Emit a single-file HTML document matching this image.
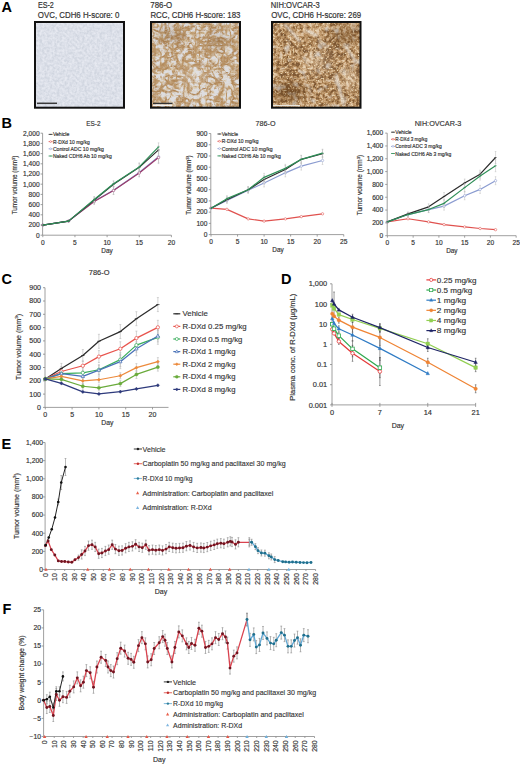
<!DOCTYPE html><html><head><meta charset="utf-8"><title>Figure</title><style>html,body{margin:0;padding:0;background:#fff;width:520px;height:764px;overflow:hidden}svg{display:block}text{font-family:"Liberation Sans",sans-serif}</style></head><body><svg width="520" height="764" viewBox="0 0 520 764" font-family='"Liberation Sans", sans-serif'>
<defs>
<linearGradient id="es2Base" x1="0" y1="0" x2="1" y2="1"><stop offset="0" stop-color="#dfe4ec"/><stop offset="1" stop-color="#dde3eb"/></linearGradient>
<linearGradient id="r786Base" x1="0" y1="0" x2="1" y2="1"><stop offset="0" stop-color="#d4bb9a"/><stop offset="1" stop-color="#d2b998"/></linearGradient>
<linearGradient id="ovcBase" x1="0" y1="0" x2="1" y2="1"><stop offset="0" stop-color="#b99a70"/><stop offset="1" stop-color="#b69870"/></linearGradient>
<filter id="es2" x="0" y="0" width="1" height="1" color-interpolation-filters="sRGB">
  <feTurbulence type="fractalNoise" baseFrequency="0.4" numOctaves="2" seed="3" result="n"/>
  <feColorMatrix in="n" type="matrix" values="2 0 0 0 -0.5  2 0 0 0 -0.5  2 0 0 0 -0.5  0 0 0 0 1" result="g"/>
  <feComponentTransfer in="g">
    <feFuncR type="table" tableValues="0.82 0.865 0.905"/>
    <feFuncG type="table" tableValues="0.84 0.88 0.915"/>
    <feFuncB type="table" tableValues="0.88 0.915 0.945"/>
  </feComponentTransfer>
</filter>
<filter id="r786" x="0" y="0" width="1" height="1" color-interpolation-filters="sRGB">
  <feTurbulence type="fractalNoise" baseFrequency="0.2 0.28" numOctaves="3" seed="7" result="n"/>
  <feColorMatrix in="n" type="matrix" values="2.0 0 0 0 -0.2  2.0 0 0 0 -0.2  2.0 0 0 0 -0.2  0 0 0 0 1" result="g"/>
  <feComponentTransfer in="g" result="base">
    <feFuncR type="table" tableValues="0.72 0.78 0.83 0.86 0.87 0.87"/>
    <feFuncG type="table" tableValues="0.60 0.67 0.75 0.81 0.85 0.87"/>
    <feFuncB type="table" tableValues="0.44 0.52 0.63 0.74 0.83 0.88"/>
  </feComponentTransfer>
  <feTurbulence type="turbulence" baseFrequency="0.09 0.13" numOctaves="3" seed="13" result="t"/>
  <feColorMatrix in="t" type="matrix" values="0 0 0 0 0.69  0 0 0 0 0.53  0 0 0 0 0.35  -4.2 0 0 0 1.38" result="veins"/>
  <feTurbulence type="turbulence" baseFrequency="0.13 0.09" numOctaves="3" seed="31" result="t2"/>
  <feColorMatrix in="t2" type="matrix" values="0 0 0 0 0.73  0 0 0 0 0.58  0 0 0 0 0.40  -4.2 0 0 0 1.22" result="veins2"/>
  <feMerge result="c"><feMergeNode in="base"/><feMergeNode in="veins"/><feMergeNode in="veins2"/></feMerge>
  <feGaussianBlur in="c" stdDeviation="0.35"/>
</filter>
<filter id="ovc" x="0" y="0" width="1" height="1" color-interpolation-filters="sRGB">
  <feTurbulence type="fractalNoise" baseFrequency="0.3" numOctaves="3" seed="5" result="n"/>
  <feTurbulence type="fractalNoise" baseFrequency="0.05" numOctaves="2" seed="21" result="m"/>
  <feComposite in="n" in2="m" operator="arithmetic" k1="0" k2="0.8" k3="0.3" k4="-0.05" result="nn"/>
  <feColorMatrix in="nn" type="matrix" values="2.4 0 0 0 -0.68  2.4 0 0 0 -0.68  2.4 0 0 0 -0.68  0 0 0 0 1" result="g"/>
  <feComponentTransfer in="g" result="base">
    <feFuncR type="table" tableValues="0.50 0.61 0.70 0.78 0.85 0.89"/>
    <feFuncG type="table" tableValues="0.35 0.45 0.54 0.63 0.73 0.80"/>
    <feFuncB type="table" tableValues="0.21 0.28 0.36 0.46 0.59 0.69"/>
  </feComponentTransfer>
  <feTurbulence type="fractalNoise" baseFrequency="0.12" numOctaves="2" seed="55" result="gr"/>
  <feColorMatrix in="gr" type="matrix" values="0 0 0 0 0.82  0 0 0 0 0.79  0 0 0 0 0.76  4 0 0 0 -2.3" result="gray"/>
  <feTurbulence type="fractalNoise" baseFrequency="0.6" numOctaves="1" seed="77" result="s"/>
  <feColorMatrix in="s" type="matrix" values="0 0 0 0 0.93  0 0 0 0 0.86  0 0 0 0 0.72  5 0 0 0 -2.85" result="specks"/>
  <feMerge result="c"><feMergeNode in="base"/><feMergeNode in="gray"/><feMergeNode in="specks"/></feMerge>
  <feGaussianBlur in="c" stdDeviation="0.3"/>
</filter>
<filter id="soft" x="-0.2" y="-0.2" width="1.4" height="1.4"><feGaussianBlur stdDeviation="0.8"/></filter>
<radialGradient id="dk"><stop offset="0" stop-color="#5a3510" stop-opacity="0.35"/><stop offset="1" stop-color="#5a3510" stop-opacity="0"/></radialGradient>
<radialGradient id="lt"><stop offset="0" stop-color="#f0ece6" stop-opacity="0.4"/><stop offset="1" stop-color="#f0ece6" stop-opacity="0"/></radialGradient>
</defs>
<rect x="0" y="0" width="520" height="764" fill="#fff"/>
<text x="1.50" y="12.00" font-size="14.5" font-weight="bold" fill="#000">A</text>
<text x="1.60" y="128.30" font-size="14.5" font-weight="bold" fill="#000">B</text>
<text x="1.60" y="284.40" font-size="14.5" font-weight="bold" fill="#000">C</text>
<text x="281.00" y="284.30" font-size="14.5" font-weight="bold" fill="#000">D</text>
<text x="1.60" y="448.70" font-size="14.5" font-weight="bold" fill="#000">E</text>
<text x="2.60" y="614.20" font-size="14.5" font-weight="bold" fill="#000">F</text>
<text x="37.90" y="7.80" font-size="8.9" stroke="#333333" stroke-width="0.2" fill="#333333" textLength="15.9" lengthAdjust="spacingAndGlyphs">ES-2</text>
<text x="37.80" y="18.40" font-size="8.9" stroke="#333333" stroke-width="0.2" fill="#333333" textLength="81.5" lengthAdjust="spacingAndGlyphs">OVC, CDH6  H-score: 0</text>
<text x="150.30" y="7.80" font-size="8.9" stroke="#333333" stroke-width="0.2" fill="#333333" textLength="21.8" lengthAdjust="spacingAndGlyphs">786-O</text>
<text x="150.40" y="18.40" font-size="8.9" stroke="#333333" stroke-width="0.2" fill="#333333" textLength="90.0" lengthAdjust="spacingAndGlyphs">RCC, CDH6  H-score: 183</text>
<text x="270.80" y="7.80" font-size="8.9" stroke="#333333" stroke-width="0.2" fill="#333333" textLength="49.0" lengthAdjust="spacingAndGlyphs">NIH:OVCAR-3</text>
<text x="271.20" y="18.40" font-size="8.9" stroke="#333333" stroke-width="0.2" fill="#333333" textLength="90" lengthAdjust="spacingAndGlyphs">OVC, CDH6  H-score: 269</text>
<rect x="35" y="22" width="89" height="85.7" fill="url(#es2Base)"/>
<rect x="35" y="22" width="89" height="85.7" filter="url(#es2)"/>
<clipPath id="clipes2"><rect x="35" y="22" width="89" height="85.7"/></clipPath>
<g clip-path="url(#clipes2)"></g>
<rect x="35" y="22" width="89" height="85.7" fill="none" stroke="#111" stroke-width="2"/>
<rect x="151" y="22" width="89" height="85.7" fill="url(#r786Base)"/>
<rect x="151" y="22" width="89" height="85.7" filter="url(#r786)"/>
<clipPath id="clipr786"><rect x="151" y="22" width="89" height="85.7"/></clipPath>
<g clip-path="url(#clipr786)"><ellipse cx="170" cy="35" rx="20" ry="14" fill="url(#dk)" opacity="0.5"/><ellipse cx="218" cy="40" rx="18" ry="14" fill="url(#dk)" opacity="0.4"/><ellipse cx="195" cy="75" rx="18" ry="12" fill="url(#lt)" opacity="0.6"/></g>
<rect x="151" y="22" width="89" height="85.7" fill="none" stroke="#111" stroke-width="2"/>
<rect x="272" y="22" width="88.5" height="85.7" fill="url(#ovcBase)"/>
<rect x="272" y="22" width="88.5" height="85.7" filter="url(#ovc)"/>
<clipPath id="clipovc"><rect x="272" y="22" width="88.5" height="85.7"/></clipPath>
<g clip-path="url(#clipovc)"><ellipse cx="345" cy="35" rx="22" ry="16" fill="url(#dk)"/><ellipse cx="290" cy="92" rx="26" ry="16" fill="url(#dk)"/><ellipse cx="318" cy="62" rx="22" ry="20" fill="url(#lt)" opacity="0.5"/><ellipse cx="350" cy="78" rx="12" ry="18" fill="url(#lt)" opacity="0.6"/><g filter="url(#soft)" stroke="#e6e2dc" stroke-width="2.2" fill="none" opacity="0.9"><path d="M284,24 C290,30 296,36 300,42"/><path d="M344,44 C348,50 352,56 356,62"/><path d="M336,74 C338,84 341,94 344,106"/><path d="M306,30 C310,33 314,34 318,36"/></g></g>
<rect x="272" y="22" width="88.5" height="85.7" fill="none" stroke="#111" stroke-width="2"/>
<line x1="37.00" y1="103.30" x2="57.00" y2="103.30" stroke="#3a3a3a" stroke-width="1.5" />
<line x1="153.00" y1="103.40" x2="172.50" y2="103.40" stroke="#333" stroke-width="1.3" />
<line x1="153.00" y1="105.30" x2="172.50" y2="105.30" stroke="#f2f2f2" stroke-width="1.4" />
<line x1="273.00" y1="105.60" x2="300.00" y2="105.60" stroke="#e8e4dc" stroke-width="1.2" />
<line x1="42.60" y1="133.20" x2="42.60" y2="235.20" stroke="#888" stroke-width="0.8" />
<line x1="40.60" y1="235.20" x2="42.60" y2="235.20" stroke="#888" stroke-width="0.8" />
<text x="39.60" y="237.51" font-size="6.6" stroke="#333333" stroke-width="0.16" text-anchor="end" fill="#333333">0</text>
<line x1="40.60" y1="225.00" x2="42.60" y2="225.00" stroke="#888" stroke-width="0.8" />
<text x="39.60" y="227.31" font-size="6.6" stroke="#333333" stroke-width="0.16" text-anchor="end" fill="#333333">200</text>
<line x1="40.60" y1="214.80" x2="42.60" y2="214.80" stroke="#888" stroke-width="0.8" />
<text x="39.60" y="217.11" font-size="6.6" stroke="#333333" stroke-width="0.16" text-anchor="end" fill="#333333">400</text>
<line x1="40.60" y1="204.60" x2="42.60" y2="204.60" stroke="#888" stroke-width="0.8" />
<text x="39.60" y="206.91" font-size="6.6" stroke="#333333" stroke-width="0.16" text-anchor="end" fill="#333333">600</text>
<line x1="40.60" y1="194.40" x2="42.60" y2="194.40" stroke="#888" stroke-width="0.8" />
<text x="39.60" y="196.71" font-size="6.6" stroke="#333333" stroke-width="0.16" text-anchor="end" fill="#333333">800</text>
<line x1="40.60" y1="184.20" x2="42.60" y2="184.20" stroke="#888" stroke-width="0.8" />
<text x="39.60" y="186.51" font-size="6.6" stroke="#333333" stroke-width="0.16" text-anchor="end" fill="#333333">1,000</text>
<line x1="40.60" y1="174.00" x2="42.60" y2="174.00" stroke="#888" stroke-width="0.8" />
<text x="39.60" y="176.31" font-size="6.6" stroke="#333333" stroke-width="0.16" text-anchor="end" fill="#333333">1,200</text>
<line x1="40.60" y1="163.80" x2="42.60" y2="163.80" stroke="#888" stroke-width="0.8" />
<text x="39.60" y="166.11" font-size="6.6" stroke="#333333" stroke-width="0.16" text-anchor="end" fill="#333333">1,400</text>
<line x1="40.60" y1="153.60" x2="42.60" y2="153.60" stroke="#888" stroke-width="0.8" />
<text x="39.60" y="155.91" font-size="6.6" stroke="#333333" stroke-width="0.16" text-anchor="end" fill="#333333">1,600</text>
<line x1="40.60" y1="143.40" x2="42.60" y2="143.40" stroke="#888" stroke-width="0.8" />
<text x="39.60" y="145.71" font-size="6.6" stroke="#333333" stroke-width="0.16" text-anchor="end" fill="#333333">1,800</text>
<line x1="40.60" y1="133.20" x2="42.60" y2="133.20" stroke="#888" stroke-width="0.8" />
<text x="39.60" y="135.51" font-size="6.6" stroke="#333333" stroke-width="0.16" text-anchor="end" fill="#333333">2,000</text>
<line x1="42.60" y1="235.20" x2="171.40" y2="235.20" stroke="#888" stroke-width="0.8" />
<line x1="42.80" y1="235.20" x2="42.80" y2="237.20" stroke="#888" stroke-width="0.8" />
<text x="42.80" y="244.50" font-size="6.6" stroke="#333333" stroke-width="0.16" text-anchor="middle" fill="#333333">0</text>
<line x1="74.95" y1="235.20" x2="74.95" y2="237.20" stroke="#888" stroke-width="0.8" />
<text x="74.95" y="244.50" font-size="6.6" stroke="#333333" stroke-width="0.16" text-anchor="middle" fill="#333333">5</text>
<line x1="107.10" y1="235.20" x2="107.10" y2="237.20" stroke="#888" stroke-width="0.8" />
<text x="107.10" y="244.50" font-size="6.6" stroke="#333333" stroke-width="0.16" text-anchor="middle" fill="#333333">10</text>
<line x1="139.25" y1="235.20" x2="139.25" y2="237.20" stroke="#888" stroke-width="0.8" />
<text x="139.25" y="244.50" font-size="6.6" stroke="#333333" stroke-width="0.16" text-anchor="middle" fill="#333333">15</text>
<line x1="171.40" y1="235.20" x2="171.40" y2="237.20" stroke="#888" stroke-width="0.8" />
<text x="171.40" y="244.50" font-size="6.6" stroke="#333333" stroke-width="0.16" text-anchor="middle" fill="#333333">20</text>
<text x="107.00" y="252.80" font-size="6.4" stroke="#333333" stroke-width="0.16" text-anchor="middle" fill="#333333">Day</text>
<text x="93.40" y="125.70" font-size="8.0" stroke="#333333" stroke-width="0.16" text-anchor="middle" fill="#333333" textLength="14.2" lengthAdjust="spacingAndGlyphs">ES-2</text>
<text x="17.20" y="185.00" font-size="6.4" stroke="#333333" stroke-width="0.16" text-anchor="middle" fill="#333333" textLength="58.7" lengthAdjust="spacingAndGlyphs" transform="rotate(-90 17.20 185.00)">Tumor volume (mm<tspan font-size="4.2" dy="-2.2">3</tspan><tspan dy="2.2">)</tspan></text>
<line x1="94.24" y1="198.03" x2="94.24" y2="204.03" stroke="#bbb" stroke-width="0.5" />
<line x1="93.44" y1="198.03" x2="95.04" y2="198.03" stroke="#bbb" stroke-width="0.5" />
<line x1="93.44" y1="204.03" x2="95.04" y2="204.03" stroke="#bbb" stroke-width="0.5" />
<line x1="113.53" y1="186.32" x2="113.53" y2="194.32" stroke="#bbb" stroke-width="0.5" />
<line x1="112.73" y1="186.32" x2="114.33" y2="186.32" stroke="#bbb" stroke-width="0.5" />
<line x1="112.73" y1="194.32" x2="114.33" y2="194.32" stroke="#bbb" stroke-width="0.5" />
<line x1="139.25" y1="168.47" x2="139.25" y2="176.47" stroke="#bbb" stroke-width="0.5" />
<line x1="138.45" y1="168.47" x2="140.05" y2="168.47" stroke="#bbb" stroke-width="0.5" />
<line x1="138.45" y1="176.47" x2="140.05" y2="176.47" stroke="#bbb" stroke-width="0.5" />
<line x1="158.54" y1="150.66" x2="158.54" y2="162.66" stroke="#bbb" stroke-width="0.5" />
<line x1="157.74" y1="150.66" x2="159.34" y2="150.66" stroke="#bbb" stroke-width="0.5" />
<line x1="157.74" y1="162.66" x2="159.34" y2="162.66" stroke="#bbb" stroke-width="0.5" />
<polyline points="42.80,225.15 68.52,221.12 94.24,201.03 113.53,190.32 139.25,172.47 158.54,156.66" fill="none" stroke="#8a9bd0" stroke-width="1.2" stroke-linejoin="round" />
<circle cx="42.80" cy="225.15" r="1.2" fill="#fff" stroke="#8a9bd0" stroke-width="0.55"/>
<circle cx="68.52" cy="221.12" r="1.2" fill="#fff" stroke="#8a9bd0" stroke-width="0.55"/>
<circle cx="94.24" cy="201.03" r="1.2" fill="#fff" stroke="#8a9bd0" stroke-width="0.55"/>
<circle cx="113.53" cy="190.32" r="1.2" fill="#fff" stroke="#8a9bd0" stroke-width="0.55"/>
<circle cx="139.25" cy="172.47" r="1.2" fill="#fff" stroke="#8a9bd0" stroke-width="0.55"/>
<circle cx="158.54" cy="156.66" r="1.2" fill="#fff" stroke="#8a9bd0" stroke-width="0.55"/>
<line x1="94.24" y1="198.54" x2="94.24" y2="204.54" stroke="#bbb" stroke-width="0.5" />
<line x1="93.44" y1="198.54" x2="95.04" y2="198.54" stroke="#bbb" stroke-width="0.5" />
<line x1="93.44" y1="204.54" x2="95.04" y2="204.54" stroke="#bbb" stroke-width="0.5" />
<line x1="113.53" y1="186.52" x2="113.53" y2="194.52" stroke="#bbb" stroke-width="0.5" />
<line x1="112.73" y1="186.52" x2="114.33" y2="186.52" stroke="#bbb" stroke-width="0.5" />
<line x1="112.73" y1="194.52" x2="114.33" y2="194.52" stroke="#bbb" stroke-width="0.5" />
<line x1="139.25" y1="168.98" x2="139.25" y2="176.98" stroke="#bbb" stroke-width="0.5" />
<line x1="138.45" y1="168.98" x2="140.05" y2="168.98" stroke="#bbb" stroke-width="0.5" />
<line x1="138.45" y1="176.98" x2="140.05" y2="176.98" stroke="#bbb" stroke-width="0.5" />
<line x1="158.54" y1="151.58" x2="158.54" y2="163.58" stroke="#bbb" stroke-width="0.5" />
<line x1="157.74" y1="151.58" x2="159.34" y2="151.58" stroke="#bbb" stroke-width="0.5" />
<line x1="157.74" y1="163.58" x2="159.34" y2="163.58" stroke="#bbb" stroke-width="0.5" />
<polyline points="42.80,225.15 68.52,221.12 94.24,201.54 113.53,190.52 139.25,172.98 158.54,157.58" fill="none" stroke="#9a3a6a" stroke-width="1.2" stroke-linejoin="round" />
<circle cx="42.80" cy="225.15" r="1.2" fill="#fff" stroke="#9a3a6a" stroke-width="0.55"/>
<circle cx="68.52" cy="221.12" r="1.2" fill="#fff" stroke="#9a3a6a" stroke-width="0.55"/>
<circle cx="94.24" cy="201.54" r="1.2" fill="#fff" stroke="#9a3a6a" stroke-width="0.55"/>
<circle cx="113.53" cy="190.52" r="1.2" fill="#fff" stroke="#9a3a6a" stroke-width="0.55"/>
<circle cx="139.25" cy="172.98" r="1.2" fill="#fff" stroke="#9a3a6a" stroke-width="0.55"/>
<circle cx="158.54" cy="157.58" r="1.2" fill="#fff" stroke="#9a3a6a" stroke-width="0.55"/>
<line x1="94.24" y1="197.06" x2="94.24" y2="203.06" stroke="#bbb" stroke-width="0.5" />
<line x1="93.44" y1="197.06" x2="95.04" y2="197.06" stroke="#bbb" stroke-width="0.5" />
<line x1="93.44" y1="203.06" x2="95.04" y2="203.06" stroke="#bbb" stroke-width="0.5" />
<line x1="113.53" y1="181.20" x2="113.53" y2="187.20" stroke="#bbb" stroke-width="0.5" />
<line x1="112.73" y1="181.20" x2="114.33" y2="181.20" stroke="#bbb" stroke-width="0.5" />
<line x1="112.73" y1="187.20" x2="114.33" y2="187.20" stroke="#bbb" stroke-width="0.5" />
<line x1="139.25" y1="163.37" x2="139.25" y2="171.37" stroke="#bbb" stroke-width="0.5" />
<line x1="138.45" y1="163.37" x2="140.05" y2="163.37" stroke="#bbb" stroke-width="0.5" />
<line x1="138.45" y1="171.37" x2="140.05" y2="171.37" stroke="#bbb" stroke-width="0.5" />
<line x1="158.54" y1="145.88" x2="158.54" y2="153.88" stroke="#bbb" stroke-width="0.5" />
<line x1="157.74" y1="145.88" x2="159.34" y2="145.88" stroke="#bbb" stroke-width="0.5" />
<line x1="157.74" y1="153.88" x2="159.34" y2="153.88" stroke="#bbb" stroke-width="0.5" />
<polyline points="42.80,225.15 68.52,221.12 94.24,200.06 113.53,184.20 139.25,167.37 158.54,149.88" fill="none" stroke="#2b2b2b" stroke-width="1.2" stroke-linejoin="round" />
<line x1="41.60" y1="225.15" x2="44.00" y2="225.15" stroke="#2b2b2b" stroke-width="0.55" />
<line x1="67.32" y1="221.12" x2="69.72" y2="221.12" stroke="#2b2b2b" stroke-width="0.55" />
<line x1="93.04" y1="200.06" x2="95.44" y2="200.06" stroke="#2b2b2b" stroke-width="0.55" />
<line x1="112.33" y1="184.20" x2="114.73" y2="184.20" stroke="#2b2b2b" stroke-width="0.55" />
<line x1="138.05" y1="167.37" x2="140.45" y2="167.37" stroke="#2b2b2b" stroke-width="0.55" />
<line x1="157.34" y1="149.88" x2="159.74" y2="149.88" stroke="#2b2b2b" stroke-width="0.55" />
<line x1="94.24" y1="196.50" x2="94.24" y2="202.50" stroke="#bbb" stroke-width="0.5" />
<line x1="93.44" y1="196.50" x2="95.04" y2="196.50" stroke="#bbb" stroke-width="0.5" />
<line x1="93.44" y1="202.50" x2="95.04" y2="202.50" stroke="#bbb" stroke-width="0.5" />
<line x1="113.53" y1="180.79" x2="113.53" y2="186.79" stroke="#bbb" stroke-width="0.5" />
<line x1="112.73" y1="180.79" x2="114.33" y2="180.79" stroke="#bbb" stroke-width="0.5" />
<line x1="112.73" y1="186.79" x2="114.33" y2="186.79" stroke="#bbb" stroke-width="0.5" />
<line x1="139.25" y1="162.91" x2="139.25" y2="170.91" stroke="#bbb" stroke-width="0.5" />
<line x1="138.45" y1="162.91" x2="140.05" y2="162.91" stroke="#bbb" stroke-width="0.5" />
<line x1="138.45" y1="170.91" x2="140.05" y2="170.91" stroke="#bbb" stroke-width="0.5" />
<line x1="158.54" y1="142.87" x2="158.54" y2="150.87" stroke="#bbb" stroke-width="0.5" />
<line x1="157.74" y1="142.87" x2="159.34" y2="142.87" stroke="#bbb" stroke-width="0.5" />
<line x1="157.74" y1="150.87" x2="159.34" y2="150.87" stroke="#bbb" stroke-width="0.5" />
<polyline points="42.80,225.15 68.52,221.12 94.24,199.50 113.53,183.79 139.25,166.91 158.54,146.87" fill="none" stroke="#2f8f58" stroke-width="1.2" stroke-linejoin="round" />
<line x1="41.60" y1="225.15" x2="44.00" y2="225.15" stroke="#2f8f58" stroke-width="0.55" />
<line x1="67.32" y1="221.12" x2="69.72" y2="221.12" stroke="#2f8f58" stroke-width="0.55" />
<line x1="93.04" y1="199.50" x2="95.44" y2="199.50" stroke="#2f8f58" stroke-width="0.55" />
<line x1="112.33" y1="183.79" x2="114.73" y2="183.79" stroke="#2f8f58" stroke-width="0.55" />
<line x1="138.05" y1="166.91" x2="140.45" y2="166.91" stroke="#2f8f58" stroke-width="0.55" />
<line x1="157.34" y1="146.87" x2="159.74" y2="146.87" stroke="#2f8f58" stroke-width="0.55" />
<line x1="48.60" y1="134.40" x2="52.60" y2="134.40" stroke="#2b2b2b" stroke-width="0.8" />
<line x1="49.70" y1="134.40" x2="51.50" y2="134.40" stroke="#2b2b2b" stroke-width="0.5" />
<text x="52.90" y="136.40" font-size="5.7" stroke="#333333" stroke-width="0.18" fill="#333333" textLength="16.4" lengthAdjust="spacingAndGlyphs">Vehicle</text>
<line x1="48.60" y1="141.60" x2="52.60" y2="141.60" stroke="#e0524f" stroke-width="0.8" />
<circle cx="50.60" cy="141.60" r="0.9" fill="#fff" stroke="#e0524f" stroke-width="0.5"/>
<text x="52.90" y="143.60" font-size="5.7" stroke="#333333" stroke-width="0.18" fill="#333333" textLength="36.8" lengthAdjust="spacingAndGlyphs">R-DXd 10 mg/kg</text>
<line x1="48.60" y1="148.80" x2="52.60" y2="148.80" stroke="#8a9bd0" stroke-width="0.8" />
<circle cx="50.60" cy="148.80" r="0.9" fill="#fff" stroke="#8a9bd0" stroke-width="0.5"/>
<text x="52.90" y="150.80" font-size="5.7" stroke="#333333" stroke-width="0.18" fill="#333333" textLength="51.0" lengthAdjust="spacingAndGlyphs">Control ADC 10 mg/kg</text>
<line x1="48.60" y1="156.00" x2="52.60" y2="156.00" stroke="#2f8f58" stroke-width="0.8" />
<line x1="49.70" y1="156.00" x2="51.50" y2="156.00" stroke="#2f8f58" stroke-width="0.5" />
<text x="52.90" y="158.00" font-size="5.7" stroke="#333333" stroke-width="0.18" fill="#333333" textLength="58.8" lengthAdjust="spacingAndGlyphs">Naked CDH6 Ab 10 mg/kg</text>
<line x1="210.80" y1="133.53" x2="210.80" y2="234.60" stroke="#888" stroke-width="0.8" />
<line x1="208.80" y1="234.60" x2="210.80" y2="234.60" stroke="#888" stroke-width="0.8" />
<text x="207.40" y="236.91" font-size="6.6" stroke="#333333" stroke-width="0.16" text-anchor="end" fill="#333333">0</text>
<line x1="208.80" y1="223.37" x2="210.80" y2="223.37" stroke="#888" stroke-width="0.8" />
<text x="207.40" y="225.68" font-size="6.6" stroke="#333333" stroke-width="0.16" text-anchor="end" fill="#333333">100</text>
<line x1="208.80" y1="212.14" x2="210.80" y2="212.14" stroke="#888" stroke-width="0.8" />
<text x="207.40" y="214.45" font-size="6.6" stroke="#333333" stroke-width="0.16" text-anchor="end" fill="#333333">200</text>
<line x1="208.80" y1="200.91" x2="210.80" y2="200.91" stroke="#888" stroke-width="0.8" />
<text x="207.40" y="203.22" font-size="6.6" stroke="#333333" stroke-width="0.16" text-anchor="end" fill="#333333">300</text>
<line x1="208.80" y1="189.68" x2="210.80" y2="189.68" stroke="#888" stroke-width="0.8" />
<text x="207.40" y="191.99" font-size="6.6" stroke="#333333" stroke-width="0.16" text-anchor="end" fill="#333333">400</text>
<line x1="208.80" y1="178.45" x2="210.80" y2="178.45" stroke="#888" stroke-width="0.8" />
<text x="207.40" y="180.76" font-size="6.6" stroke="#333333" stroke-width="0.16" text-anchor="end" fill="#333333">500</text>
<line x1="208.80" y1="167.22" x2="210.80" y2="167.22" stroke="#888" stroke-width="0.8" />
<text x="207.40" y="169.53" font-size="6.6" stroke="#333333" stroke-width="0.16" text-anchor="end" fill="#333333">600</text>
<line x1="208.80" y1="155.99" x2="210.80" y2="155.99" stroke="#888" stroke-width="0.8" />
<text x="207.40" y="158.30" font-size="6.6" stroke="#333333" stroke-width="0.16" text-anchor="end" fill="#333333">700</text>
<line x1="208.80" y1="144.76" x2="210.80" y2="144.76" stroke="#888" stroke-width="0.8" />
<text x="207.40" y="147.07" font-size="6.6" stroke="#333333" stroke-width="0.16" text-anchor="end" fill="#333333">800</text>
<line x1="208.80" y1="133.53" x2="210.80" y2="133.53" stroke="#888" stroke-width="0.8" />
<text x="207.40" y="135.84" font-size="6.6" stroke="#333333" stroke-width="0.16" text-anchor="end" fill="#333333">900</text>
<line x1="210.80" y1="234.60" x2="343.75" y2="234.60" stroke="#888" stroke-width="0.8" />
<line x1="211.00" y1="234.60" x2="211.00" y2="236.60" stroke="#888" stroke-width="0.8" />
<text x="211.00" y="243.90" font-size="6.6" stroke="#333333" stroke-width="0.16" text-anchor="middle" fill="#333333">0</text>
<line x1="237.55" y1="234.60" x2="237.55" y2="236.60" stroke="#888" stroke-width="0.8" />
<text x="237.55" y="243.90" font-size="6.6" stroke="#333333" stroke-width="0.16" text-anchor="middle" fill="#333333">5</text>
<line x1="264.10" y1="234.60" x2="264.10" y2="236.60" stroke="#888" stroke-width="0.8" />
<text x="264.10" y="243.90" font-size="6.6" stroke="#333333" stroke-width="0.16" text-anchor="middle" fill="#333333">10</text>
<line x1="290.65" y1="234.60" x2="290.65" y2="236.60" stroke="#888" stroke-width="0.8" />
<text x="290.65" y="243.90" font-size="6.6" stroke="#333333" stroke-width="0.16" text-anchor="middle" fill="#333333">15</text>
<line x1="317.20" y1="234.60" x2="317.20" y2="236.60" stroke="#888" stroke-width="0.8" />
<text x="317.20" y="243.90" font-size="6.6" stroke="#333333" stroke-width="0.16" text-anchor="middle" fill="#333333">20</text>
<line x1="343.75" y1="234.60" x2="343.75" y2="236.60" stroke="#888" stroke-width="0.8" />
<text x="343.75" y="243.90" font-size="6.6" stroke="#333333" stroke-width="0.16" text-anchor="middle" fill="#333333">25</text>
<text x="278.00" y="252.20" font-size="6.4" stroke="#333333" stroke-width="0.16" text-anchor="middle" fill="#333333">Day</text>
<text x="265.50" y="125.70" font-size="8.0" stroke="#333333" stroke-width="0.16" text-anchor="middle" fill="#333333" textLength="19.9" lengthAdjust="spacingAndGlyphs">786-O</text>
<text x="191.40" y="185.00" font-size="6.4" stroke="#333333" stroke-width="0.16" text-anchor="middle" fill="#333333" textLength="59.4" lengthAdjust="spacingAndGlyphs" transform="rotate(-90 191.40 185.00)">Tumor volume (mm<tspan font-size="4.2" dy="-2.2">3</tspan><tspan dy="2.2">)</tspan></text>
<polyline points="211.00,208.21 226.93,209.33 248.17,218.88 264.10,221.12 285.34,218.88 301.27,216.63 322.51,213.82" fill="none" stroke="#e0524f" stroke-width="1.2" stroke-linejoin="round" />
<circle cx="211.00" cy="208.21" r="1.2" fill="#fff" stroke="#e0524f" stroke-width="0.55"/>
<circle cx="226.93" cy="209.33" r="1.2" fill="#fff" stroke="#e0524f" stroke-width="0.55"/>
<circle cx="248.17" cy="218.88" r="1.2" fill="#fff" stroke="#e0524f" stroke-width="0.55"/>
<circle cx="264.10" cy="221.12" r="1.2" fill="#fff" stroke="#e0524f" stroke-width="0.55"/>
<circle cx="285.34" cy="218.88" r="1.2" fill="#fff" stroke="#e0524f" stroke-width="0.55"/>
<circle cx="301.27" cy="216.63" r="1.2" fill="#fff" stroke="#e0524f" stroke-width="0.55"/>
<circle cx="322.51" cy="213.82" r="1.2" fill="#fff" stroke="#e0524f" stroke-width="0.55"/>
<line x1="226.93" y1="197.35" x2="226.93" y2="203.35" stroke="#bbb" stroke-width="0.5" />
<line x1="226.13" y1="197.35" x2="227.73" y2="197.35" stroke="#bbb" stroke-width="0.5" />
<line x1="226.13" y1="203.35" x2="227.73" y2="203.35" stroke="#bbb" stroke-width="0.5" />
<line x1="248.17" y1="187.24" x2="248.17" y2="193.24" stroke="#bbb" stroke-width="0.5" />
<line x1="247.37" y1="187.24" x2="248.97" y2="187.24" stroke="#bbb" stroke-width="0.5" />
<line x1="247.37" y1="193.24" x2="248.97" y2="193.24" stroke="#bbb" stroke-width="0.5" />
<line x1="264.10" y1="178.94" x2="264.10" y2="186.94" stroke="#bbb" stroke-width="0.5" />
<line x1="263.30" y1="178.94" x2="264.90" y2="178.94" stroke="#bbb" stroke-width="0.5" />
<line x1="263.30" y1="186.94" x2="264.90" y2="186.94" stroke="#bbb" stroke-width="0.5" />
<line x1="285.34" y1="168.83" x2="285.34" y2="176.83" stroke="#bbb" stroke-width="0.5" />
<line x1="284.54" y1="168.83" x2="286.14" y2="168.83" stroke="#bbb" stroke-width="0.5" />
<line x1="284.54" y1="176.83" x2="286.14" y2="176.83" stroke="#bbb" stroke-width="0.5" />
<line x1="301.27" y1="162.10" x2="301.27" y2="170.10" stroke="#bbb" stroke-width="0.5" />
<line x1="300.47" y1="162.10" x2="302.07" y2="162.10" stroke="#bbb" stroke-width="0.5" />
<line x1="300.47" y1="170.10" x2="302.07" y2="170.10" stroke="#bbb" stroke-width="0.5" />
<line x1="322.51" y1="156.48" x2="322.51" y2="164.48" stroke="#bbb" stroke-width="0.5" />
<line x1="321.71" y1="156.48" x2="323.31" y2="156.48" stroke="#bbb" stroke-width="0.5" />
<line x1="321.71" y1="164.48" x2="323.31" y2="164.48" stroke="#bbb" stroke-width="0.5" />
<polyline points="211.00,208.21 226.93,200.35 248.17,190.24 264.10,182.94 285.34,172.83 301.27,166.10 322.51,160.48" fill="none" stroke="#8a9bd0" stroke-width="1.2" stroke-linejoin="round" />
<circle cx="211.00" cy="208.21" r="1.2" fill="#fff" stroke="#8a9bd0" stroke-width="0.55"/>
<circle cx="226.93" cy="200.35" r="1.2" fill="#fff" stroke="#8a9bd0" stroke-width="0.55"/>
<circle cx="248.17" cy="190.24" r="1.2" fill="#fff" stroke="#8a9bd0" stroke-width="0.55"/>
<circle cx="264.10" cy="182.94" r="1.2" fill="#fff" stroke="#8a9bd0" stroke-width="0.55"/>
<circle cx="285.34" cy="172.83" r="1.2" fill="#fff" stroke="#8a9bd0" stroke-width="0.55"/>
<circle cx="301.27" cy="166.10" r="1.2" fill="#fff" stroke="#8a9bd0" stroke-width="0.55"/>
<circle cx="322.51" cy="160.48" r="1.2" fill="#fff" stroke="#8a9bd0" stroke-width="0.55"/>
<line x1="226.93" y1="196.79" x2="226.93" y2="202.79" stroke="#bbb" stroke-width="0.5" />
<line x1="226.13" y1="196.79" x2="227.73" y2="196.79" stroke="#bbb" stroke-width="0.5" />
<line x1="226.13" y1="202.79" x2="227.73" y2="202.79" stroke="#bbb" stroke-width="0.5" />
<line x1="248.17" y1="186.68" x2="248.17" y2="192.68" stroke="#bbb" stroke-width="0.5" />
<line x1="247.37" y1="186.68" x2="248.97" y2="186.68" stroke="#bbb" stroke-width="0.5" />
<line x1="247.37" y1="192.68" x2="248.97" y2="192.68" stroke="#bbb" stroke-width="0.5" />
<line x1="264.10" y1="175.57" x2="264.10" y2="183.57" stroke="#bbb" stroke-width="0.5" />
<line x1="263.30" y1="175.57" x2="264.90" y2="175.57" stroke="#bbb" stroke-width="0.5" />
<line x1="263.30" y1="183.57" x2="264.90" y2="183.57" stroke="#bbb" stroke-width="0.5" />
<line x1="285.34" y1="165.47" x2="285.34" y2="173.47" stroke="#bbb" stroke-width="0.5" />
<line x1="284.54" y1="165.47" x2="286.14" y2="165.47" stroke="#bbb" stroke-width="0.5" />
<line x1="284.54" y1="173.47" x2="286.14" y2="173.47" stroke="#bbb" stroke-width="0.5" />
<line x1="301.27" y1="155.36" x2="301.27" y2="163.36" stroke="#bbb" stroke-width="0.5" />
<line x1="300.47" y1="155.36" x2="302.07" y2="155.36" stroke="#bbb" stroke-width="0.5" />
<line x1="300.47" y1="163.36" x2="302.07" y2="163.36" stroke="#bbb" stroke-width="0.5" />
<line x1="322.51" y1="149.74" x2="322.51" y2="157.74" stroke="#bbb" stroke-width="0.5" />
<line x1="321.71" y1="149.74" x2="323.31" y2="149.74" stroke="#bbb" stroke-width="0.5" />
<line x1="321.71" y1="157.74" x2="323.31" y2="157.74" stroke="#bbb" stroke-width="0.5" />
<polyline points="211.00,208.21 226.93,199.79 248.17,189.68 264.10,179.57 285.34,169.47 301.27,159.36 322.51,153.74" fill="none" stroke="#2b2b2b" stroke-width="1.2" stroke-linejoin="round" />
<line x1="209.80" y1="208.21" x2="212.20" y2="208.21" stroke="#2b2b2b" stroke-width="0.55" />
<line x1="225.73" y1="199.79" x2="228.13" y2="199.79" stroke="#2b2b2b" stroke-width="0.55" />
<line x1="246.97" y1="189.68" x2="249.37" y2="189.68" stroke="#2b2b2b" stroke-width="0.55" />
<line x1="262.90" y1="179.57" x2="265.30" y2="179.57" stroke="#2b2b2b" stroke-width="0.55" />
<line x1="284.14" y1="169.47" x2="286.54" y2="169.47" stroke="#2b2b2b" stroke-width="0.55" />
<line x1="300.07" y1="159.36" x2="302.47" y2="159.36" stroke="#2b2b2b" stroke-width="0.55" />
<line x1="321.31" y1="153.74" x2="323.71" y2="153.74" stroke="#2b2b2b" stroke-width="0.55" />
<line x1="226.93" y1="195.66" x2="226.93" y2="201.66" stroke="#bbb" stroke-width="0.5" />
<line x1="226.13" y1="195.66" x2="227.73" y2="195.66" stroke="#bbb" stroke-width="0.5" />
<line x1="226.13" y1="201.66" x2="227.73" y2="201.66" stroke="#bbb" stroke-width="0.5" />
<line x1="248.17" y1="186.68" x2="248.17" y2="192.68" stroke="#bbb" stroke-width="0.5" />
<line x1="247.37" y1="186.68" x2="248.97" y2="186.68" stroke="#bbb" stroke-width="0.5" />
<line x1="247.37" y1="192.68" x2="248.97" y2="192.68" stroke="#bbb" stroke-width="0.5" />
<line x1="264.10" y1="173.33" x2="264.10" y2="181.33" stroke="#bbb" stroke-width="0.5" />
<line x1="263.30" y1="173.33" x2="264.90" y2="173.33" stroke="#bbb" stroke-width="0.5" />
<line x1="263.30" y1="181.33" x2="264.90" y2="181.33" stroke="#bbb" stroke-width="0.5" />
<line x1="285.34" y1="164.34" x2="285.34" y2="172.34" stroke="#bbb" stroke-width="0.5" />
<line x1="284.54" y1="164.34" x2="286.14" y2="164.34" stroke="#bbb" stroke-width="0.5" />
<line x1="284.54" y1="172.34" x2="286.14" y2="172.34" stroke="#bbb" stroke-width="0.5" />
<line x1="301.27" y1="155.36" x2="301.27" y2="163.36" stroke="#bbb" stroke-width="0.5" />
<line x1="300.47" y1="155.36" x2="302.07" y2="155.36" stroke="#bbb" stroke-width="0.5" />
<line x1="300.47" y1="163.36" x2="302.07" y2="163.36" stroke="#bbb" stroke-width="0.5" />
<line x1="322.51" y1="149.18" x2="322.51" y2="157.18" stroke="#bbb" stroke-width="0.5" />
<line x1="321.71" y1="149.18" x2="323.31" y2="149.18" stroke="#bbb" stroke-width="0.5" />
<line x1="321.71" y1="157.18" x2="323.31" y2="157.18" stroke="#bbb" stroke-width="0.5" />
<polyline points="211.00,208.21 226.93,198.66 248.17,189.68 264.10,177.33 285.34,168.34 301.27,159.36 322.51,153.18" fill="none" stroke="#2f8f58" stroke-width="1.2" stroke-linejoin="round" />
<line x1="209.80" y1="208.21" x2="212.20" y2="208.21" stroke="#2f8f58" stroke-width="0.55" />
<line x1="225.73" y1="198.66" x2="228.13" y2="198.66" stroke="#2f8f58" stroke-width="0.55" />
<line x1="246.97" y1="189.68" x2="249.37" y2="189.68" stroke="#2f8f58" stroke-width="0.55" />
<line x1="262.90" y1="177.33" x2="265.30" y2="177.33" stroke="#2f8f58" stroke-width="0.55" />
<line x1="284.14" y1="168.34" x2="286.54" y2="168.34" stroke="#2f8f58" stroke-width="0.55" />
<line x1="300.07" y1="159.36" x2="302.47" y2="159.36" stroke="#2f8f58" stroke-width="0.55" />
<line x1="321.31" y1="153.18" x2="323.71" y2="153.18" stroke="#2f8f58" stroke-width="0.55" />
<line x1="217.40" y1="134.00" x2="221.40" y2="134.00" stroke="#2b2b2b" stroke-width="0.8" />
<line x1="218.50" y1="134.00" x2="220.30" y2="134.00" stroke="#2b2b2b" stroke-width="0.5" />
<text x="221.70" y="136.00" font-size="5.7" stroke="#333333" stroke-width="0.18" fill="#333333" textLength="16.4" lengthAdjust="spacingAndGlyphs">Vehicle</text>
<line x1="217.40" y1="141.30" x2="221.40" y2="141.30" stroke="#e0524f" stroke-width="0.8" />
<circle cx="219.40" cy="141.30" r="0.9" fill="#fff" stroke="#e0524f" stroke-width="0.5"/>
<text x="221.70" y="143.30" font-size="5.7" stroke="#333333" stroke-width="0.18" fill="#333333" textLength="36.8" lengthAdjust="spacingAndGlyphs">R-DXd 10 mg/kg</text>
<line x1="217.40" y1="148.60" x2="221.40" y2="148.60" stroke="#8a9bd0" stroke-width="0.8" />
<circle cx="219.40" cy="148.60" r="0.9" fill="#fff" stroke="#8a9bd0" stroke-width="0.5"/>
<text x="221.70" y="150.60" font-size="5.7" stroke="#333333" stroke-width="0.18" fill="#333333" textLength="51.0" lengthAdjust="spacingAndGlyphs">Control ADC 10 mg/kg</text>
<line x1="217.40" y1="155.90" x2="221.40" y2="155.90" stroke="#2f8f58" stroke-width="0.8" />
<line x1="218.50" y1="155.90" x2="220.30" y2="155.90" stroke="#2f8f58" stroke-width="0.5" />
<text x="221.70" y="157.90" font-size="5.7" stroke="#333333" stroke-width="0.18" fill="#333333" textLength="59.0" lengthAdjust="spacingAndGlyphs">Naked CDH6 Ab 10 mg/kg</text>
<line x1="387.20" y1="133.14" x2="387.20" y2="235.70" stroke="#888" stroke-width="0.8" />
<line x1="385.20" y1="235.70" x2="387.20" y2="235.70" stroke="#888" stroke-width="0.8" />
<text x="383.20" y="238.01" font-size="6.6" stroke="#333333" stroke-width="0.16" text-anchor="end" fill="#333333">0</text>
<line x1="385.20" y1="222.88" x2="387.20" y2="222.88" stroke="#888" stroke-width="0.8" />
<text x="383.20" y="225.19" font-size="6.6" stroke="#333333" stroke-width="0.16" text-anchor="end" fill="#333333">200</text>
<line x1="385.20" y1="210.06" x2="387.20" y2="210.06" stroke="#888" stroke-width="0.8" />
<text x="383.20" y="212.37" font-size="6.6" stroke="#333333" stroke-width="0.16" text-anchor="end" fill="#333333">400</text>
<line x1="385.20" y1="197.24" x2="387.20" y2="197.24" stroke="#888" stroke-width="0.8" />
<text x="383.20" y="199.55" font-size="6.6" stroke="#333333" stroke-width="0.16" text-anchor="end" fill="#333333">600</text>
<line x1="385.20" y1="184.42" x2="387.20" y2="184.42" stroke="#888" stroke-width="0.8" />
<text x="383.20" y="186.73" font-size="6.6" stroke="#333333" stroke-width="0.16" text-anchor="end" fill="#333333">800</text>
<line x1="385.20" y1="171.60" x2="387.20" y2="171.60" stroke="#888" stroke-width="0.8" />
<text x="383.20" y="173.91" font-size="6.6" stroke="#333333" stroke-width="0.16" text-anchor="end" fill="#333333">1,000</text>
<line x1="385.20" y1="158.78" x2="387.20" y2="158.78" stroke="#888" stroke-width="0.8" />
<text x="383.20" y="161.09" font-size="6.6" stroke="#333333" stroke-width="0.16" text-anchor="end" fill="#333333">1,200</text>
<line x1="385.20" y1="145.96" x2="387.20" y2="145.96" stroke="#888" stroke-width="0.8" />
<text x="383.20" y="148.27" font-size="6.6" stroke="#333333" stroke-width="0.16" text-anchor="end" fill="#333333">1,400</text>
<line x1="385.20" y1="133.14" x2="387.20" y2="133.14" stroke="#888" stroke-width="0.8" />
<text x="383.20" y="135.45" font-size="6.6" stroke="#333333" stroke-width="0.16" text-anchor="end" fill="#333333">1,600</text>
<line x1="387.20" y1="235.70" x2="516.15" y2="235.70" stroke="#888" stroke-width="0.8" />
<line x1="387.40" y1="235.70" x2="387.40" y2="237.70" stroke="#888" stroke-width="0.8" />
<text x="387.40" y="245.00" font-size="6.6" stroke="#333333" stroke-width="0.16" text-anchor="middle" fill="#333333">0</text>
<line x1="413.15" y1="235.70" x2="413.15" y2="237.70" stroke="#888" stroke-width="0.8" />
<text x="413.15" y="245.00" font-size="6.6" stroke="#333333" stroke-width="0.16" text-anchor="middle" fill="#333333">5</text>
<line x1="438.90" y1="235.70" x2="438.90" y2="237.70" stroke="#888" stroke-width="0.8" />
<text x="438.90" y="245.00" font-size="6.6" stroke="#333333" stroke-width="0.16" text-anchor="middle" fill="#333333">10</text>
<line x1="464.65" y1="235.70" x2="464.65" y2="237.70" stroke="#888" stroke-width="0.8" />
<text x="464.65" y="245.00" font-size="6.6" stroke="#333333" stroke-width="0.16" text-anchor="middle" fill="#333333">15</text>
<line x1="490.40" y1="235.70" x2="490.40" y2="237.70" stroke="#888" stroke-width="0.8" />
<text x="490.40" y="245.00" font-size="6.6" stroke="#333333" stroke-width="0.16" text-anchor="middle" fill="#333333">20</text>
<line x1="516.15" y1="235.70" x2="516.15" y2="237.70" stroke="#888" stroke-width="0.8" />
<text x="516.15" y="245.00" font-size="6.6" stroke="#333333" stroke-width="0.16" text-anchor="middle" fill="#333333">25</text>
<text x="451.90" y="253.30" font-size="6.4" stroke="#333333" stroke-width="0.16" text-anchor="middle" fill="#333333">Day</text>
<text x="438.00" y="125.70" font-size="8.0" stroke="#333333" stroke-width="0.16" text-anchor="middle" fill="#333333" textLength="46.7" lengthAdjust="spacingAndGlyphs">NIH:OVCAR-3</text>
<text x="362.30" y="185.00" font-size="6.4" stroke="#333333" stroke-width="0.16" text-anchor="middle" fill="#333333" textLength="60.5" lengthAdjust="spacingAndGlyphs" transform="rotate(-90 362.30 185.00)">Tumor volume (mm<tspan font-size="4.2" dy="-2.2">3</tspan><tspan dy="2.2">)</tspan></text>
<polyline points="387.40,221.92 408.00,218.78 428.60,221.85 444.05,224.61 464.65,226.92 480.10,228.52 495.55,229.67" fill="none" stroke="#e0524f" stroke-width="1.2" stroke-linejoin="round" />
<circle cx="387.40" cy="221.92" r="1.2" fill="#fff" stroke="#e0524f" stroke-width="0.55"/>
<circle cx="408.00" cy="218.78" r="1.2" fill="#fff" stroke="#e0524f" stroke-width="0.55"/>
<circle cx="428.60" cy="221.85" r="1.2" fill="#fff" stroke="#e0524f" stroke-width="0.55"/>
<circle cx="444.05" cy="224.61" r="1.2" fill="#fff" stroke="#e0524f" stroke-width="0.55"/>
<circle cx="464.65" cy="226.92" r="1.2" fill="#fff" stroke="#e0524f" stroke-width="0.55"/>
<circle cx="480.10" cy="228.52" r="1.2" fill="#fff" stroke="#e0524f" stroke-width="0.55"/>
<circle cx="495.55" cy="229.67" r="1.2" fill="#fff" stroke="#e0524f" stroke-width="0.55"/>
<line x1="408.00" y1="212.55" x2="408.00" y2="216.55" stroke="#bbb" stroke-width="0.5" />
<line x1="407.20" y1="212.55" x2="408.80" y2="212.55" stroke="#bbb" stroke-width="0.5" />
<line x1="407.20" y1="216.55" x2="408.80" y2="216.55" stroke="#bbb" stroke-width="0.5" />
<line x1="428.60" y1="206.55" x2="428.60" y2="212.55" stroke="#bbb" stroke-width="0.5" />
<line x1="427.80" y1="206.55" x2="429.40" y2="206.55" stroke="#bbb" stroke-width="0.5" />
<line x1="427.80" y1="212.55" x2="429.40" y2="212.55" stroke="#bbb" stroke-width="0.5" />
<line x1="444.05" y1="202.15" x2="444.05" y2="210.15" stroke="#bbb" stroke-width="0.5" />
<line x1="443.25" y1="202.15" x2="444.85" y2="202.15" stroke="#bbb" stroke-width="0.5" />
<line x1="443.25" y1="210.15" x2="444.85" y2="210.15" stroke="#bbb" stroke-width="0.5" />
<line x1="464.65" y1="191.77" x2="464.65" y2="199.77" stroke="#bbb" stroke-width="0.5" />
<line x1="463.85" y1="191.77" x2="465.45" y2="191.77" stroke="#bbb" stroke-width="0.5" />
<line x1="463.85" y1="199.77" x2="465.45" y2="199.77" stroke="#bbb" stroke-width="0.5" />
<line x1="480.10" y1="185.42" x2="480.10" y2="193.42" stroke="#bbb" stroke-width="0.5" />
<line x1="479.30" y1="185.42" x2="480.90" y2="185.42" stroke="#bbb" stroke-width="0.5" />
<line x1="479.30" y1="193.42" x2="480.90" y2="193.42" stroke="#bbb" stroke-width="0.5" />
<line x1="495.55" y1="176.70" x2="495.55" y2="184.70" stroke="#bbb" stroke-width="0.5" />
<line x1="494.75" y1="176.70" x2="496.35" y2="176.70" stroke="#bbb" stroke-width="0.5" />
<line x1="494.75" y1="184.70" x2="496.35" y2="184.70" stroke="#bbb" stroke-width="0.5" />
<polyline points="387.40,221.92 408.00,214.55 428.60,209.55 444.05,206.15 464.65,195.77 480.10,189.42 495.55,180.70" fill="none" stroke="#8a9bd0" stroke-width="1.2" stroke-linejoin="round" />
<circle cx="387.40" cy="221.92" r="1.2" fill="#fff" stroke="#8a9bd0" stroke-width="0.55"/>
<circle cx="408.00" cy="214.55" r="1.2" fill="#fff" stroke="#8a9bd0" stroke-width="0.55"/>
<circle cx="428.60" cy="209.55" r="1.2" fill="#fff" stroke="#8a9bd0" stroke-width="0.55"/>
<circle cx="444.05" cy="206.15" r="1.2" fill="#fff" stroke="#8a9bd0" stroke-width="0.55"/>
<circle cx="464.65" cy="195.77" r="1.2" fill="#fff" stroke="#8a9bd0" stroke-width="0.55"/>
<circle cx="480.10" cy="189.42" r="1.2" fill="#fff" stroke="#8a9bd0" stroke-width="0.55"/>
<circle cx="495.55" cy="180.70" r="1.2" fill="#fff" stroke="#8a9bd0" stroke-width="0.55"/>
<line x1="408.00" y1="211.91" x2="408.00" y2="215.91" stroke="#bbb" stroke-width="0.5" />
<line x1="407.20" y1="211.91" x2="408.80" y2="211.91" stroke="#bbb" stroke-width="0.5" />
<line x1="407.20" y1="215.91" x2="408.80" y2="215.91" stroke="#bbb" stroke-width="0.5" />
<line x1="428.60" y1="203.85" x2="428.60" y2="209.85" stroke="#bbb" stroke-width="0.5" />
<line x1="427.80" y1="203.85" x2="429.40" y2="203.85" stroke="#bbb" stroke-width="0.5" />
<line x1="427.80" y1="209.85" x2="429.40" y2="209.85" stroke="#bbb" stroke-width="0.5" />
<line x1="444.05" y1="192.47" x2="444.05" y2="200.47" stroke="#bbb" stroke-width="0.5" />
<line x1="443.25" y1="192.47" x2="444.85" y2="192.47" stroke="#bbb" stroke-width="0.5" />
<line x1="443.25" y1="200.47" x2="444.85" y2="200.47" stroke="#bbb" stroke-width="0.5" />
<line x1="464.65" y1="179.01" x2="464.65" y2="187.01" stroke="#bbb" stroke-width="0.5" />
<line x1="463.85" y1="179.01" x2="465.45" y2="179.01" stroke="#bbb" stroke-width="0.5" />
<line x1="463.85" y1="187.01" x2="465.45" y2="187.01" stroke="#bbb" stroke-width="0.5" />
<line x1="480.10" y1="170.16" x2="480.10" y2="178.16" stroke="#bbb" stroke-width="0.5" />
<line x1="479.30" y1="170.16" x2="480.90" y2="170.16" stroke="#bbb" stroke-width="0.5" />
<line x1="479.30" y1="178.16" x2="480.90" y2="178.16" stroke="#bbb" stroke-width="0.5" />
<line x1="495.55" y1="151.50" x2="495.55" y2="163.50" stroke="#bbb" stroke-width="0.5" />
<line x1="494.75" y1="151.50" x2="496.35" y2="151.50" stroke="#bbb" stroke-width="0.5" />
<line x1="494.75" y1="163.50" x2="496.35" y2="163.50" stroke="#bbb" stroke-width="0.5" />
<polyline points="387.40,221.92 408.00,213.91 428.60,206.85 444.05,196.47 464.65,183.01 480.10,174.16 495.55,157.50" fill="none" stroke="#2b2b2b" stroke-width="1.2" stroke-linejoin="round" />
<line x1="386.20" y1="221.92" x2="388.60" y2="221.92" stroke="#2b2b2b" stroke-width="0.55" />
<line x1="406.80" y1="213.91" x2="409.20" y2="213.91" stroke="#2b2b2b" stroke-width="0.55" />
<line x1="427.40" y1="206.85" x2="429.80" y2="206.85" stroke="#2b2b2b" stroke-width="0.55" />
<line x1="442.85" y1="196.47" x2="445.25" y2="196.47" stroke="#2b2b2b" stroke-width="0.55" />
<line x1="463.45" y1="183.01" x2="465.85" y2="183.01" stroke="#2b2b2b" stroke-width="0.55" />
<line x1="478.90" y1="174.16" x2="481.30" y2="174.16" stroke="#2b2b2b" stroke-width="0.55" />
<line x1="494.35" y1="157.50" x2="496.75" y2="157.50" stroke="#2b2b2b" stroke-width="0.55" />
<line x1="408.00" y1="212.55" x2="408.00" y2="216.55" stroke="#bbb" stroke-width="0.5" />
<line x1="407.20" y1="212.55" x2="408.80" y2="212.55" stroke="#bbb" stroke-width="0.5" />
<line x1="407.20" y1="216.55" x2="408.80" y2="216.55" stroke="#bbb" stroke-width="0.5" />
<line x1="428.60" y1="206.55" x2="428.60" y2="212.55" stroke="#bbb" stroke-width="0.5" />
<line x1="427.80" y1="206.55" x2="429.40" y2="206.55" stroke="#bbb" stroke-width="0.5" />
<line x1="427.80" y1="212.55" x2="429.40" y2="212.55" stroke="#bbb" stroke-width="0.5" />
<line x1="444.05" y1="199.33" x2="444.05" y2="207.33" stroke="#bbb" stroke-width="0.5" />
<line x1="443.25" y1="199.33" x2="444.85" y2="199.33" stroke="#bbb" stroke-width="0.5" />
<line x1="443.25" y1="207.33" x2="444.85" y2="207.33" stroke="#bbb" stroke-width="0.5" />
<line x1="464.65" y1="183.62" x2="464.65" y2="191.62" stroke="#bbb" stroke-width="0.5" />
<line x1="463.85" y1="183.62" x2="465.45" y2="183.62" stroke="#bbb" stroke-width="0.5" />
<line x1="463.85" y1="191.62" x2="465.45" y2="191.62" stroke="#bbb" stroke-width="0.5" />
<line x1="480.10" y1="172.09" x2="480.10" y2="180.09" stroke="#bbb" stroke-width="0.5" />
<line x1="479.30" y1="172.09" x2="480.90" y2="172.09" stroke="#bbb" stroke-width="0.5" />
<line x1="479.30" y1="180.09" x2="480.90" y2="180.09" stroke="#bbb" stroke-width="0.5" />
<line x1="495.55" y1="159.70" x2="495.55" y2="171.70" stroke="#bbb" stroke-width="0.5" />
<line x1="494.75" y1="159.70" x2="496.35" y2="159.70" stroke="#bbb" stroke-width="0.5" />
<line x1="494.75" y1="171.70" x2="496.35" y2="171.70" stroke="#bbb" stroke-width="0.5" />
<polyline points="387.40,221.92 408.00,214.55 428.60,209.55 444.05,203.33 464.65,187.62 480.10,176.09 495.55,165.70" fill="none" stroke="#2f8f58" stroke-width="1.2" stroke-linejoin="round" />
<line x1="386.20" y1="221.92" x2="388.60" y2="221.92" stroke="#2f8f58" stroke-width="0.55" />
<line x1="406.80" y1="214.55" x2="409.20" y2="214.55" stroke="#2f8f58" stroke-width="0.55" />
<line x1="427.40" y1="209.55" x2="429.80" y2="209.55" stroke="#2f8f58" stroke-width="0.55" />
<line x1="442.85" y1="203.33" x2="445.25" y2="203.33" stroke="#2f8f58" stroke-width="0.55" />
<line x1="463.45" y1="187.62" x2="465.85" y2="187.62" stroke="#2f8f58" stroke-width="0.55" />
<line x1="478.90" y1="176.09" x2="481.30" y2="176.09" stroke="#2f8f58" stroke-width="0.55" />
<line x1="494.35" y1="165.70" x2="496.75" y2="165.70" stroke="#2f8f58" stroke-width="0.55" />
<line x1="391.00" y1="132.20" x2="395.00" y2="132.20" stroke="#2b2b2b" stroke-width="0.8" />
<line x1="392.10" y1="132.20" x2="393.90" y2="132.20" stroke="#2b2b2b" stroke-width="0.5" />
<text x="395.30" y="134.20" font-size="5.7" stroke="#333333" stroke-width="0.18" fill="#333333" textLength="16.4" lengthAdjust="spacingAndGlyphs">Vehicle</text>
<line x1="391.00" y1="139.30" x2="395.00" y2="139.30" stroke="#e0524f" stroke-width="0.8" />
<circle cx="393.00" cy="139.30" r="0.9" fill="#fff" stroke="#e0524f" stroke-width="0.5"/>
<text x="395.30" y="141.30" font-size="5.7" stroke="#333333" stroke-width="0.18" fill="#333333" textLength="32.0" lengthAdjust="spacingAndGlyphs">R-DXd 3 mg/kg</text>
<line x1="391.00" y1="146.40" x2="395.00" y2="146.40" stroke="#8a9bd0" stroke-width="0.8" />
<circle cx="393.00" cy="146.40" r="0.9" fill="#fff" stroke="#8a9bd0" stroke-width="0.5"/>
<text x="395.30" y="148.40" font-size="5.7" stroke="#333333" stroke-width="0.18" fill="#333333" textLength="46.5" lengthAdjust="spacingAndGlyphs">Control ADC 3 mg/kg</text>
<line x1="391.00" y1="153.50" x2="395.00" y2="153.50" stroke="#2f8f58" stroke-width="0.8" />
<line x1="392.10" y1="153.50" x2="393.90" y2="153.50" stroke="#2f8f58" stroke-width="0.5" />
<text x="395.30" y="155.50" font-size="5.7" stroke="#333333" stroke-width="0.18" fill="#333333" textLength="56.0" lengthAdjust="spacingAndGlyphs">Naked CDH6 Ab 3 mg/kg</text>
<line x1="45.00" y1="287.70" x2="45.00" y2="407.40" stroke="#888" stroke-width="0.8" />
<line x1="43.00" y1="407.40" x2="45.00" y2="407.40" stroke="#888" stroke-width="0.8" />
<text x="41.00" y="409.85" font-size="7.0" stroke="#333333" stroke-width="0.16" text-anchor="end" fill="#333333">0</text>
<line x1="43.00" y1="394.10" x2="45.00" y2="394.10" stroke="#888" stroke-width="0.8" />
<text x="41.00" y="396.55" font-size="7.0" stroke="#333333" stroke-width="0.16" text-anchor="end" fill="#333333">100</text>
<line x1="43.00" y1="380.80" x2="45.00" y2="380.80" stroke="#888" stroke-width="0.8" />
<text x="41.00" y="383.25" font-size="7.0" stroke="#333333" stroke-width="0.16" text-anchor="end" fill="#333333">200</text>
<line x1="43.00" y1="367.50" x2="45.00" y2="367.50" stroke="#888" stroke-width="0.8" />
<text x="41.00" y="369.95" font-size="7.0" stroke="#333333" stroke-width="0.16" text-anchor="end" fill="#333333">300</text>
<line x1="43.00" y1="354.20" x2="45.00" y2="354.20" stroke="#888" stroke-width="0.8" />
<text x="41.00" y="356.65" font-size="7.0" stroke="#333333" stroke-width="0.16" text-anchor="end" fill="#333333">400</text>
<line x1="43.00" y1="340.90" x2="45.00" y2="340.90" stroke="#888" stroke-width="0.8" />
<text x="41.00" y="343.35" font-size="7.0" stroke="#333333" stroke-width="0.16" text-anchor="end" fill="#333333">500</text>
<line x1="43.00" y1="327.60" x2="45.00" y2="327.60" stroke="#888" stroke-width="0.8" />
<text x="41.00" y="330.05" font-size="7.0" stroke="#333333" stroke-width="0.16" text-anchor="end" fill="#333333">600</text>
<line x1="43.00" y1="314.30" x2="45.00" y2="314.30" stroke="#888" stroke-width="0.8" />
<text x="41.00" y="316.75" font-size="7.0" stroke="#333333" stroke-width="0.16" text-anchor="end" fill="#333333">700</text>
<line x1="43.00" y1="301.00" x2="45.00" y2="301.00" stroke="#888" stroke-width="0.8" />
<text x="41.00" y="303.45" font-size="7.0" stroke="#333333" stroke-width="0.16" text-anchor="end" fill="#333333">800</text>
<line x1="43.00" y1="287.70" x2="45.00" y2="287.70" stroke="#888" stroke-width="0.8" />
<text x="41.00" y="290.15" font-size="7.0" stroke="#333333" stroke-width="0.16" text-anchor="end" fill="#333333">900</text>
<line x1="45.00" y1="407.40" x2="168.50" y2="407.40" stroke="#888" stroke-width="0.8" />
<line x1="45.30" y1="407.40" x2="45.30" y2="409.40" stroke="#888" stroke-width="0.8" />
<text x="45.30" y="417.00" font-size="7.0" stroke="#333333" stroke-width="0.16" text-anchor="middle" fill="#333333">0</text>
<line x1="72.10" y1="407.40" x2="72.10" y2="409.40" stroke="#888" stroke-width="0.8" />
<text x="72.10" y="417.00" font-size="7.0" stroke="#333333" stroke-width="0.16" text-anchor="middle" fill="#333333">5</text>
<line x1="98.90" y1="407.40" x2="98.90" y2="409.40" stroke="#888" stroke-width="0.8" />
<text x="98.90" y="417.00" font-size="7.0" stroke="#333333" stroke-width="0.16" text-anchor="middle" fill="#333333">10</text>
<line x1="125.70" y1="407.40" x2="125.70" y2="409.40" stroke="#888" stroke-width="0.8" />
<text x="125.70" y="417.00" font-size="7.0" stroke="#333333" stroke-width="0.16" text-anchor="middle" fill="#333333">15</text>
<line x1="152.50" y1="407.40" x2="152.50" y2="409.40" stroke="#888" stroke-width="0.8" />
<text x="152.50" y="417.00" font-size="7.0" stroke="#333333" stroke-width="0.16" text-anchor="middle" fill="#333333">20</text>
<text x="107.30" y="424.80" font-size="6.8" stroke="#333333" stroke-width="0.16" text-anchor="middle" fill="#333333">Day</text>
<text x="99.10" y="275.20" font-size="7.4" stroke="#333333" stroke-width="0.16" text-anchor="middle" fill="#333333" textLength="20.7" lengthAdjust="spacingAndGlyphs">786-O</text>
<text x="20.60" y="346.90" font-size="6.7" stroke="#333333" stroke-width="0.16" text-anchor="middle" fill="#333333" textLength="66" lengthAdjust="spacingAndGlyphs" transform="rotate(-90 20.60 346.90)">Tumor volume (mm<tspan font-size="4.4" dy="-2.3">3</tspan><tspan dy="2.3">)</tspan></text>
<line x1="61.38" y1="363.43" x2="61.38" y2="373.43" stroke="#b8b8b8" stroke-width="0.6" />
<line x1="60.38" y1="363.43" x2="62.38" y2="363.43" stroke="#b8b8b8" stroke-width="0.6" />
<line x1="60.38" y1="373.43" x2="62.38" y2="373.43" stroke="#b8b8b8" stroke-width="0.6" />
<line x1="82.82" y1="349.53" x2="82.82" y2="361.53" stroke="#b8b8b8" stroke-width="0.6" />
<line x1="81.82" y1="349.53" x2="83.82" y2="349.53" stroke="#b8b8b8" stroke-width="0.6" />
<line x1="81.82" y1="361.53" x2="83.82" y2="361.53" stroke="#b8b8b8" stroke-width="0.6" />
<line x1="98.90" y1="334.30" x2="98.90" y2="348.30" stroke="#b8b8b8" stroke-width="0.6" />
<line x1="97.90" y1="334.30" x2="99.90" y2="334.30" stroke="#b8b8b8" stroke-width="0.6" />
<line x1="97.90" y1="348.30" x2="99.90" y2="348.30" stroke="#b8b8b8" stroke-width="0.6" />
<line x1="120.34" y1="324.59" x2="120.34" y2="338.59" stroke="#b8b8b8" stroke-width="0.6" />
<line x1="119.34" y1="324.59" x2="121.34" y2="324.59" stroke="#b8b8b8" stroke-width="0.6" />
<line x1="119.34" y1="338.59" x2="121.34" y2="338.59" stroke="#b8b8b8" stroke-width="0.6" />
<line x1="136.42" y1="311.69" x2="136.42" y2="325.69" stroke="#b8b8b8" stroke-width="0.6" />
<line x1="135.42" y1="311.69" x2="137.42" y2="311.69" stroke="#b8b8b8" stroke-width="0.6" />
<line x1="135.42" y1="325.69" x2="137.42" y2="325.69" stroke="#b8b8b8" stroke-width="0.6" />
<line x1="157.86" y1="297.59" x2="157.86" y2="311.59" stroke="#b8b8b8" stroke-width="0.6" />
<line x1="156.86" y1="297.59" x2="158.86" y2="297.59" stroke="#b8b8b8" stroke-width="0.6" />
<line x1="156.86" y1="311.59" x2="158.86" y2="311.59" stroke="#b8b8b8" stroke-width="0.6" />
<line x1="61.38" y1="366.49" x2="61.38" y2="376.49" stroke="#b8b8b8" stroke-width="0.6" />
<line x1="60.38" y1="366.49" x2="62.38" y2="366.49" stroke="#b8b8b8" stroke-width="0.6" />
<line x1="60.38" y1="376.49" x2="62.38" y2="376.49" stroke="#b8b8b8" stroke-width="0.6" />
<line x1="82.82" y1="360.77" x2="82.82" y2="370.77" stroke="#b8b8b8" stroke-width="0.6" />
<line x1="81.82" y1="360.77" x2="83.82" y2="360.77" stroke="#b8b8b8" stroke-width="0.6" />
<line x1="81.82" y1="370.77" x2="83.82" y2="370.77" stroke="#b8b8b8" stroke-width="0.6" />
<line x1="98.90" y1="350.59" x2="98.90" y2="362.59" stroke="#b8b8b8" stroke-width="0.6" />
<line x1="97.90" y1="350.59" x2="99.90" y2="350.59" stroke="#b8b8b8" stroke-width="0.6" />
<line x1="97.90" y1="362.59" x2="99.90" y2="362.59" stroke="#b8b8b8" stroke-width="0.6" />
<line x1="120.34" y1="341.75" x2="120.34" y2="355.75" stroke="#b8b8b8" stroke-width="0.6" />
<line x1="119.34" y1="341.75" x2="121.34" y2="341.75" stroke="#b8b8b8" stroke-width="0.6" />
<line x1="119.34" y1="355.75" x2="121.34" y2="355.75" stroke="#b8b8b8" stroke-width="0.6" />
<line x1="136.42" y1="331.11" x2="136.42" y2="345.11" stroke="#b8b8b8" stroke-width="0.6" />
<line x1="135.42" y1="331.11" x2="137.42" y2="331.11" stroke="#b8b8b8" stroke-width="0.6" />
<line x1="135.42" y1="345.11" x2="137.42" y2="345.11" stroke="#b8b8b8" stroke-width="0.6" />
<line x1="157.86" y1="320.33" x2="157.86" y2="334.33" stroke="#b8b8b8" stroke-width="0.6" />
<line x1="156.86" y1="320.33" x2="158.86" y2="320.33" stroke="#b8b8b8" stroke-width="0.6" />
<line x1="156.86" y1="334.33" x2="158.86" y2="334.33" stroke="#b8b8b8" stroke-width="0.6" />
<line x1="61.38" y1="369.62" x2="61.38" y2="377.62" stroke="#b8b8b8" stroke-width="0.6" />
<line x1="60.38" y1="369.62" x2="62.38" y2="369.62" stroke="#b8b8b8" stroke-width="0.6" />
<line x1="60.38" y1="377.62" x2="62.38" y2="377.62" stroke="#b8b8b8" stroke-width="0.6" />
<line x1="82.82" y1="367.82" x2="82.82" y2="377.82" stroke="#b8b8b8" stroke-width="0.6" />
<line x1="81.82" y1="367.82" x2="83.82" y2="367.82" stroke="#b8b8b8" stroke-width="0.6" />
<line x1="81.82" y1="377.82" x2="83.82" y2="377.82" stroke="#b8b8b8" stroke-width="0.6" />
<line x1="98.90" y1="364.76" x2="98.90" y2="374.76" stroke="#b8b8b8" stroke-width="0.6" />
<line x1="97.90" y1="364.76" x2="99.90" y2="364.76" stroke="#b8b8b8" stroke-width="0.6" />
<line x1="97.90" y1="374.76" x2="99.90" y2="374.76" stroke="#b8b8b8" stroke-width="0.6" />
<line x1="120.34" y1="352.65" x2="120.34" y2="366.65" stroke="#b8b8b8" stroke-width="0.6" />
<line x1="119.34" y1="352.65" x2="121.34" y2="352.65" stroke="#b8b8b8" stroke-width="0.6" />
<line x1="119.34" y1="366.65" x2="121.34" y2="366.65" stroke="#b8b8b8" stroke-width="0.6" />
<line x1="136.42" y1="338.16" x2="136.42" y2="352.16" stroke="#b8b8b8" stroke-width="0.6" />
<line x1="135.42" y1="338.16" x2="137.42" y2="338.16" stroke="#b8b8b8" stroke-width="0.6" />
<line x1="135.42" y1="352.16" x2="137.42" y2="352.16" stroke="#b8b8b8" stroke-width="0.6" />
<line x1="157.86" y1="330.31" x2="157.86" y2="344.31" stroke="#b8b8b8" stroke-width="0.6" />
<line x1="156.86" y1="330.31" x2="158.86" y2="330.31" stroke="#b8b8b8" stroke-width="0.6" />
<line x1="156.86" y1="344.31" x2="158.86" y2="344.31" stroke="#b8b8b8" stroke-width="0.6" />
<line x1="61.38" y1="369.62" x2="61.38" y2="377.62" stroke="#b8b8b8" stroke-width="0.6" />
<line x1="60.38" y1="369.62" x2="62.38" y2="369.62" stroke="#b8b8b8" stroke-width="0.6" />
<line x1="60.38" y1="377.62" x2="62.38" y2="377.62" stroke="#b8b8b8" stroke-width="0.6" />
<line x1="82.82" y1="371.41" x2="82.82" y2="381.41" stroke="#b8b8b8" stroke-width="0.6" />
<line x1="81.82" y1="371.41" x2="83.82" y2="371.41" stroke="#b8b8b8" stroke-width="0.6" />
<line x1="81.82" y1="381.41" x2="83.82" y2="381.41" stroke="#b8b8b8" stroke-width="0.6" />
<line x1="98.90" y1="365.16" x2="98.90" y2="375.16" stroke="#b8b8b8" stroke-width="0.6" />
<line x1="97.90" y1="365.16" x2="99.90" y2="365.16" stroke="#b8b8b8" stroke-width="0.6" />
<line x1="97.90" y1="375.16" x2="99.90" y2="375.16" stroke="#b8b8b8" stroke-width="0.6" />
<line x1="120.34" y1="354.65" x2="120.34" y2="368.65" stroke="#b8b8b8" stroke-width="0.6" />
<line x1="119.34" y1="354.65" x2="121.34" y2="354.65" stroke="#b8b8b8" stroke-width="0.6" />
<line x1="119.34" y1="368.65" x2="121.34" y2="368.65" stroke="#b8b8b8" stroke-width="0.6" />
<line x1="136.42" y1="341.75" x2="136.42" y2="355.75" stroke="#b8b8b8" stroke-width="0.6" />
<line x1="135.42" y1="341.75" x2="137.42" y2="341.75" stroke="#b8b8b8" stroke-width="0.6" />
<line x1="135.42" y1="355.75" x2="137.42" y2="355.75" stroke="#b8b8b8" stroke-width="0.6" />
<line x1="157.86" y1="329.98" x2="157.86" y2="341.98" stroke="#b8b8b8" stroke-width="0.6" />
<line x1="156.86" y1="329.98" x2="158.86" y2="329.98" stroke="#b8b8b8" stroke-width="0.6" />
<line x1="156.86" y1="341.98" x2="158.86" y2="341.98" stroke="#b8b8b8" stroke-width="0.6" />
<line x1="61.38" y1="373.41" x2="61.38" y2="379.41" stroke="#b8b8b8" stroke-width="0.6" />
<line x1="60.38" y1="373.41" x2="62.38" y2="373.41" stroke="#b8b8b8" stroke-width="0.6" />
<line x1="60.38" y1="379.41" x2="62.38" y2="379.41" stroke="#b8b8b8" stroke-width="0.6" />
<line x1="82.82" y1="377.80" x2="82.82" y2="383.80" stroke="#b8b8b8" stroke-width="0.6" />
<line x1="81.82" y1="377.80" x2="83.82" y2="377.80" stroke="#b8b8b8" stroke-width="0.6" />
<line x1="81.82" y1="383.80" x2="83.82" y2="383.80" stroke="#b8b8b8" stroke-width="0.6" />
<line x1="98.90" y1="376.74" x2="98.90" y2="382.74" stroke="#b8b8b8" stroke-width="0.6" />
<line x1="97.90" y1="376.74" x2="99.90" y2="376.74" stroke="#b8b8b8" stroke-width="0.6" />
<line x1="97.90" y1="382.74" x2="99.90" y2="382.74" stroke="#b8b8b8" stroke-width="0.6" />
<line x1="120.34" y1="372.75" x2="120.34" y2="378.75" stroke="#b8b8b8" stroke-width="0.6" />
<line x1="119.34" y1="372.75" x2="121.34" y2="372.75" stroke="#b8b8b8" stroke-width="0.6" />
<line x1="119.34" y1="378.75" x2="121.34" y2="378.75" stroke="#b8b8b8" stroke-width="0.6" />
<line x1="136.42" y1="363.63" x2="136.42" y2="371.63" stroke="#b8b8b8" stroke-width="0.6" />
<line x1="135.42" y1="363.63" x2="137.42" y2="363.63" stroke="#b8b8b8" stroke-width="0.6" />
<line x1="135.42" y1="371.63" x2="137.42" y2="371.63" stroke="#b8b8b8" stroke-width="0.6" />
<line x1="157.86" y1="357.65" x2="157.86" y2="365.65" stroke="#b8b8b8" stroke-width="0.6" />
<line x1="156.86" y1="357.65" x2="158.86" y2="357.65" stroke="#b8b8b8" stroke-width="0.6" />
<line x1="156.86" y1="365.65" x2="158.86" y2="365.65" stroke="#b8b8b8" stroke-width="0.6" />
<line x1="61.38" y1="376.34" x2="61.38" y2="382.34" stroke="#b8b8b8" stroke-width="0.6" />
<line x1="60.38" y1="376.34" x2="62.38" y2="376.34" stroke="#b8b8b8" stroke-width="0.6" />
<line x1="60.38" y1="382.34" x2="62.38" y2="382.34" stroke="#b8b8b8" stroke-width="0.6" />
<line x1="82.82" y1="383.25" x2="82.82" y2="389.25" stroke="#b8b8b8" stroke-width="0.6" />
<line x1="81.82" y1="383.25" x2="83.82" y2="383.25" stroke="#b8b8b8" stroke-width="0.6" />
<line x1="81.82" y1="389.25" x2="83.82" y2="389.25" stroke="#b8b8b8" stroke-width="0.6" />
<line x1="98.90" y1="384.85" x2="98.90" y2="390.85" stroke="#b8b8b8" stroke-width="0.6" />
<line x1="97.90" y1="384.85" x2="99.90" y2="384.85" stroke="#b8b8b8" stroke-width="0.6" />
<line x1="97.90" y1="390.85" x2="99.90" y2="390.85" stroke="#b8b8b8" stroke-width="0.6" />
<line x1="120.34" y1="380.59" x2="120.34" y2="386.59" stroke="#b8b8b8" stroke-width="0.6" />
<line x1="119.34" y1="380.59" x2="121.34" y2="380.59" stroke="#b8b8b8" stroke-width="0.6" />
<line x1="119.34" y1="386.59" x2="121.34" y2="386.59" stroke="#b8b8b8" stroke-width="0.6" />
<line x1="136.42" y1="370.42" x2="136.42" y2="378.42" stroke="#b8b8b8" stroke-width="0.6" />
<line x1="135.42" y1="370.42" x2="137.42" y2="370.42" stroke="#b8b8b8" stroke-width="0.6" />
<line x1="135.42" y1="378.42" x2="137.42" y2="378.42" stroke="#b8b8b8" stroke-width="0.6" />
<line x1="157.86" y1="363.10" x2="157.86" y2="371.10" stroke="#b8b8b8" stroke-width="0.6" />
<line x1="156.86" y1="363.10" x2="158.86" y2="363.10" stroke="#b8b8b8" stroke-width="0.6" />
<line x1="156.86" y1="371.10" x2="158.86" y2="371.10" stroke="#b8b8b8" stroke-width="0.6" />
<line x1="61.38" y1="382.33" x2="61.38" y2="384.33" stroke="#b8b8b8" stroke-width="0.6" />
<line x1="60.38" y1="382.33" x2="62.38" y2="382.33" stroke="#b8b8b8" stroke-width="0.6" />
<line x1="60.38" y1="384.33" x2="62.38" y2="384.33" stroke="#b8b8b8" stroke-width="0.6" />
<line x1="82.82" y1="390.84" x2="82.82" y2="392.84" stroke="#b8b8b8" stroke-width="0.6" />
<line x1="81.82" y1="390.84" x2="83.82" y2="390.84" stroke="#b8b8b8" stroke-width="0.6" />
<line x1="81.82" y1="392.84" x2="83.82" y2="392.84" stroke="#b8b8b8" stroke-width="0.6" />
<line x1="98.90" y1="392.97" x2="98.90" y2="394.97" stroke="#b8b8b8" stroke-width="0.6" />
<line x1="97.90" y1="392.97" x2="99.90" y2="392.97" stroke="#b8b8b8" stroke-width="0.6" />
<line x1="97.90" y1="394.97" x2="99.90" y2="394.97" stroke="#b8b8b8" stroke-width="0.6" />
<line x1="120.34" y1="390.71" x2="120.34" y2="392.71" stroke="#b8b8b8" stroke-width="0.6" />
<line x1="119.34" y1="390.71" x2="121.34" y2="390.71" stroke="#b8b8b8" stroke-width="0.6" />
<line x1="119.34" y1="392.71" x2="121.34" y2="392.71" stroke="#b8b8b8" stroke-width="0.6" />
<line x1="136.42" y1="387.91" x2="136.42" y2="389.91" stroke="#b8b8b8" stroke-width="0.6" />
<line x1="135.42" y1="387.91" x2="137.42" y2="387.91" stroke="#b8b8b8" stroke-width="0.6" />
<line x1="135.42" y1="389.91" x2="137.42" y2="389.91" stroke="#b8b8b8" stroke-width="0.6" />
<line x1="157.86" y1="384.32" x2="157.86" y2="386.32" stroke="#b8b8b8" stroke-width="0.6" />
<line x1="156.86" y1="384.32" x2="158.86" y2="384.32" stroke="#b8b8b8" stroke-width="0.6" />
<line x1="156.86" y1="386.32" x2="158.86" y2="386.32" stroke="#b8b8b8" stroke-width="0.6" />
<polyline points="45.30,378.94 61.38,368.43 82.82,355.53 98.90,341.30 120.34,331.59 136.42,318.69 157.86,304.59" fill="none" stroke="#2b2b2b" stroke-width="1.25" stroke-linejoin="round" />
<line x1="43.65" y1="378.94" x2="46.95" y2="378.94" stroke="#2b2b2b" stroke-width="0.75" />
<line x1="59.73" y1="368.43" x2="63.03" y2="368.43" stroke="#2b2b2b" stroke-width="0.75" />
<line x1="81.17" y1="355.53" x2="84.47" y2="355.53" stroke="#2b2b2b" stroke-width="0.75" />
<line x1="97.25" y1="341.30" x2="100.55" y2="341.30" stroke="#2b2b2b" stroke-width="0.75" />
<line x1="118.69" y1="331.59" x2="121.99" y2="331.59" stroke="#2b2b2b" stroke-width="0.75" />
<line x1="134.77" y1="318.69" x2="138.07" y2="318.69" stroke="#2b2b2b" stroke-width="0.75" />
<line x1="156.21" y1="304.59" x2="159.51" y2="304.59" stroke="#2b2b2b" stroke-width="0.75" />
<polyline points="45.30,378.94 61.38,371.49 82.82,365.77 98.90,356.59 120.34,348.75 136.42,338.11 157.86,327.33" fill="none" stroke="#e8534c" stroke-width="1.25" stroke-linejoin="round" />
<circle cx="45.30" cy="378.94" r="1.65" fill="#fff" stroke="#e8534c" stroke-width="0.75"/>
<circle cx="61.38" cy="371.49" r="1.65" fill="#fff" stroke="#e8534c" stroke-width="0.75"/>
<circle cx="82.82" cy="365.77" r="1.65" fill="#fff" stroke="#e8534c" stroke-width="0.75"/>
<circle cx="98.90" cy="356.59" r="1.65" fill="#fff" stroke="#e8534c" stroke-width="0.75"/>
<circle cx="120.34" cy="348.75" r="1.65" fill="#fff" stroke="#e8534c" stroke-width="0.75"/>
<circle cx="136.42" cy="338.11" r="1.65" fill="#fff" stroke="#e8534c" stroke-width="0.75"/>
<circle cx="157.86" cy="327.33" r="1.65" fill="#fff" stroke="#e8534c" stroke-width="0.75"/>
<polyline points="45.30,378.94 61.38,373.62 82.82,372.82 98.90,369.76 120.34,359.65 136.42,345.16 157.86,337.31" fill="none" stroke="#3aae5c" stroke-width="1.25" stroke-linejoin="round" />
<circle cx="45.30" cy="378.94" r="1.65" fill="#fff" stroke="#3aae5c" stroke-width="0.75"/>
<circle cx="61.38" cy="373.62" r="1.65" fill="#fff" stroke="#3aae5c" stroke-width="0.75"/>
<circle cx="82.82" cy="372.82" r="1.65" fill="#fff" stroke="#3aae5c" stroke-width="0.75"/>
<circle cx="98.90" cy="369.76" r="1.65" fill="#fff" stroke="#3aae5c" stroke-width="0.75"/>
<circle cx="120.34" cy="359.65" r="1.65" fill="#fff" stroke="#3aae5c" stroke-width="0.75"/>
<circle cx="136.42" cy="345.16" r="1.65" fill="#fff" stroke="#3aae5c" stroke-width="0.75"/>
<circle cx="157.86" cy="337.31" r="1.65" fill="#fff" stroke="#3aae5c" stroke-width="0.75"/>
<polyline points="45.30,378.94 61.38,373.62 82.82,376.41 98.90,370.16 120.34,361.65 136.42,348.75 157.86,335.98" fill="none" stroke="#4a72b8" stroke-width="1.25" stroke-linejoin="round" />
<polygon points="45.30,377.04 46.95,380.09 43.65,380.09" fill="#fff" stroke="#4a72b8" stroke-width="0.75"/>
<polygon points="61.38,371.72 63.03,374.77 59.73,374.77" fill="#fff" stroke="#4a72b8" stroke-width="0.75"/>
<polygon points="82.82,374.51 84.47,377.57 81.17,377.57" fill="#fff" stroke="#4a72b8" stroke-width="0.75"/>
<polygon points="98.90,368.26 100.55,371.31 97.25,371.31" fill="#fff" stroke="#4a72b8" stroke-width="0.75"/>
<polygon points="120.34,359.75 121.99,362.80 118.69,362.80" fill="#fff" stroke="#4a72b8" stroke-width="0.75"/>
<polygon points="136.42,346.85 138.07,349.90 134.77,349.90" fill="#fff" stroke="#4a72b8" stroke-width="0.75"/>
<polygon points="157.86,334.08 159.51,337.13 156.21,337.13" fill="#fff" stroke="#4a72b8" stroke-width="0.75"/>
<polyline points="45.30,378.94 61.38,376.41 82.82,380.80 98.90,379.74 120.34,375.75 136.42,367.63 157.86,361.65" fill="none" stroke="#ec8a3c" stroke-width="1.25" stroke-linejoin="round" />
<polygon points="45.30,377.29 46.95,378.94 45.30,380.59 43.65,378.94" fill="#ec8a3c" stroke="#ec8a3c" stroke-width="0.375"/>
<polygon points="61.38,374.76 63.03,376.41 61.38,378.06 59.73,376.41" fill="#ec8a3c" stroke="#ec8a3c" stroke-width="0.375"/>
<polygon points="82.82,379.15 84.47,380.80 82.82,382.45 81.17,380.80" fill="#ec8a3c" stroke="#ec8a3c" stroke-width="0.375"/>
<polygon points="98.90,378.09 100.55,379.74 98.90,381.39 97.25,379.74" fill="#ec8a3c" stroke="#ec8a3c" stroke-width="0.375"/>
<polygon points="120.34,374.10 121.99,375.75 120.34,377.40 118.69,375.75" fill="#ec8a3c" stroke="#ec8a3c" stroke-width="0.375"/>
<polygon points="136.42,365.98 138.07,367.63 136.42,369.28 134.77,367.63" fill="#ec8a3c" stroke="#ec8a3c" stroke-width="0.375"/>
<polygon points="157.86,360.00 159.51,361.65 157.86,363.30 156.21,361.65" fill="#ec8a3c" stroke="#ec8a3c" stroke-width="0.375"/>
<polyline points="45.30,378.94 61.38,379.34 82.82,386.25 98.90,387.85 120.34,383.59 136.42,374.42 157.86,367.10" fill="none" stroke="#6aab3c" stroke-width="1.25" stroke-linejoin="round" />
<circle cx="45.30" cy="378.94" r="1.65" fill="#6aab3c" stroke="#6aab3c" stroke-width="0.375"/>
<circle cx="61.38" cy="379.34" r="1.65" fill="#6aab3c" stroke="#6aab3c" stroke-width="0.375"/>
<circle cx="82.82" cy="386.25" r="1.65" fill="#6aab3c" stroke="#6aab3c" stroke-width="0.375"/>
<circle cx="98.90" cy="387.85" r="1.65" fill="#6aab3c" stroke="#6aab3c" stroke-width="0.375"/>
<circle cx="120.34" cy="383.59" r="1.65" fill="#6aab3c" stroke="#6aab3c" stroke-width="0.375"/>
<circle cx="136.42" cy="374.42" r="1.65" fill="#6aab3c" stroke="#6aab3c" stroke-width="0.375"/>
<circle cx="157.86" cy="367.10" r="1.65" fill="#6aab3c" stroke="#6aab3c" stroke-width="0.375"/>
<polyline points="45.30,378.94 61.38,383.33 82.82,391.84 98.90,393.97 120.34,391.71 136.42,388.91 157.86,385.32" fill="none" stroke="#2e3a7c" stroke-width="1.25" stroke-linejoin="round" />
<polygon points="45.30,377.29 46.95,378.94 45.30,380.59 43.65,378.94" fill="#2e3a7c" stroke="#2e3a7c" stroke-width="0.375"/>
<polygon points="61.38,381.68 63.03,383.33 61.38,384.98 59.73,383.33" fill="#2e3a7c" stroke="#2e3a7c" stroke-width="0.375"/>
<polygon points="82.82,390.19 84.47,391.84 82.82,393.49 81.17,391.84" fill="#2e3a7c" stroke="#2e3a7c" stroke-width="0.375"/>
<polygon points="98.90,392.32 100.55,393.97 98.90,395.62 97.25,393.97" fill="#2e3a7c" stroke="#2e3a7c" stroke-width="0.375"/>
<polygon points="120.34,390.06 121.99,391.71 120.34,393.36 118.69,391.71" fill="#2e3a7c" stroke="#2e3a7c" stroke-width="0.375"/>
<polygon points="136.42,387.26 138.07,388.91 136.42,390.56 134.77,388.91" fill="#2e3a7c" stroke="#2e3a7c" stroke-width="0.375"/>
<polygon points="157.86,383.67 159.51,385.32 157.86,386.97 156.21,385.32" fill="#2e3a7c" stroke="#2e3a7c" stroke-width="0.375"/>
<line x1="173.30" y1="313.80" x2="180.30" y2="313.80" stroke="#2b2b2b" stroke-width="1.2" />
<line x1="175.30" y1="313.80" x2="178.30" y2="313.80" stroke="#2b2b2b" stroke-width="0.7" />
<text x="182.60" y="316.40" font-size="7.7" stroke="#333333" stroke-width="0.14" fill="#333333" textLength="25.2" lengthAdjust="spacingAndGlyphs">Vehicle</text>
<line x1="173.30" y1="326.40" x2="180.30" y2="326.40" stroke="#e8534c" stroke-width="1.2" />
<circle cx="176.80" cy="326.40" r="1.5" fill="#fff" stroke="#e8534c" stroke-width="0.7"/>
<text x="182.60" y="329.00" font-size="7.7" stroke="#333333" stroke-width="0.14" fill="#333333" textLength="64.0" lengthAdjust="spacingAndGlyphs">R-DXd 0.25 mg/kg</text>
<line x1="173.30" y1="339.00" x2="180.30" y2="339.00" stroke="#3aae5c" stroke-width="1.2" />
<circle cx="176.80" cy="339.00" r="1.5" fill="#fff" stroke="#3aae5c" stroke-width="0.7"/>
<text x="182.60" y="341.60" font-size="7.7" stroke="#333333" stroke-width="0.14" fill="#333333" textLength="59.8" lengthAdjust="spacingAndGlyphs">R-DXd 0.5 mg/kg</text>
<line x1="173.30" y1="351.60" x2="180.30" y2="351.60" stroke="#4a72b8" stroke-width="1.2" />
<polygon points="176.80,349.88 178.30,352.65 175.30,352.65" fill="#fff" stroke="#4a72b8" stroke-width="0.7"/>
<text x="182.60" y="354.20" font-size="7.7" stroke="#333333" stroke-width="0.14" fill="#333333" textLength="52.9" lengthAdjust="spacingAndGlyphs">R-DXd 1 mg/kg</text>
<line x1="173.30" y1="364.20" x2="180.30" y2="364.20" stroke="#ec8a3c" stroke-width="1.2" />
<polygon points="176.80,362.70 178.30,364.20 176.80,365.70 175.30,364.20" fill="#ec8a3c" stroke="#ec8a3c" stroke-width="0.35"/>
<text x="182.60" y="366.80" font-size="7.7" stroke="#333333" stroke-width="0.14" fill="#333333" textLength="52.9" lengthAdjust="spacingAndGlyphs">R-DXd 2 mg/kg</text>
<line x1="173.30" y1="376.80" x2="180.30" y2="376.80" stroke="#6aab3c" stroke-width="1.2" />
<circle cx="176.80" cy="376.80" r="1.5" fill="#6aab3c" stroke="#6aab3c" stroke-width="0.35"/>
<text x="182.60" y="379.40" font-size="7.7" stroke="#333333" stroke-width="0.14" fill="#333333" textLength="52.9" lengthAdjust="spacingAndGlyphs">R-DXd 4 mg/kg</text>
<line x1="173.30" y1="389.40" x2="180.30" y2="389.40" stroke="#2e3a7c" stroke-width="1.2" />
<polygon points="176.80,387.90 178.30,389.40 176.80,390.90 175.30,389.40" fill="#2e3a7c" stroke="#2e3a7c" stroke-width="0.35"/>
<text x="182.60" y="392.00" font-size="7.7" stroke="#333333" stroke-width="0.14" fill="#333333" textLength="52.9" lengthAdjust="spacingAndGlyphs">R-DXd 8 mg/kg</text>
<line x1="332.00" y1="283.80" x2="332.00" y2="404.90" stroke="#888" stroke-width="0.8" />
<line x1="330.00" y1="404.90" x2="332.00" y2="404.90" stroke="#888" stroke-width="0.8" />
<text x="327.20" y="407.50" font-size="7.4" stroke="#333333" stroke-width="0.16" text-anchor="end" fill="#333333">0.001</text>
<line x1="330.00" y1="384.72" x2="332.00" y2="384.72" stroke="#888" stroke-width="0.8" />
<text x="327.20" y="387.32" font-size="7.4" stroke="#333333" stroke-width="0.16" text-anchor="end" fill="#333333">0.01</text>
<line x1="330.00" y1="364.54" x2="332.00" y2="364.54" stroke="#888" stroke-width="0.8" />
<text x="327.20" y="367.14" font-size="7.4" stroke="#333333" stroke-width="0.16" text-anchor="end" fill="#333333">0.1</text>
<line x1="330.00" y1="344.36" x2="332.00" y2="344.36" stroke="#888" stroke-width="0.8" />
<text x="327.20" y="346.96" font-size="7.4" stroke="#333333" stroke-width="0.16" text-anchor="end" fill="#333333">1</text>
<line x1="330.00" y1="324.18" x2="332.00" y2="324.18" stroke="#888" stroke-width="0.8" />
<text x="327.20" y="326.78" font-size="7.4" stroke="#333333" stroke-width="0.16" text-anchor="end" fill="#333333">10</text>
<line x1="330.00" y1="304.00" x2="332.00" y2="304.00" stroke="#888" stroke-width="0.8" />
<text x="327.20" y="306.60" font-size="7.4" stroke="#333333" stroke-width="0.16" text-anchor="end" fill="#333333">100</text>
<line x1="330.00" y1="283.82" x2="332.00" y2="283.82" stroke="#888" stroke-width="0.8" />
<text x="327.20" y="286.42" font-size="7.4" stroke="#333333" stroke-width="0.16" text-anchor="end" fill="#333333">1,000</text>
<line x1="332.00" y1="404.90" x2="475.70" y2="404.90" stroke="#888" stroke-width="0.8" />
<line x1="332.00" y1="402.90" x2="332.00" y2="406.90" stroke="#888" stroke-width="0.8" />
<text x="332.00" y="415.00" font-size="7.4" stroke="#333333" stroke-width="0.16" text-anchor="middle" fill="#333333">0</text>
<line x1="379.88" y1="402.90" x2="379.88" y2="406.90" stroke="#888" stroke-width="0.8" />
<text x="379.88" y="415.00" font-size="7.4" stroke="#333333" stroke-width="0.16" text-anchor="middle" fill="#333333">7</text>
<line x1="427.76" y1="402.90" x2="427.76" y2="406.90" stroke="#888" stroke-width="0.8" />
<text x="427.76" y="415.00" font-size="7.4" stroke="#333333" stroke-width="0.16" text-anchor="middle" fill="#333333">14</text>
<line x1="475.64" y1="402.90" x2="475.64" y2="406.90" stroke="#888" stroke-width="0.8" />
<text x="475.64" y="415.00" font-size="7.4" stroke="#333333" stroke-width="0.16" text-anchor="middle" fill="#333333">21</text>
<text x="397.90" y="428.00" font-size="7.0" stroke="#333333" stroke-width="0.16" text-anchor="middle" fill="#333333">Day</text>
<text x="294.60" y="347.20" font-size="7.0" stroke="#333333" stroke-width="0.16" text-anchor="middle" fill="#333333" textLength="107" lengthAdjust="spacingAndGlyphs" transform="rotate(-90 294.60 347.20)">Plasma conc. of R-DXd (µg/mL)</text>
<line x1="334.05" y1="292.00" x2="334.05" y2="316.00" stroke="#555" stroke-width="0.6" />
<line x1="333.25" y1="292.00" x2="334.85" y2="292.00" stroke="#555" stroke-width="0.6" />
<line x1="333.25" y1="316.00" x2="334.85" y2="316.00" stroke="#555" stroke-width="0.6" />
<line x1="352.52" y1="314.27" x2="352.52" y2="320.27" stroke="#555" stroke-width="0.6" />
<line x1="351.72" y1="314.27" x2="353.32" y2="314.27" stroke="#555" stroke-width="0.6" />
<line x1="351.72" y1="320.27" x2="353.32" y2="320.27" stroke="#555" stroke-width="0.6" />
<line x1="379.88" y1="323.56" x2="379.88" y2="331.56" stroke="#555" stroke-width="0.6" />
<line x1="379.08" y1="323.56" x2="380.68" y2="323.56" stroke="#555" stroke-width="0.6" />
<line x1="379.08" y1="331.56" x2="380.68" y2="331.56" stroke="#555" stroke-width="0.6" />
<line x1="427.76" y1="343.49" x2="427.76" y2="351.49" stroke="#555" stroke-width="0.6" />
<line x1="426.96" y1="343.49" x2="428.56" y2="343.49" stroke="#555" stroke-width="0.6" />
<line x1="426.96" y1="351.49" x2="428.56" y2="351.49" stroke="#555" stroke-width="0.6" />
<line x1="475.64" y1="358.24" x2="475.64" y2="366.24" stroke="#555" stroke-width="0.6" />
<line x1="474.84" y1="358.24" x2="476.44" y2="358.24" stroke="#555" stroke-width="0.6" />
<line x1="474.84" y1="366.24" x2="476.44" y2="366.24" stroke="#555" stroke-width="0.6" />
<line x1="352.52" y1="316.53" x2="352.52" y2="322.53" stroke="#555" stroke-width="0.6" />
<line x1="351.72" y1="316.53" x2="353.32" y2="316.53" stroke="#555" stroke-width="0.6" />
<line x1="351.72" y1="322.53" x2="353.32" y2="322.53" stroke="#555" stroke-width="0.6" />
<line x1="379.88" y1="324.37" x2="379.88" y2="332.37" stroke="#555" stroke-width="0.6" />
<line x1="379.08" y1="324.37" x2="380.68" y2="324.37" stroke="#555" stroke-width="0.6" />
<line x1="379.08" y1="332.37" x2="380.68" y2="332.37" stroke="#555" stroke-width="0.6" />
<line x1="427.76" y1="338.77" x2="427.76" y2="348.77" stroke="#555" stroke-width="0.6" />
<line x1="426.96" y1="338.77" x2="428.56" y2="338.77" stroke="#555" stroke-width="0.6" />
<line x1="426.96" y1="348.77" x2="428.56" y2="348.77" stroke="#555" stroke-width="0.6" />
<line x1="475.64" y1="363.67" x2="475.64" y2="371.67" stroke="#555" stroke-width="0.6" />
<line x1="474.84" y1="363.67" x2="476.44" y2="363.67" stroke="#555" stroke-width="0.6" />
<line x1="474.84" y1="371.67" x2="476.44" y2="371.67" stroke="#555" stroke-width="0.6" />
<line x1="338.84" y1="317.17" x2="338.84" y2="323.17" stroke="#555" stroke-width="0.6" />
<line x1="338.04" y1="317.17" x2="339.64" y2="317.17" stroke="#555" stroke-width="0.6" />
<line x1="338.04" y1="323.17" x2="339.64" y2="323.17" stroke="#555" stroke-width="0.6" />
<line x1="352.52" y1="322.18" x2="352.52" y2="332.18" stroke="#555" stroke-width="0.6" />
<line x1="351.72" y1="322.18" x2="353.32" y2="322.18" stroke="#555" stroke-width="0.6" />
<line x1="351.72" y1="332.18" x2="353.32" y2="332.18" stroke="#555" stroke-width="0.6" />
<line x1="379.88" y1="329.45" x2="379.88" y2="345.45" stroke="#555" stroke-width="0.6" />
<line x1="379.08" y1="329.45" x2="380.68" y2="329.45" stroke="#555" stroke-width="0.6" />
<line x1="379.08" y1="345.45" x2="380.68" y2="345.45" stroke="#555" stroke-width="0.6" />
<line x1="427.76" y1="358.24" x2="427.76" y2="366.24" stroke="#555" stroke-width="0.6" />
<line x1="426.96" y1="358.24" x2="428.56" y2="358.24" stroke="#555" stroke-width="0.6" />
<line x1="426.96" y1="366.24" x2="428.56" y2="366.24" stroke="#555" stroke-width="0.6" />
<line x1="475.64" y1="384.77" x2="475.64" y2="392.77" stroke="#555" stroke-width="0.6" />
<line x1="474.84" y1="384.77" x2="476.44" y2="384.77" stroke="#555" stroke-width="0.6" />
<line x1="474.84" y1="392.77" x2="476.44" y2="392.77" stroke="#555" stroke-width="0.6" />
<line x1="338.84" y1="325.80" x2="338.84" y2="331.80" stroke="#555" stroke-width="0.6" />
<line x1="338.04" y1="325.80" x2="339.64" y2="325.80" stroke="#555" stroke-width="0.6" />
<line x1="338.04" y1="331.80" x2="339.64" y2="331.80" stroke="#555" stroke-width="0.6" />
<line x1="352.52" y1="329.03" x2="352.52" y2="341.03" stroke="#555" stroke-width="0.6" />
<line x1="351.72" y1="329.03" x2="353.32" y2="329.03" stroke="#555" stroke-width="0.6" />
<line x1="351.72" y1="341.03" x2="353.32" y2="341.03" stroke="#555" stroke-width="0.6" />
<line x1="379.88" y1="336.41" x2="379.88" y2="360.41" stroke="#555" stroke-width="0.6" />
<line x1="379.08" y1="336.41" x2="380.68" y2="336.41" stroke="#555" stroke-width="0.6" />
<line x1="379.08" y1="360.41" x2="380.68" y2="360.41" stroke="#555" stroke-width="0.6" />
<line x1="338.84" y1="332.66" x2="338.84" y2="338.66" stroke="#555" stroke-width="0.6" />
<line x1="338.04" y1="332.66" x2="339.64" y2="332.66" stroke="#555" stroke-width="0.6" />
<line x1="338.04" y1="338.66" x2="339.64" y2="338.66" stroke="#555" stroke-width="0.6" />
<line x1="352.52" y1="340.84" x2="352.52" y2="356.84" stroke="#555" stroke-width="0.6" />
<line x1="351.72" y1="340.84" x2="353.32" y2="340.84" stroke="#555" stroke-width="0.6" />
<line x1="351.72" y1="356.84" x2="353.32" y2="356.84" stroke="#555" stroke-width="0.6" />
<line x1="379.88" y1="357.67" x2="379.88" y2="377.67" stroke="#555" stroke-width="0.6" />
<line x1="379.08" y1="357.67" x2="380.68" y2="357.67" stroke="#555" stroke-width="0.6" />
<line x1="379.08" y1="377.67" x2="380.68" y2="377.67" stroke="#555" stroke-width="0.6" />
<line x1="338.84" y1="338.41" x2="338.84" y2="344.41" stroke="#555" stroke-width="0.6" />
<line x1="338.04" y1="338.41" x2="339.64" y2="338.41" stroke="#555" stroke-width="0.6" />
<line x1="338.04" y1="344.41" x2="339.64" y2="344.41" stroke="#555" stroke-width="0.6" />
<line x1="352.52" y1="345.31" x2="352.52" y2="361.31" stroke="#555" stroke-width="0.6" />
<line x1="351.72" y1="345.31" x2="353.32" y2="345.31" stroke="#555" stroke-width="0.6" />
<line x1="351.72" y1="361.31" x2="353.32" y2="361.31" stroke="#555" stroke-width="0.6" />
<line x1="379.88" y1="357.54" x2="379.88" y2="385.54" stroke="#555" stroke-width="0.6" />
<line x1="379.08" y1="357.54" x2="380.68" y2="357.54" stroke="#555" stroke-width="0.6" />
<line x1="379.08" y1="385.54" x2="380.68" y2="385.54" stroke="#555" stroke-width="0.6" />
<polyline points="332.27,329.26 334.05,333.38 338.84,341.41 352.52,353.31 379.88,371.54" fill="none" stroke="#e53a3a" stroke-width="1.25" stroke-linejoin="round" />
<circle cx="332.27" cy="329.26" r="1.75" fill="#fff" stroke="#e53a3a" stroke-width="0.8"/>
<circle cx="334.05" cy="333.38" r="1.75" fill="#fff" stroke="#e53a3a" stroke-width="0.8"/>
<circle cx="338.84" cy="341.41" r="1.75" fill="#fff" stroke="#e53a3a" stroke-width="0.8"/>
<circle cx="352.52" cy="353.31" r="1.75" fill="#fff" stroke="#e53a3a" stroke-width="0.8"/>
<circle cx="379.88" cy="371.54" r="1.75" fill="#fff" stroke="#e53a3a" stroke-width="0.8"/>
<polyline points="332.27,324.18 334.05,328.66 338.84,335.66 352.52,348.84 379.88,367.67" fill="none" stroke="#2ea84e" stroke-width="1.25" stroke-linejoin="round" />
<rect x="330.52" y="322.43" width="3.50" height="3.50" fill="#fff" stroke="#2ea84e" stroke-width="0.8"/>
<rect x="332.30" y="326.91" width="3.50" height="3.50" fill="#fff" stroke="#2ea84e" stroke-width="0.8"/>
<rect x="337.09" y="333.91" width="3.50" height="3.50" fill="#fff" stroke="#2ea84e" stroke-width="0.8"/>
<rect x="350.77" y="347.09" width="3.50" height="3.50" fill="#fff" stroke="#2ea84e" stroke-width="0.8"/>
<rect x="378.13" y="365.92" width="3.50" height="3.50" fill="#fff" stroke="#2ea84e" stroke-width="0.8"/>
<polyline points="332.27,318.55 334.05,323.34 338.84,328.80 352.52,335.03 379.88,348.41 427.76,373.49" fill="none" stroke="#2f7bc4" stroke-width="1.25" stroke-linejoin="round" />
<polygon points="332.27,316.54 334.02,319.78 330.52,319.78" fill="#2f7bc4" stroke="#2f7bc4" stroke-width="0.4"/>
<polygon points="334.05,321.33 335.80,324.57 332.30,324.57" fill="#2f7bc4" stroke="#2f7bc4" stroke-width="0.4"/>
<polygon points="338.84,326.79 340.59,330.03 337.09,330.03" fill="#2f7bc4" stroke="#2f7bc4" stroke-width="0.4"/>
<polygon points="352.52,333.02 354.27,336.25 350.77,336.25" fill="#2f7bc4" stroke="#2f7bc4" stroke-width="0.4"/>
<polygon points="379.88,346.40 381.63,349.63 378.13,349.63" fill="#2f7bc4" stroke="#2f7bc4" stroke-width="0.4"/>
<polygon points="427.76,371.48 429.51,374.72 426.01,374.72" fill="#2f7bc4" stroke="#2f7bc4" stroke-width="0.4"/>
<polyline points="332.27,313.72 334.05,316.15 338.84,320.17 352.52,327.18 379.88,337.45 427.76,362.24 475.64,388.77" fill="none" stroke="#ef8434" stroke-width="1.25" stroke-linejoin="round" />
<circle cx="332.27" cy="313.72" r="1.75" fill="#ef8434" stroke="#ef8434" stroke-width="0.4"/>
<circle cx="334.05" cy="316.15" r="1.75" fill="#ef8434" stroke="#ef8434" stroke-width="0.4"/>
<circle cx="338.84" cy="320.17" r="1.75" fill="#ef8434" stroke="#ef8434" stroke-width="0.4"/>
<circle cx="352.52" cy="327.18" r="1.75" fill="#ef8434" stroke="#ef8434" stroke-width="0.4"/>
<circle cx="379.88" cy="337.45" r="1.75" fill="#ef8434" stroke="#ef8434" stroke-width="0.4"/>
<circle cx="427.76" cy="362.24" r="1.75" fill="#ef8434" stroke="#ef8434" stroke-width="0.4"/>
<circle cx="475.64" cy="388.77" r="1.75" fill="#ef8434" stroke="#ef8434" stroke-width="0.4"/>
<polyline points="332.27,305.42 334.05,308.48 338.84,314.55 352.52,319.53 379.88,328.37 427.76,343.77 475.64,367.67" fill="none" stroke="#92cf52" stroke-width="1.25" stroke-linejoin="round" />
<rect x="330.52" y="303.67" width="3.50" height="3.50" fill="#92cf52" stroke="#92cf52" stroke-width="0.4"/>
<rect x="332.30" y="306.73" width="3.50" height="3.50" fill="#92cf52" stroke="#92cf52" stroke-width="0.4"/>
<rect x="337.09" y="312.80" width="3.50" height="3.50" fill="#92cf52" stroke="#92cf52" stroke-width="0.4"/>
<rect x="350.77" y="317.78" width="3.50" height="3.50" fill="#92cf52" stroke="#92cf52" stroke-width="0.4"/>
<rect x="378.13" y="326.62" width="3.50" height="3.50" fill="#92cf52" stroke="#92cf52" stroke-width="0.4"/>
<rect x="426.01" y="342.02" width="3.50" height="3.50" fill="#92cf52" stroke="#92cf52" stroke-width="0.4"/>
<rect x="473.89" y="365.92" width="3.50" height="3.50" fill="#92cf52" stroke="#92cf52" stroke-width="0.4"/>
<polyline points="332.27,300.56 334.05,304.00 338.84,309.90 352.52,317.27 379.88,327.56 427.76,347.49 475.64,362.24" fill="none" stroke="#1f2566" stroke-width="1.25" stroke-linejoin="round" />
<polygon points="332.27,298.55 334.02,301.79 330.52,301.79" fill="#1f2566" stroke="#1f2566" stroke-width="0.4"/>
<polygon points="334.05,301.99 335.80,305.23 332.30,305.23" fill="#1f2566" stroke="#1f2566" stroke-width="0.4"/>
<polygon points="338.84,307.89 340.59,311.13 337.09,311.13" fill="#1f2566" stroke="#1f2566" stroke-width="0.4"/>
<polygon points="352.52,315.26 354.27,318.49 350.77,318.49" fill="#1f2566" stroke="#1f2566" stroke-width="0.4"/>
<polygon points="379.88,325.55 381.63,328.78 378.13,328.78" fill="#1f2566" stroke="#1f2566" stroke-width="0.4"/>
<polygon points="427.76,345.47 429.51,348.71 426.01,348.71" fill="#1f2566" stroke="#1f2566" stroke-width="0.4"/>
<polygon points="475.64,360.23 477.39,363.47 473.89,363.47" fill="#1f2566" stroke="#1f2566" stroke-width="0.4"/>
<line x1="426.40" y1="279.90" x2="436.00" y2="279.90" stroke="#e53a3a" stroke-width="1.2" />
<circle cx="431.20" cy="279.90" r="1.6" fill="#fff" stroke="#e53a3a" stroke-width="0.75"/>
<text x="436.80" y="282.50" font-size="7.6" stroke="#333333" stroke-width="0.14" fill="#333333" textLength="39.8" lengthAdjust="spacingAndGlyphs">0.25 mg/kg</text>
<line x1="426.40" y1="290.04" x2="436.00" y2="290.04" stroke="#2ea84e" stroke-width="1.2" />
<rect x="429.60" y="288.44" width="3.20" height="3.20" fill="#fff" stroke="#2ea84e" stroke-width="0.75"/>
<text x="436.80" y="292.64" font-size="7.6" stroke="#333333" stroke-width="0.14" fill="#333333" textLength="35.5" lengthAdjust="spacingAndGlyphs">0.5 mg/kg</text>
<line x1="426.40" y1="300.18" x2="436.00" y2="300.18" stroke="#2f7bc4" stroke-width="1.2" />
<polygon points="431.20,298.34 432.80,301.30 429.60,301.30" fill="#2f7bc4" stroke="#2f7bc4" stroke-width="0.375"/>
<text x="436.80" y="302.78" font-size="7.6" stroke="#333333" stroke-width="0.14" fill="#333333" textLength="29.4" lengthAdjust="spacingAndGlyphs">1 mg/kg</text>
<line x1="426.40" y1="310.32" x2="436.00" y2="310.32" stroke="#ef8434" stroke-width="1.2" />
<circle cx="431.20" cy="310.32" r="1.6" fill="#ef8434" stroke="#ef8434" stroke-width="0.375"/>
<text x="436.80" y="312.92" font-size="7.6" stroke="#333333" stroke-width="0.14" fill="#333333" textLength="29.4" lengthAdjust="spacingAndGlyphs">2 mg/kg</text>
<line x1="426.40" y1="320.46" x2="436.00" y2="320.46" stroke="#92cf52" stroke-width="1.2" />
<rect x="429.60" y="318.86" width="3.20" height="3.20" fill="#92cf52" stroke="#92cf52" stroke-width="0.375"/>
<text x="436.80" y="323.06" font-size="7.6" stroke="#333333" stroke-width="0.14" fill="#333333" textLength="29.4" lengthAdjust="spacingAndGlyphs">4 mg/kg</text>
<line x1="426.40" y1="330.60" x2="436.00" y2="330.60" stroke="#1f2566" stroke-width="1.2" />
<polygon points="431.20,328.76 432.80,331.72 429.60,331.72" fill="#1f2566" stroke="#1f2566" stroke-width="0.375"/>
<text x="436.80" y="333.20" font-size="7.6" stroke="#333333" stroke-width="0.14" fill="#333333" textLength="29.4" lengthAdjust="spacingAndGlyphs">8 mg/kg</text>
<line x1="45.10" y1="442.52" x2="45.10" y2="569.50" stroke="#888" stroke-width="0.8" />
<line x1="43.10" y1="569.50" x2="45.10" y2="569.50" stroke="#888" stroke-width="0.8" />
<text x="43.00" y="571.88" font-size="6.8" stroke="#333333" stroke-width="0.16" text-anchor="end" fill="#333333">0</text>
<line x1="43.10" y1="551.36" x2="45.10" y2="551.36" stroke="#888" stroke-width="0.8" />
<text x="43.00" y="553.74" font-size="6.8" stroke="#333333" stroke-width="0.16" text-anchor="end" fill="#333333">200</text>
<line x1="43.10" y1="533.22" x2="45.10" y2="533.22" stroke="#888" stroke-width="0.8" />
<text x="43.00" y="535.60" font-size="6.8" stroke="#333333" stroke-width="0.16" text-anchor="end" fill="#333333">400</text>
<line x1="43.10" y1="515.08" x2="45.10" y2="515.08" stroke="#888" stroke-width="0.8" />
<text x="43.00" y="517.46" font-size="6.8" stroke="#333333" stroke-width="0.16" text-anchor="end" fill="#333333">600</text>
<line x1="43.10" y1="496.94" x2="45.10" y2="496.94" stroke="#888" stroke-width="0.8" />
<text x="43.00" y="499.32" font-size="6.8" stroke="#333333" stroke-width="0.16" text-anchor="end" fill="#333333">800</text>
<line x1="43.10" y1="478.80" x2="45.10" y2="478.80" stroke="#888" stroke-width="0.8" />
<text x="43.00" y="481.18" font-size="6.8" stroke="#333333" stroke-width="0.16" text-anchor="end" fill="#333333">1,000</text>
<line x1="43.10" y1="460.66" x2="45.10" y2="460.66" stroke="#888" stroke-width="0.8" />
<text x="43.00" y="463.04" font-size="6.8" stroke="#333333" stroke-width="0.16" text-anchor="end" fill="#333333">1,200</text>
<line x1="43.10" y1="442.52" x2="45.10" y2="442.52" stroke="#888" stroke-width="0.8" />
<text x="43.00" y="444.90" font-size="6.8" stroke="#333333" stroke-width="0.16" text-anchor="end" fill="#333333">1,400</text>
<line x1="45.10" y1="569.50" x2="315.60" y2="569.50" stroke="#888" stroke-width="0.8" />
<line x1="45.40" y1="569.50" x2="45.40" y2="571.00" stroke="#888" stroke-width="0.8" />
<line x1="55.05" y1="569.50" x2="55.05" y2="571.00" stroke="#888" stroke-width="0.8" />
<line x1="64.70" y1="569.50" x2="64.70" y2="571.00" stroke="#888" stroke-width="0.8" />
<line x1="74.35" y1="569.50" x2="74.35" y2="571.00" stroke="#888" stroke-width="0.8" />
<line x1="84.00" y1="569.50" x2="84.00" y2="571.00" stroke="#888" stroke-width="0.8" />
<line x1="93.65" y1="569.50" x2="93.65" y2="571.00" stroke="#888" stroke-width="0.8" />
<line x1="103.30" y1="569.50" x2="103.30" y2="571.00" stroke="#888" stroke-width="0.8" />
<line x1="112.95" y1="569.50" x2="112.95" y2="571.00" stroke="#888" stroke-width="0.8" />
<line x1="122.60" y1="569.50" x2="122.60" y2="571.00" stroke="#888" stroke-width="0.8" />
<line x1="132.25" y1="569.50" x2="132.25" y2="571.00" stroke="#888" stroke-width="0.8" />
<line x1="141.90" y1="569.50" x2="141.90" y2="571.00" stroke="#888" stroke-width="0.8" />
<line x1="151.55" y1="569.50" x2="151.55" y2="571.00" stroke="#888" stroke-width="0.8" />
<line x1="161.20" y1="569.50" x2="161.20" y2="571.00" stroke="#888" stroke-width="0.8" />
<line x1="170.85" y1="569.50" x2="170.85" y2="571.00" stroke="#888" stroke-width="0.8" />
<line x1="180.50" y1="569.50" x2="180.50" y2="571.00" stroke="#888" stroke-width="0.8" />
<line x1="190.15" y1="569.50" x2="190.15" y2="571.00" stroke="#888" stroke-width="0.8" />
<line x1="199.80" y1="569.50" x2="199.80" y2="571.00" stroke="#888" stroke-width="0.8" />
<line x1="209.45" y1="569.50" x2="209.45" y2="571.00" stroke="#888" stroke-width="0.8" />
<line x1="219.10" y1="569.50" x2="219.10" y2="571.00" stroke="#888" stroke-width="0.8" />
<line x1="228.75" y1="569.50" x2="228.75" y2="571.00" stroke="#888" stroke-width="0.8" />
<line x1="238.40" y1="569.50" x2="238.40" y2="571.00" stroke="#888" stroke-width="0.8" />
<line x1="248.05" y1="569.50" x2="248.05" y2="571.00" stroke="#888" stroke-width="0.8" />
<line x1="257.70" y1="569.50" x2="257.70" y2="571.00" stroke="#888" stroke-width="0.8" />
<line x1="267.35" y1="569.50" x2="267.35" y2="571.00" stroke="#888" stroke-width="0.8" />
<line x1="277.00" y1="569.50" x2="277.00" y2="571.00" stroke="#888" stroke-width="0.8" />
<line x1="286.65" y1="569.50" x2="286.65" y2="571.00" stroke="#888" stroke-width="0.8" />
<line x1="296.30" y1="569.50" x2="296.30" y2="571.00" stroke="#888" stroke-width="0.8" />
<line x1="305.95" y1="569.50" x2="305.95" y2="571.00" stroke="#888" stroke-width="0.8" />
<line x1="315.60" y1="569.50" x2="315.60" y2="571.00" stroke="#888" stroke-width="0.8" />
<text x="47.75" y="573.20" font-size="6.9" stroke="#333333" stroke-width="0.16" text-anchor="end" fill="#333333" transform="rotate(-90 47.75 573.20)">0</text>
<text x="57.40" y="573.20" font-size="6.9" stroke="#333333" stroke-width="0.16" text-anchor="end" fill="#333333" transform="rotate(-90 57.40 573.20)">10</text>
<text x="67.05" y="573.20" font-size="6.9" stroke="#333333" stroke-width="0.16" text-anchor="end" fill="#333333" transform="rotate(-90 67.05 573.20)">20</text>
<text x="76.70" y="573.20" font-size="6.9" stroke="#333333" stroke-width="0.16" text-anchor="end" fill="#333333" transform="rotate(-90 76.70 573.20)">30</text>
<text x="86.35" y="573.20" font-size="6.9" stroke="#333333" stroke-width="0.16" text-anchor="end" fill="#333333" transform="rotate(-90 86.35 573.20)">40</text>
<text x="96.00" y="573.20" font-size="6.9" stroke="#333333" stroke-width="0.16" text-anchor="end" fill="#333333" transform="rotate(-90 96.00 573.20)">50</text>
<text x="105.65" y="573.20" font-size="6.9" stroke="#333333" stroke-width="0.16" text-anchor="end" fill="#333333" transform="rotate(-90 105.65 573.20)">60</text>
<text x="115.30" y="573.20" font-size="6.9" stroke="#333333" stroke-width="0.16" text-anchor="end" fill="#333333" transform="rotate(-90 115.30 573.20)">70</text>
<text x="124.95" y="573.20" font-size="6.9" stroke="#333333" stroke-width="0.16" text-anchor="end" fill="#333333" transform="rotate(-90 124.95 573.20)">80</text>
<text x="134.60" y="573.20" font-size="6.9" stroke="#333333" stroke-width="0.16" text-anchor="end" fill="#333333" transform="rotate(-90 134.60 573.20)">90</text>
<text x="144.25" y="573.20" font-size="6.9" stroke="#333333" stroke-width="0.16" text-anchor="end" fill="#333333" transform="rotate(-90 144.25 573.20)">100</text>
<text x="153.90" y="573.20" font-size="6.9" stroke="#333333" stroke-width="0.16" text-anchor="end" fill="#333333" transform="rotate(-90 153.90 573.20)">110</text>
<text x="163.55" y="573.20" font-size="6.9" stroke="#333333" stroke-width="0.16" text-anchor="end" fill="#333333" transform="rotate(-90 163.55 573.20)">120</text>
<text x="173.20" y="573.20" font-size="6.9" stroke="#333333" stroke-width="0.16" text-anchor="end" fill="#333333" transform="rotate(-90 173.20 573.20)">130</text>
<text x="182.85" y="573.20" font-size="6.9" stroke="#333333" stroke-width="0.16" text-anchor="end" fill="#333333" transform="rotate(-90 182.85 573.20)">140</text>
<text x="192.50" y="573.20" font-size="6.9" stroke="#333333" stroke-width="0.16" text-anchor="end" fill="#333333" transform="rotate(-90 192.50 573.20)">150</text>
<text x="202.15" y="573.20" font-size="6.9" stroke="#333333" stroke-width="0.16" text-anchor="end" fill="#333333" transform="rotate(-90 202.15 573.20)">160</text>
<text x="211.80" y="573.20" font-size="6.9" stroke="#333333" stroke-width="0.16" text-anchor="end" fill="#333333" transform="rotate(-90 211.80 573.20)">170</text>
<text x="221.45" y="573.20" font-size="6.9" stroke="#333333" stroke-width="0.16" text-anchor="end" fill="#333333" transform="rotate(-90 221.45 573.20)">180</text>
<text x="231.10" y="573.20" font-size="6.9" stroke="#333333" stroke-width="0.16" text-anchor="end" fill="#333333" transform="rotate(-90 231.10 573.20)">190</text>
<text x="240.75" y="573.20" font-size="6.9" stroke="#333333" stroke-width="0.16" text-anchor="end" fill="#333333" transform="rotate(-90 240.75 573.20)">200</text>
<text x="250.40" y="573.20" font-size="6.9" stroke="#333333" stroke-width="0.16" text-anchor="end" fill="#333333" transform="rotate(-90 250.40 573.20)">210</text>
<text x="260.05" y="573.20" font-size="6.9" stroke="#333333" stroke-width="0.16" text-anchor="end" fill="#333333" transform="rotate(-90 260.05 573.20)">220</text>
<text x="269.70" y="573.20" font-size="6.9" stroke="#333333" stroke-width="0.16" text-anchor="end" fill="#333333" transform="rotate(-90 269.70 573.20)">230</text>
<text x="279.35" y="573.20" font-size="6.9" stroke="#333333" stroke-width="0.16" text-anchor="end" fill="#333333" transform="rotate(-90 279.35 573.20)">240</text>
<text x="289.00" y="573.20" font-size="6.9" stroke="#333333" stroke-width="0.16" text-anchor="end" fill="#333333" transform="rotate(-90 289.00 573.20)">250</text>
<text x="298.65" y="573.20" font-size="6.9" stroke="#333333" stroke-width="0.16" text-anchor="end" fill="#333333" transform="rotate(-90 298.65 573.20)">260</text>
<text x="308.30" y="573.20" font-size="6.9" stroke="#333333" stroke-width="0.16" text-anchor="end" fill="#333333" transform="rotate(-90 308.30 573.20)">270</text>
<text x="317.95" y="573.20" font-size="6.9" stroke="#333333" stroke-width="0.16" text-anchor="end" fill="#333333" transform="rotate(-90 317.95 573.20)">280</text>
<text x="161.00" y="593.90" font-size="7.0" stroke="#333333" stroke-width="0.16" text-anchor="middle" fill="#333333">Day</text>
<text x="18.60" y="506.00" font-size="6.4" stroke="#333333" stroke-width="0.16" text-anchor="middle" fill="#333333" textLength="66" lengthAdjust="spacingAndGlyphs" transform="rotate(-90 18.60 506.00)">Tumor volume (mm<tspan font-size="4.2" dy="-2.2">3</tspan><tspan dy="2.2">)</tspan></text>
<line x1="78.50" y1="555.12" x2="78.50" y2="560.12" stroke="#8c8c8c" stroke-width="0.65" />
<line x1="77.60" y1="555.12" x2="79.40" y2="555.12" stroke="#8c8c8c" stroke-width="0.65" />
<line x1="77.60" y1="560.12" x2="79.40" y2="560.12" stroke="#8c8c8c" stroke-width="0.65" />
<line x1="81.70" y1="549.84" x2="81.70" y2="559.04" stroke="#8c8c8c" stroke-width="0.65" />
<line x1="80.80" y1="549.84" x2="82.60" y2="549.84" stroke="#8c8c8c" stroke-width="0.65" />
<line x1="80.80" y1="559.04" x2="82.60" y2="559.04" stroke="#8c8c8c" stroke-width="0.65" />
<line x1="85.00" y1="546.40" x2="85.00" y2="555.60" stroke="#8c8c8c" stroke-width="0.65" />
<line x1="84.10" y1="546.40" x2="85.90" y2="546.40" stroke="#8c8c8c" stroke-width="0.65" />
<line x1="84.10" y1="555.60" x2="85.90" y2="555.60" stroke="#8c8c8c" stroke-width="0.65" />
<line x1="88.50" y1="541.05" x2="88.50" y2="550.25" stroke="#8c8c8c" stroke-width="0.65" />
<line x1="87.60" y1="541.05" x2="89.40" y2="541.05" stroke="#8c8c8c" stroke-width="0.65" />
<line x1="87.60" y1="550.25" x2="89.40" y2="550.25" stroke="#8c8c8c" stroke-width="0.65" />
<line x1="92.00" y1="540.14" x2="92.00" y2="549.34" stroke="#8c8c8c" stroke-width="0.65" />
<line x1="91.10" y1="540.14" x2="92.90" y2="540.14" stroke="#8c8c8c" stroke-width="0.65" />
<line x1="91.10" y1="549.34" x2="92.90" y2="549.34" stroke="#8c8c8c" stroke-width="0.65" />
<line x1="95.20" y1="542.32" x2="95.20" y2="551.52" stroke="#8c8c8c" stroke-width="0.65" />
<line x1="94.30" y1="542.32" x2="96.10" y2="542.32" stroke="#8c8c8c" stroke-width="0.65" />
<line x1="94.30" y1="551.52" x2="96.10" y2="551.52" stroke="#8c8c8c" stroke-width="0.65" />
<line x1="98.70" y1="549.12" x2="98.70" y2="558.32" stroke="#8c8c8c" stroke-width="0.65" />
<line x1="97.80" y1="549.12" x2="99.60" y2="549.12" stroke="#8c8c8c" stroke-width="0.65" />
<line x1="97.80" y1="558.32" x2="99.60" y2="558.32" stroke="#8c8c8c" stroke-width="0.65" />
<line x1="101.90" y1="548.39" x2="101.90" y2="557.59" stroke="#8c8c8c" stroke-width="0.65" />
<line x1="101.00" y1="548.39" x2="102.80" y2="548.39" stroke="#8c8c8c" stroke-width="0.65" />
<line x1="101.00" y1="557.59" x2="102.80" y2="557.59" stroke="#8c8c8c" stroke-width="0.65" />
<line x1="105.40" y1="546.40" x2="105.40" y2="555.60" stroke="#8c8c8c" stroke-width="0.65" />
<line x1="104.50" y1="546.40" x2="106.30" y2="546.40" stroke="#8c8c8c" stroke-width="0.65" />
<line x1="104.50" y1="555.60" x2="106.30" y2="555.60" stroke="#8c8c8c" stroke-width="0.65" />
<line x1="108.70" y1="545.04" x2="108.70" y2="554.24" stroke="#8c8c8c" stroke-width="0.65" />
<line x1="107.80" y1="545.04" x2="109.60" y2="545.04" stroke="#8c8c8c" stroke-width="0.65" />
<line x1="107.80" y1="554.24" x2="109.60" y2="554.24" stroke="#8c8c8c" stroke-width="0.65" />
<line x1="112.20" y1="540.14" x2="112.20" y2="549.34" stroke="#8c8c8c" stroke-width="0.65" />
<line x1="111.30" y1="540.14" x2="113.10" y2="540.14" stroke="#8c8c8c" stroke-width="0.65" />
<line x1="111.30" y1="549.34" x2="113.10" y2="549.34" stroke="#8c8c8c" stroke-width="0.65" />
<line x1="115.40" y1="544.49" x2="115.40" y2="553.69" stroke="#8c8c8c" stroke-width="0.65" />
<line x1="114.50" y1="544.49" x2="116.30" y2="544.49" stroke="#8c8c8c" stroke-width="0.65" />
<line x1="114.50" y1="553.69" x2="116.30" y2="553.69" stroke="#8c8c8c" stroke-width="0.65" />
<line x1="118.90" y1="546.13" x2="118.90" y2="555.33" stroke="#8c8c8c" stroke-width="0.65" />
<line x1="118.00" y1="546.13" x2="119.80" y2="546.13" stroke="#8c8c8c" stroke-width="0.65" />
<line x1="118.00" y1="555.33" x2="119.80" y2="555.33" stroke="#8c8c8c" stroke-width="0.65" />
<line x1="122.10" y1="545.85" x2="122.10" y2="555.05" stroke="#8c8c8c" stroke-width="0.65" />
<line x1="121.20" y1="545.85" x2="123.00" y2="545.85" stroke="#8c8c8c" stroke-width="0.65" />
<line x1="121.20" y1="555.05" x2="123.00" y2="555.05" stroke="#8c8c8c" stroke-width="0.65" />
<line x1="125.60" y1="543.68" x2="125.60" y2="552.88" stroke="#8c8c8c" stroke-width="0.65" />
<line x1="124.70" y1="543.68" x2="126.50" y2="543.68" stroke="#8c8c8c" stroke-width="0.65" />
<line x1="124.70" y1="552.88" x2="126.50" y2="552.88" stroke="#8c8c8c" stroke-width="0.65" />
<line x1="128.90" y1="542.32" x2="128.90" y2="551.52" stroke="#8c8c8c" stroke-width="0.65" />
<line x1="128.00" y1="542.32" x2="129.80" y2="542.32" stroke="#8c8c8c" stroke-width="0.65" />
<line x1="128.00" y1="551.52" x2="129.80" y2="551.52" stroke="#8c8c8c" stroke-width="0.65" />
<line x1="132.40" y1="541.77" x2="132.40" y2="550.97" stroke="#8c8c8c" stroke-width="0.65" />
<line x1="131.50" y1="541.77" x2="133.30" y2="541.77" stroke="#8c8c8c" stroke-width="0.65" />
<line x1="131.50" y1="550.97" x2="133.30" y2="550.97" stroke="#8c8c8c" stroke-width="0.65" />
<line x1="135.60" y1="539.69" x2="135.60" y2="548.89" stroke="#8c8c8c" stroke-width="0.65" />
<line x1="134.70" y1="539.69" x2="136.50" y2="539.69" stroke="#8c8c8c" stroke-width="0.65" />
<line x1="134.70" y1="548.89" x2="136.50" y2="548.89" stroke="#8c8c8c" stroke-width="0.65" />
<line x1="139.10" y1="542.32" x2="139.10" y2="551.52" stroke="#8c8c8c" stroke-width="0.65" />
<line x1="138.20" y1="542.32" x2="140.00" y2="542.32" stroke="#8c8c8c" stroke-width="0.65" />
<line x1="138.20" y1="551.52" x2="140.00" y2="551.52" stroke="#8c8c8c" stroke-width="0.65" />
<line x1="142.30" y1="543.13" x2="142.30" y2="552.33" stroke="#8c8c8c" stroke-width="0.65" />
<line x1="141.40" y1="543.13" x2="143.20" y2="543.13" stroke="#8c8c8c" stroke-width="0.65" />
<line x1="141.40" y1="552.33" x2="143.20" y2="552.33" stroke="#8c8c8c" stroke-width="0.65" />
<line x1="145.80" y1="540.14" x2="145.80" y2="549.34" stroke="#8c8c8c" stroke-width="0.65" />
<line x1="144.90" y1="540.14" x2="146.70" y2="540.14" stroke="#8c8c8c" stroke-width="0.65" />
<line x1="144.90" y1="549.34" x2="146.70" y2="549.34" stroke="#8c8c8c" stroke-width="0.65" />
<line x1="149.00" y1="545.58" x2="149.00" y2="554.78" stroke="#8c8c8c" stroke-width="0.65" />
<line x1="148.10" y1="545.58" x2="149.90" y2="545.58" stroke="#8c8c8c" stroke-width="0.65" />
<line x1="148.10" y1="554.78" x2="149.90" y2="554.78" stroke="#8c8c8c" stroke-width="0.65" />
<line x1="152.50" y1="545.04" x2="152.50" y2="554.24" stroke="#8c8c8c" stroke-width="0.65" />
<line x1="151.60" y1="545.04" x2="153.40" y2="545.04" stroke="#8c8c8c" stroke-width="0.65" />
<line x1="151.60" y1="554.24" x2="153.40" y2="554.24" stroke="#8c8c8c" stroke-width="0.65" />
<line x1="155.80" y1="545.58" x2="155.80" y2="554.78" stroke="#8c8c8c" stroke-width="0.65" />
<line x1="154.90" y1="545.58" x2="156.70" y2="545.58" stroke="#8c8c8c" stroke-width="0.65" />
<line x1="154.90" y1="554.78" x2="156.70" y2="554.78" stroke="#8c8c8c" stroke-width="0.65" />
<line x1="159.30" y1="545.04" x2="159.30" y2="554.24" stroke="#8c8c8c" stroke-width="0.65" />
<line x1="158.40" y1="545.04" x2="160.20" y2="545.04" stroke="#8c8c8c" stroke-width="0.65" />
<line x1="158.40" y1="554.24" x2="160.20" y2="554.24" stroke="#8c8c8c" stroke-width="0.65" />
<line x1="162.50" y1="545.85" x2="162.50" y2="555.05" stroke="#8c8c8c" stroke-width="0.65" />
<line x1="161.60" y1="545.85" x2="163.40" y2="545.85" stroke="#8c8c8c" stroke-width="0.65" />
<line x1="161.60" y1="555.05" x2="163.40" y2="555.05" stroke="#8c8c8c" stroke-width="0.65" />
<line x1="166.00" y1="544.49" x2="166.00" y2="553.69" stroke="#8c8c8c" stroke-width="0.65" />
<line x1="165.10" y1="544.49" x2="166.90" y2="544.49" stroke="#8c8c8c" stroke-width="0.65" />
<line x1="165.10" y1="553.69" x2="166.90" y2="553.69" stroke="#8c8c8c" stroke-width="0.65" />
<line x1="169.20" y1="542.32" x2="169.20" y2="551.52" stroke="#8c8c8c" stroke-width="0.65" />
<line x1="168.30" y1="542.32" x2="170.10" y2="542.32" stroke="#8c8c8c" stroke-width="0.65" />
<line x1="168.30" y1="551.52" x2="170.10" y2="551.52" stroke="#8c8c8c" stroke-width="0.65" />
<line x1="172.70" y1="543.13" x2="172.70" y2="552.33" stroke="#8c8c8c" stroke-width="0.65" />
<line x1="171.80" y1="543.13" x2="173.60" y2="543.13" stroke="#8c8c8c" stroke-width="0.65" />
<line x1="171.80" y1="552.33" x2="173.60" y2="552.33" stroke="#8c8c8c" stroke-width="0.65" />
<line x1="176.00" y1="543.68" x2="176.00" y2="552.88" stroke="#8c8c8c" stroke-width="0.65" />
<line x1="175.10" y1="543.68" x2="176.90" y2="543.68" stroke="#8c8c8c" stroke-width="0.65" />
<line x1="175.10" y1="552.88" x2="176.90" y2="552.88" stroke="#8c8c8c" stroke-width="0.65" />
<line x1="179.50" y1="543.40" x2="179.50" y2="552.60" stroke="#8c8c8c" stroke-width="0.65" />
<line x1="178.60" y1="543.40" x2="180.40" y2="543.40" stroke="#8c8c8c" stroke-width="0.65" />
<line x1="178.60" y1="552.60" x2="180.40" y2="552.60" stroke="#8c8c8c" stroke-width="0.65" />
<line x1="183.00" y1="543.13" x2="183.00" y2="552.33" stroke="#8c8c8c" stroke-width="0.65" />
<line x1="182.10" y1="543.13" x2="183.90" y2="543.13" stroke="#8c8c8c" stroke-width="0.65" />
<line x1="182.10" y1="552.33" x2="183.90" y2="552.33" stroke="#8c8c8c" stroke-width="0.65" />
<line x1="186.40" y1="541.59" x2="186.40" y2="550.79" stroke="#8c8c8c" stroke-width="0.65" />
<line x1="185.50" y1="541.59" x2="187.30" y2="541.59" stroke="#8c8c8c" stroke-width="0.65" />
<line x1="185.50" y1="550.79" x2="187.30" y2="550.79" stroke="#8c8c8c" stroke-width="0.65" />
<line x1="190.00" y1="540.86" x2="190.00" y2="550.06" stroke="#8c8c8c" stroke-width="0.65" />
<line x1="189.10" y1="540.86" x2="190.90" y2="540.86" stroke="#8c8c8c" stroke-width="0.65" />
<line x1="189.10" y1="550.06" x2="190.90" y2="550.06" stroke="#8c8c8c" stroke-width="0.65" />
<line x1="193.60" y1="542.41" x2="193.60" y2="551.61" stroke="#8c8c8c" stroke-width="0.65" />
<line x1="192.70" y1="542.41" x2="194.50" y2="542.41" stroke="#8c8c8c" stroke-width="0.65" />
<line x1="192.70" y1="551.61" x2="194.50" y2="551.61" stroke="#8c8c8c" stroke-width="0.65" />
<line x1="197.20" y1="543.31" x2="197.20" y2="552.51" stroke="#8c8c8c" stroke-width="0.65" />
<line x1="196.30" y1="543.31" x2="198.10" y2="543.31" stroke="#8c8c8c" stroke-width="0.65" />
<line x1="196.30" y1="552.51" x2="198.10" y2="552.51" stroke="#8c8c8c" stroke-width="0.65" />
<line x1="200.90" y1="542.95" x2="200.90" y2="552.15" stroke="#8c8c8c" stroke-width="0.65" />
<line x1="200.00" y1="542.95" x2="201.80" y2="542.95" stroke="#8c8c8c" stroke-width="0.65" />
<line x1="200.00" y1="552.15" x2="201.80" y2="552.15" stroke="#8c8c8c" stroke-width="0.65" />
<line x1="203.80" y1="543.40" x2="203.80" y2="552.60" stroke="#8c8c8c" stroke-width="0.65" />
<line x1="202.90" y1="543.40" x2="204.70" y2="543.40" stroke="#8c8c8c" stroke-width="0.65" />
<line x1="202.90" y1="552.60" x2="204.70" y2="552.60" stroke="#8c8c8c" stroke-width="0.65" />
<line x1="207.30" y1="542.50" x2="207.30" y2="551.70" stroke="#8c8c8c" stroke-width="0.65" />
<line x1="206.40" y1="542.50" x2="208.20" y2="542.50" stroke="#8c8c8c" stroke-width="0.65" />
<line x1="206.40" y1="551.70" x2="208.20" y2="551.70" stroke="#8c8c8c" stroke-width="0.65" />
<line x1="210.70" y1="541.23" x2="210.70" y2="550.43" stroke="#8c8c8c" stroke-width="0.65" />
<line x1="209.80" y1="541.23" x2="211.60" y2="541.23" stroke="#8c8c8c" stroke-width="0.65" />
<line x1="209.80" y1="550.43" x2="211.60" y2="550.43" stroke="#8c8c8c" stroke-width="0.65" />
<line x1="214.20" y1="540.32" x2="214.20" y2="549.52" stroke="#8c8c8c" stroke-width="0.65" />
<line x1="213.30" y1="540.32" x2="215.10" y2="540.32" stroke="#8c8c8c" stroke-width="0.65" />
<line x1="213.30" y1="549.52" x2="215.10" y2="549.52" stroke="#8c8c8c" stroke-width="0.65" />
<line x1="217.30" y1="539.14" x2="217.30" y2="548.34" stroke="#8c8c8c" stroke-width="0.65" />
<line x1="216.40" y1="539.14" x2="218.20" y2="539.14" stroke="#8c8c8c" stroke-width="0.65" />
<line x1="216.40" y1="548.34" x2="218.20" y2="548.34" stroke="#8c8c8c" stroke-width="0.65" />
<line x1="220.80" y1="538.60" x2="220.80" y2="547.80" stroke="#8c8c8c" stroke-width="0.65" />
<line x1="219.90" y1="538.60" x2="221.70" y2="538.60" stroke="#8c8c8c" stroke-width="0.65" />
<line x1="219.90" y1="547.80" x2="221.70" y2="547.80" stroke="#8c8c8c" stroke-width="0.65" />
<line x1="223.90" y1="539.14" x2="223.90" y2="548.34" stroke="#8c8c8c" stroke-width="0.65" />
<line x1="223.00" y1="539.14" x2="224.80" y2="539.14" stroke="#8c8c8c" stroke-width="0.65" />
<line x1="223.00" y1="548.34" x2="224.80" y2="548.34" stroke="#8c8c8c" stroke-width="0.65" />
<line x1="227.70" y1="537.69" x2="227.70" y2="546.89" stroke="#8c8c8c" stroke-width="0.65" />
<line x1="226.80" y1="537.69" x2="228.60" y2="537.69" stroke="#8c8c8c" stroke-width="0.65" />
<line x1="226.80" y1="546.89" x2="228.60" y2="546.89" stroke="#8c8c8c" stroke-width="0.65" />
<line x1="230.30" y1="536.78" x2="230.30" y2="545.98" stroke="#8c8c8c" stroke-width="0.65" />
<line x1="229.40" y1="536.78" x2="231.20" y2="536.78" stroke="#8c8c8c" stroke-width="0.65" />
<line x1="229.40" y1="545.98" x2="231.20" y2="545.98" stroke="#8c8c8c" stroke-width="0.65" />
<line x1="232.00" y1="537.42" x2="232.00" y2="546.62" stroke="#8c8c8c" stroke-width="0.65" />
<line x1="231.10" y1="537.42" x2="232.90" y2="537.42" stroke="#8c8c8c" stroke-width="0.65" />
<line x1="231.10" y1="546.62" x2="232.90" y2="546.62" stroke="#8c8c8c" stroke-width="0.65" />
<line x1="235.50" y1="539.78" x2="235.50" y2="548.98" stroke="#8c8c8c" stroke-width="0.65" />
<line x1="234.60" y1="539.78" x2="236.40" y2="539.78" stroke="#8c8c8c" stroke-width="0.65" />
<line x1="234.60" y1="548.98" x2="236.40" y2="548.98" stroke="#8c8c8c" stroke-width="0.65" />
<line x1="238.40" y1="537.69" x2="238.40" y2="546.89" stroke="#8c8c8c" stroke-width="0.65" />
<line x1="237.50" y1="537.69" x2="239.30" y2="537.69" stroke="#8c8c8c" stroke-width="0.65" />
<line x1="237.50" y1="546.89" x2="239.30" y2="546.89" stroke="#8c8c8c" stroke-width="0.65" />
<line x1="249.30" y1="537.69" x2="249.30" y2="546.89" stroke="#8c8c8c" stroke-width="0.65" />
<line x1="248.40" y1="537.69" x2="250.20" y2="537.69" stroke="#8c8c8c" stroke-width="0.65" />
<line x1="248.40" y1="546.89" x2="250.20" y2="546.89" stroke="#8c8c8c" stroke-width="0.65" />
<line x1="249.30" y1="539.29" x2="249.30" y2="545.29" stroke="#8c8c8c" stroke-width="0.65" />
<line x1="248.40" y1="539.29" x2="250.20" y2="539.29" stroke="#8c8c8c" stroke-width="0.65" />
<line x1="248.40" y1="545.29" x2="250.20" y2="545.29" stroke="#8c8c8c" stroke-width="0.65" />
<line x1="251.60" y1="539.29" x2="251.60" y2="545.29" stroke="#8c8c8c" stroke-width="0.65" />
<line x1="250.70" y1="539.29" x2="252.50" y2="539.29" stroke="#8c8c8c" stroke-width="0.65" />
<line x1="250.70" y1="545.29" x2="252.50" y2="545.29" stroke="#8c8c8c" stroke-width="0.65" />
<line x1="255.40" y1="543.64" x2="255.40" y2="549.64" stroke="#8c8c8c" stroke-width="0.65" />
<line x1="254.50" y1="543.64" x2="256.30" y2="543.64" stroke="#8c8c8c" stroke-width="0.65" />
<line x1="254.50" y1="549.64" x2="256.30" y2="549.64" stroke="#8c8c8c" stroke-width="0.65" />
<line x1="258.00" y1="547.63" x2="258.00" y2="553.63" stroke="#8c8c8c" stroke-width="0.65" />
<line x1="257.10" y1="547.63" x2="258.90" y2="547.63" stroke="#8c8c8c" stroke-width="0.65" />
<line x1="257.10" y1="553.63" x2="258.90" y2="553.63" stroke="#8c8c8c" stroke-width="0.65" />
<line x1="261.40" y1="549.99" x2="261.40" y2="555.99" stroke="#8c8c8c" stroke-width="0.65" />
<line x1="260.50" y1="549.99" x2="262.30" y2="549.99" stroke="#8c8c8c" stroke-width="0.65" />
<line x1="260.50" y1="555.99" x2="262.30" y2="555.99" stroke="#8c8c8c" stroke-width="0.65" />
<line x1="264.90" y1="550.17" x2="264.90" y2="556.17" stroke="#8c8c8c" stroke-width="0.65" />
<line x1="264.00" y1="550.17" x2="265.80" y2="550.17" stroke="#8c8c8c" stroke-width="0.65" />
<line x1="264.00" y1="556.17" x2="265.80" y2="556.17" stroke="#8c8c8c" stroke-width="0.65" />
<line x1="268.90" y1="552.80" x2="268.90" y2="558.80" stroke="#8c8c8c" stroke-width="0.65" />
<line x1="268.00" y1="552.80" x2="269.80" y2="552.80" stroke="#8c8c8c" stroke-width="0.65" />
<line x1="268.00" y1="558.80" x2="269.80" y2="558.80" stroke="#8c8c8c" stroke-width="0.65" />
<line x1="271.30" y1="553.98" x2="271.30" y2="559.98" stroke="#8c8c8c" stroke-width="0.65" />
<line x1="270.40" y1="553.98" x2="272.20" y2="553.98" stroke="#8c8c8c" stroke-width="0.65" />
<line x1="270.40" y1="559.98" x2="272.20" y2="559.98" stroke="#8c8c8c" stroke-width="0.65" />
<line x1="274.70" y1="556.61" x2="274.70" y2="562.61" stroke="#8c8c8c" stroke-width="0.65" />
<line x1="273.80" y1="556.61" x2="275.60" y2="556.61" stroke="#8c8c8c" stroke-width="0.65" />
<line x1="273.80" y1="562.61" x2="275.60" y2="562.61" stroke="#8c8c8c" stroke-width="0.65" />
<line x1="58.25" y1="499.02" x2="58.25" y2="505.02" stroke="#8c8c8c" stroke-width="0.6" />
<line x1="57.35" y1="499.02" x2="59.15" y2="499.02" stroke="#8c8c8c" stroke-width="0.6" />
<line x1="57.35" y1="505.02" x2="59.15" y2="505.02" stroke="#8c8c8c" stroke-width="0.6" />
<line x1="61.25" y1="475.52" x2="61.25" y2="489.52" stroke="#8c8c8c" stroke-width="0.6" />
<line x1="60.35" y1="475.52" x2="62.15" y2="475.52" stroke="#8c8c8c" stroke-width="0.6" />
<line x1="60.35" y1="489.52" x2="62.15" y2="489.52" stroke="#8c8c8c" stroke-width="0.6" />
<line x1="65.50" y1="458.51" x2="65.50" y2="475.51" stroke="#8c8c8c" stroke-width="0.6" />
<line x1="64.60" y1="458.51" x2="66.40" y2="458.51" stroke="#8c8c8c" stroke-width="0.6" />
<line x1="64.60" y1="475.51" x2="66.40" y2="475.51" stroke="#8c8c8c" stroke-width="0.6" />
<polyline points="45.75,545.01 48.75,537.48 51.75,529.23 55.00,517.53 58.25,502.02 61.25,482.52 65.50,467.01" fill="none" stroke="#222" stroke-width="1.0" stroke-linejoin="round" />
<polyline points="45.40,545.65 48.10,541.02 51.30,549.64 54.80,554.99 58.30,560.88 61.50,561.52 64.80,561.52 68.30,562.06 71.80,562.24 75.00,559.80 78.50,557.62 81.70,554.44 85.00,551.00 88.50,545.65 92.00,544.74 95.20,546.92 98.70,553.72 101.90,552.99 105.40,551.00 108.70,549.64 112.20,544.74 115.40,549.09 118.90,550.73 122.10,550.45 125.60,548.28 128.90,546.92 132.40,546.37 135.60,544.29 139.10,546.92 142.30,547.73 145.80,544.74 149.00,550.18 152.50,549.64 155.80,550.18 159.30,549.64 162.50,550.45 166.00,549.09 169.20,546.92 172.70,547.73 176.00,548.28 179.50,548.00 183.00,547.73 186.40,546.19 190.00,545.46 193.60,547.01 197.20,547.91 200.90,547.55 203.80,548.00 207.30,547.10 210.70,545.83 214.20,544.92 217.30,543.74 220.80,543.20 223.90,543.74 227.70,542.29 230.30,541.38 232.00,542.02 235.50,544.38 238.40,542.29 249.30,542.29" fill="none" stroke="#d9434f" stroke-width="1.3" stroke-linejoin="round" />
<polyline points="249.30,542.29 251.60,542.29 255.40,546.64 258.00,550.63 261.40,552.99 264.90,553.17 268.90,555.80 271.30,556.98 274.70,559.61 278.20,560.52 282.70,561.70 285.60,561.88 289.10,562.24 292.50,562.06 296.20,562.24 300.00,562.43 303.50,562.61 307.00,562.70 311.00,562.43" fill="none" stroke="#62a8d4" stroke-width="1.3" stroke-linejoin="round" />
<circle cx="45.40" cy="545.65" r="1.45" fill="#701420"/>
<circle cx="48.10" cy="541.02" r="1.45" fill="#701420"/>
<circle cx="51.30" cy="549.64" r="1.45" fill="#701420"/>
<circle cx="54.80" cy="554.99" r="1.45" fill="#701420"/>
<circle cx="58.30" cy="560.88" r="1.45" fill="#701420"/>
<circle cx="61.50" cy="561.52" r="1.45" fill="#701420"/>
<circle cx="64.80" cy="561.52" r="1.45" fill="#701420"/>
<circle cx="68.30" cy="562.06" r="1.45" fill="#701420"/>
<circle cx="71.80" cy="562.24" r="1.45" fill="#701420"/>
<circle cx="75.00" cy="559.80" r="1.45" fill="#701420"/>
<circle cx="78.50" cy="557.62" r="1.45" fill="#701420"/>
<circle cx="81.70" cy="554.44" r="1.45" fill="#701420"/>
<circle cx="85.00" cy="551.00" r="1.45" fill="#701420"/>
<circle cx="88.50" cy="545.65" r="1.45" fill="#701420"/>
<circle cx="92.00" cy="544.74" r="1.45" fill="#701420"/>
<circle cx="95.20" cy="546.92" r="1.45" fill="#701420"/>
<circle cx="98.70" cy="553.72" r="1.45" fill="#701420"/>
<circle cx="101.90" cy="552.99" r="1.45" fill="#701420"/>
<circle cx="105.40" cy="551.00" r="1.45" fill="#701420"/>
<circle cx="108.70" cy="549.64" r="1.45" fill="#701420"/>
<circle cx="112.20" cy="544.74" r="1.45" fill="#701420"/>
<circle cx="115.40" cy="549.09" r="1.45" fill="#701420"/>
<circle cx="118.90" cy="550.73" r="1.45" fill="#701420"/>
<circle cx="122.10" cy="550.45" r="1.45" fill="#701420"/>
<circle cx="125.60" cy="548.28" r="1.45" fill="#701420"/>
<circle cx="128.90" cy="546.92" r="1.45" fill="#701420"/>
<circle cx="132.40" cy="546.37" r="1.45" fill="#701420"/>
<circle cx="135.60" cy="544.29" r="1.45" fill="#701420"/>
<circle cx="139.10" cy="546.92" r="1.45" fill="#701420"/>
<circle cx="142.30" cy="547.73" r="1.45" fill="#701420"/>
<circle cx="145.80" cy="544.74" r="1.45" fill="#701420"/>
<circle cx="149.00" cy="550.18" r="1.45" fill="#701420"/>
<circle cx="152.50" cy="549.64" r="1.45" fill="#701420"/>
<circle cx="155.80" cy="550.18" r="1.45" fill="#701420"/>
<circle cx="159.30" cy="549.64" r="1.45" fill="#701420"/>
<circle cx="162.50" cy="550.45" r="1.45" fill="#701420"/>
<circle cx="166.00" cy="549.09" r="1.45" fill="#701420"/>
<circle cx="169.20" cy="546.92" r="1.45" fill="#701420"/>
<circle cx="172.70" cy="547.73" r="1.45" fill="#701420"/>
<circle cx="176.00" cy="548.28" r="1.45" fill="#701420"/>
<circle cx="179.50" cy="548.00" r="1.45" fill="#701420"/>
<circle cx="183.00" cy="547.73" r="1.45" fill="#701420"/>
<circle cx="186.40" cy="546.19" r="1.45" fill="#701420"/>
<circle cx="190.00" cy="545.46" r="1.45" fill="#701420"/>
<circle cx="193.60" cy="547.01" r="1.45" fill="#701420"/>
<circle cx="197.20" cy="547.91" r="1.45" fill="#701420"/>
<circle cx="200.90" cy="547.55" r="1.45" fill="#701420"/>
<circle cx="203.80" cy="548.00" r="1.45" fill="#701420"/>
<circle cx="207.30" cy="547.10" r="1.45" fill="#701420"/>
<circle cx="210.70" cy="545.83" r="1.45" fill="#701420"/>
<circle cx="214.20" cy="544.92" r="1.45" fill="#701420"/>
<circle cx="217.30" cy="543.74" r="1.45" fill="#701420"/>
<circle cx="220.80" cy="543.20" r="1.45" fill="#701420"/>
<circle cx="223.90" cy="543.74" r="1.45" fill="#701420"/>
<circle cx="227.70" cy="542.29" r="1.45" fill="#701420"/>
<circle cx="230.30" cy="541.38" r="1.45" fill="#701420"/>
<circle cx="232.00" cy="542.02" r="1.45" fill="#701420"/>
<circle cx="235.50" cy="544.38" r="1.45" fill="#701420"/>
<circle cx="238.40" cy="542.29" r="1.45" fill="#701420"/>
<circle cx="251.60" cy="542.29" r="1.45" fill="#1f6f8c"/>
<circle cx="255.40" cy="546.64" r="1.45" fill="#1f6f8c"/>
<circle cx="258.00" cy="550.63" r="1.45" fill="#1f6f8c"/>
<circle cx="261.40" cy="552.99" r="1.45" fill="#1f6f8c"/>
<circle cx="264.90" cy="553.17" r="1.45" fill="#1f6f8c"/>
<circle cx="268.90" cy="555.80" r="1.45" fill="#1f6f8c"/>
<circle cx="271.30" cy="556.98" r="1.45" fill="#1f6f8c"/>
<circle cx="274.70" cy="559.61" r="1.45" fill="#1f6f8c"/>
<circle cx="278.20" cy="560.52" r="1.45" fill="#1f6f8c"/>
<circle cx="282.70" cy="561.70" r="1.45" fill="#1f6f8c"/>
<circle cx="285.60" cy="561.88" r="1.45" fill="#1f6f8c"/>
<circle cx="289.10" cy="562.24" r="1.45" fill="#1f6f8c"/>
<circle cx="292.50" cy="562.06" r="1.45" fill="#1f6f8c"/>
<circle cx="296.20" cy="562.24" r="1.45" fill="#1f6f8c"/>
<circle cx="300.00" cy="562.43" r="1.45" fill="#1f6f8c"/>
<circle cx="303.50" cy="562.61" r="1.45" fill="#1f6f8c"/>
<circle cx="307.00" cy="562.70" r="1.45" fill="#1f6f8c"/>
<circle cx="311.00" cy="562.43" r="1.45" fill="#1f6f8c"/>
<circle cx="45.75" cy="545.01" r="1.3" fill="#111"/>
<circle cx="48.75" cy="537.48" r="1.3" fill="#111"/>
<circle cx="51.75" cy="529.23" r="1.3" fill="#111"/>
<circle cx="55.00" cy="517.53" r="1.3" fill="#111"/>
<circle cx="58.25" cy="502.02" r="1.3" fill="#111"/>
<circle cx="61.25" cy="482.52" r="1.3" fill="#111"/>
<circle cx="65.50" cy="467.01" r="1.3" fill="#111"/>
<polygon points="45.98,567.80 47.68,570.80 44.28,570.80" fill="#e4584a"/>
<polygon points="87.76,567.80 89.46,570.80 86.06,570.80" fill="#e4584a"/>
<polygon points="109.48,567.80 111.18,570.80 107.78,570.80" fill="#e4584a"/>
<polygon points="130.22,567.80 131.92,570.80 128.52,570.80" fill="#e4584a"/>
<polygon points="148.46,567.80 150.16,570.80 146.76,570.80" fill="#e4584a"/>
<polygon points="168.73,567.80 170.43,570.80 167.03,570.80" fill="#e4584a"/>
<polygon points="188.51,567.80 190.21,570.80 186.81,570.80" fill="#e4584a"/>
<polygon points="210.41,567.80 212.11,570.80 208.72,570.80" fill="#e4584a"/>
<polygon points="229.72,567.80 231.41,570.80 228.02,570.80" fill="#e4584a"/>
<polygon points="249.01,567.80 250.71,570.80 247.31,570.80" fill="#6fb0dc"/>
<polygon points="268.89,567.80 270.59,570.80 267.19,570.80" fill="#6fb0dc"/>
<polygon points="288.77,567.80 290.47,570.80 287.07,570.80" fill="#6fb0dc"/>
<line x1="133.80" y1="449.00" x2="142.00" y2="449.00" stroke="#222" stroke-width="0.9" />
<circle cx="137.90" cy="449.00" r="1.2" fill="#222"/>
<text x="142.60" y="451.60" font-size="7.6" stroke="#333333" stroke-width="0.14" fill="#333333" textLength="23.0" lengthAdjust="spacingAndGlyphs">Vehicle</text>
<line x1="133.80" y1="463.72" x2="142.00" y2="463.72" stroke="#e0504c" stroke-width="0.9" />
<circle cx="137.90" cy="463.72" r="1.2" fill="#c0302c"/>
<text x="142.60" y="466.32" font-size="7.6" stroke="#333333" stroke-width="0.14" fill="#333333" textLength="143.0" lengthAdjust="spacingAndGlyphs">Carboplatin 50 mg/kg and paclitaxel 30 mg/kg</text>
<line x1="133.80" y1="478.44" x2="142.00" y2="478.44" stroke="#6fb0d8" stroke-width="0.9" />
<circle cx="137.90" cy="478.44" r="1.2" fill="#2f7f9a"/>
<text x="142.60" y="481.04" font-size="7.6" stroke="#333333" stroke-width="0.14" fill="#333333" textLength="50.0" lengthAdjust="spacingAndGlyphs">R-DXd 10 mg/kg</text>
<polygon points="137.60,491.26 139.20,494.16 136.00,494.16" fill="#e8604c"/>
<text x="142.60" y="495.76" font-size="7.6" stroke="#333333" stroke-width="0.14" fill="#333333" textLength="130.8" lengthAdjust="spacingAndGlyphs">Administration: Carboplatin and paclitaxel</text>
<polygon points="137.60,505.98 139.20,508.88 136.00,508.88" fill="#7fb6e0"/>
<text x="142.60" y="510.48" font-size="7.6" stroke="#333333" stroke-width="0.14" fill="#333333" textLength="69.0" lengthAdjust="spacingAndGlyphs">Administration: R-DXd</text>
<line x1="43.60" y1="609.80" x2="43.60" y2="736.50" stroke="#888" stroke-width="0.8" />
<line x1="41.60" y1="736.50" x2="43.60" y2="736.50" stroke="#888" stroke-width="0.8" />
<text x="41.00" y="738.88" font-size="6.8" stroke="#333333" stroke-width="0.16" text-anchor="end" fill="#333333">−10</text>
<line x1="41.60" y1="718.40" x2="43.60" y2="718.40" stroke="#888" stroke-width="0.8" />
<text x="41.00" y="720.78" font-size="6.8" stroke="#333333" stroke-width="0.16" text-anchor="end" fill="#333333">−5</text>
<line x1="41.60" y1="700.30" x2="43.60" y2="700.30" stroke="#888" stroke-width="0.8" />
<text x="41.00" y="702.68" font-size="6.8" stroke="#333333" stroke-width="0.16" text-anchor="end" fill="#333333">0</text>
<line x1="41.60" y1="682.20" x2="43.60" y2="682.20" stroke="#888" stroke-width="0.8" />
<text x="41.00" y="684.58" font-size="6.8" stroke="#333333" stroke-width="0.16" text-anchor="end" fill="#333333">5</text>
<line x1="41.60" y1="664.10" x2="43.60" y2="664.10" stroke="#888" stroke-width="0.8" />
<text x="41.00" y="666.48" font-size="6.8" stroke="#333333" stroke-width="0.16" text-anchor="end" fill="#333333">10</text>
<line x1="41.60" y1="646.00" x2="43.60" y2="646.00" stroke="#888" stroke-width="0.8" />
<text x="41.00" y="648.38" font-size="6.8" stroke="#333333" stroke-width="0.16" text-anchor="end" fill="#333333">15</text>
<line x1="41.60" y1="627.90" x2="43.60" y2="627.90" stroke="#888" stroke-width="0.8" />
<text x="41.00" y="630.28" font-size="6.8" stroke="#333333" stroke-width="0.16" text-anchor="end" fill="#333333">20</text>
<line x1="41.60" y1="609.80" x2="43.60" y2="609.80" stroke="#888" stroke-width="0.8" />
<text x="41.00" y="612.18" font-size="6.8" stroke="#333333" stroke-width="0.16" text-anchor="end" fill="#333333">25</text>
<line x1="43.60" y1="736.50" x2="314.52" y2="736.50" stroke="#888" stroke-width="0.8" />
<line x1="44.60" y1="736.50" x2="44.60" y2="738.00" stroke="#888" stroke-width="0.8" />
<line x1="54.24" y1="736.50" x2="54.24" y2="738.00" stroke="#888" stroke-width="0.8" />
<line x1="63.88" y1="736.50" x2="63.88" y2="738.00" stroke="#888" stroke-width="0.8" />
<line x1="73.52" y1="736.50" x2="73.52" y2="738.00" stroke="#888" stroke-width="0.8" />
<line x1="83.16" y1="736.50" x2="83.16" y2="738.00" stroke="#888" stroke-width="0.8" />
<line x1="92.80" y1="736.50" x2="92.80" y2="738.00" stroke="#888" stroke-width="0.8" />
<line x1="102.44" y1="736.50" x2="102.44" y2="738.00" stroke="#888" stroke-width="0.8" />
<line x1="112.08" y1="736.50" x2="112.08" y2="738.00" stroke="#888" stroke-width="0.8" />
<line x1="121.72" y1="736.50" x2="121.72" y2="738.00" stroke="#888" stroke-width="0.8" />
<line x1="131.36" y1="736.50" x2="131.36" y2="738.00" stroke="#888" stroke-width="0.8" />
<line x1="141.00" y1="736.50" x2="141.00" y2="738.00" stroke="#888" stroke-width="0.8" />
<line x1="150.64" y1="736.50" x2="150.64" y2="738.00" stroke="#888" stroke-width="0.8" />
<line x1="160.28" y1="736.50" x2="160.28" y2="738.00" stroke="#888" stroke-width="0.8" />
<line x1="169.92" y1="736.50" x2="169.92" y2="738.00" stroke="#888" stroke-width="0.8" />
<line x1="179.56" y1="736.50" x2="179.56" y2="738.00" stroke="#888" stroke-width="0.8" />
<line x1="189.20" y1="736.50" x2="189.20" y2="738.00" stroke="#888" stroke-width="0.8" />
<line x1="198.84" y1="736.50" x2="198.84" y2="738.00" stroke="#888" stroke-width="0.8" />
<line x1="208.48" y1="736.50" x2="208.48" y2="738.00" stroke="#888" stroke-width="0.8" />
<line x1="218.12" y1="736.50" x2="218.12" y2="738.00" stroke="#888" stroke-width="0.8" />
<line x1="227.76" y1="736.50" x2="227.76" y2="738.00" stroke="#888" stroke-width="0.8" />
<line x1="237.40" y1="736.50" x2="237.40" y2="738.00" stroke="#888" stroke-width="0.8" />
<line x1="247.04" y1="736.50" x2="247.04" y2="738.00" stroke="#888" stroke-width="0.8" />
<line x1="256.68" y1="736.50" x2="256.68" y2="738.00" stroke="#888" stroke-width="0.8" />
<line x1="266.32" y1="736.50" x2="266.32" y2="738.00" stroke="#888" stroke-width="0.8" />
<line x1="275.96" y1="736.50" x2="275.96" y2="738.00" stroke="#888" stroke-width="0.8" />
<line x1="285.60" y1="736.50" x2="285.60" y2="738.00" stroke="#888" stroke-width="0.8" />
<line x1="295.24" y1="736.50" x2="295.24" y2="738.00" stroke="#888" stroke-width="0.8" />
<line x1="304.88" y1="736.50" x2="304.88" y2="738.00" stroke="#888" stroke-width="0.8" />
<line x1="314.52" y1="736.50" x2="314.52" y2="738.00" stroke="#888" stroke-width="0.8" />
<text x="46.95" y="740.30" font-size="6.9" stroke="#333333" stroke-width="0.16" text-anchor="end" fill="#333333" transform="rotate(-90 46.95 740.30)">0</text>
<text x="56.59" y="740.30" font-size="6.9" stroke="#333333" stroke-width="0.16" text-anchor="end" fill="#333333" transform="rotate(-90 56.59 740.30)">10</text>
<text x="66.23" y="740.30" font-size="6.9" stroke="#333333" stroke-width="0.16" text-anchor="end" fill="#333333" transform="rotate(-90 66.23 740.30)">20</text>
<text x="75.87" y="740.30" font-size="6.9" stroke="#333333" stroke-width="0.16" text-anchor="end" fill="#333333" transform="rotate(-90 75.87 740.30)">30</text>
<text x="85.51" y="740.30" font-size="6.9" stroke="#333333" stroke-width="0.16" text-anchor="end" fill="#333333" transform="rotate(-90 85.51 740.30)">40</text>
<text x="95.15" y="740.30" font-size="6.9" stroke="#333333" stroke-width="0.16" text-anchor="end" fill="#333333" transform="rotate(-90 95.15 740.30)">50</text>
<text x="104.79" y="740.30" font-size="6.9" stroke="#333333" stroke-width="0.16" text-anchor="end" fill="#333333" transform="rotate(-90 104.79 740.30)">60</text>
<text x="114.43" y="740.30" font-size="6.9" stroke="#333333" stroke-width="0.16" text-anchor="end" fill="#333333" transform="rotate(-90 114.43 740.30)">70</text>
<text x="124.07" y="740.30" font-size="6.9" stroke="#333333" stroke-width="0.16" text-anchor="end" fill="#333333" transform="rotate(-90 124.07 740.30)">80</text>
<text x="133.71" y="740.30" font-size="6.9" stroke="#333333" stroke-width="0.16" text-anchor="end" fill="#333333" transform="rotate(-90 133.71 740.30)">90</text>
<text x="143.35" y="740.30" font-size="6.9" stroke="#333333" stroke-width="0.16" text-anchor="end" fill="#333333" transform="rotate(-90 143.35 740.30)">100</text>
<text x="152.99" y="740.30" font-size="6.9" stroke="#333333" stroke-width="0.16" text-anchor="end" fill="#333333" transform="rotate(-90 152.99 740.30)">110</text>
<text x="162.63" y="740.30" font-size="6.9" stroke="#333333" stroke-width="0.16" text-anchor="end" fill="#333333" transform="rotate(-90 162.63 740.30)">120</text>
<text x="172.27" y="740.30" font-size="6.9" stroke="#333333" stroke-width="0.16" text-anchor="end" fill="#333333" transform="rotate(-90 172.27 740.30)">130</text>
<text x="181.91" y="740.30" font-size="6.9" stroke="#333333" stroke-width="0.16" text-anchor="end" fill="#333333" transform="rotate(-90 181.91 740.30)">140</text>
<text x="191.55" y="740.30" font-size="6.9" stroke="#333333" stroke-width="0.16" text-anchor="end" fill="#333333" transform="rotate(-90 191.55 740.30)">150</text>
<text x="201.19" y="740.30" font-size="6.9" stroke="#333333" stroke-width="0.16" text-anchor="end" fill="#333333" transform="rotate(-90 201.19 740.30)">160</text>
<text x="210.83" y="740.30" font-size="6.9" stroke="#333333" stroke-width="0.16" text-anchor="end" fill="#333333" transform="rotate(-90 210.83 740.30)">170</text>
<text x="220.47" y="740.30" font-size="6.9" stroke="#333333" stroke-width="0.16" text-anchor="end" fill="#333333" transform="rotate(-90 220.47 740.30)">180</text>
<text x="230.11" y="740.30" font-size="6.9" stroke="#333333" stroke-width="0.16" text-anchor="end" fill="#333333" transform="rotate(-90 230.11 740.30)">190</text>
<text x="239.75" y="740.30" font-size="6.9" stroke="#333333" stroke-width="0.16" text-anchor="end" fill="#333333" transform="rotate(-90 239.75 740.30)">200</text>
<text x="249.39" y="740.30" font-size="6.9" stroke="#333333" stroke-width="0.16" text-anchor="end" fill="#333333" transform="rotate(-90 249.39 740.30)">210</text>
<text x="259.03" y="740.30" font-size="6.9" stroke="#333333" stroke-width="0.16" text-anchor="end" fill="#333333" transform="rotate(-90 259.03 740.30)">220</text>
<text x="268.67" y="740.30" font-size="6.9" stroke="#333333" stroke-width="0.16" text-anchor="end" fill="#333333" transform="rotate(-90 268.67 740.30)">230</text>
<text x="278.31" y="740.30" font-size="6.9" stroke="#333333" stroke-width="0.16" text-anchor="end" fill="#333333" transform="rotate(-90 278.31 740.30)">240</text>
<text x="287.95" y="740.30" font-size="6.9" stroke="#333333" stroke-width="0.16" text-anchor="end" fill="#333333" transform="rotate(-90 287.95 740.30)">250</text>
<text x="297.59" y="740.30" font-size="6.9" stroke="#333333" stroke-width="0.16" text-anchor="end" fill="#333333" transform="rotate(-90 297.59 740.30)">260</text>
<text x="307.23" y="740.30" font-size="6.9" stroke="#333333" stroke-width="0.16" text-anchor="end" fill="#333333" transform="rotate(-90 307.23 740.30)">270</text>
<text x="316.87" y="740.30" font-size="6.9" stroke="#333333" stroke-width="0.16" text-anchor="end" fill="#333333" transform="rotate(-90 316.87 740.30)">280</text>
<text x="159.20" y="761.70" font-size="7.0" stroke="#333333" stroke-width="0.16" text-anchor="middle" fill="#333333">Day</text>
<text x="23.80" y="673.00" font-size="6.6" stroke="#333333" stroke-width="0.16" text-anchor="middle" fill="#333333" textLength="75.2" lengthAdjust="spacingAndGlyphs" transform="rotate(-90 23.80 673.00)">Body weight change (%)</text>
<line x1="46.80" y1="701.54" x2="46.80" y2="713.54" stroke="#8c8c8c" stroke-width="0.65" />
<line x1="45.90" y1="701.54" x2="47.70" y2="701.54" stroke="#8c8c8c" stroke-width="0.65" />
<line x1="45.90" y1="713.54" x2="47.70" y2="713.54" stroke="#8c8c8c" stroke-width="0.65" />
<line x1="49.80" y1="700.45" x2="49.80" y2="712.45" stroke="#8c8c8c" stroke-width="0.65" />
<line x1="48.90" y1="700.45" x2="50.70" y2="700.45" stroke="#8c8c8c" stroke-width="0.65" />
<line x1="48.90" y1="712.45" x2="50.70" y2="712.45" stroke="#8c8c8c" stroke-width="0.65" />
<line x1="53.30" y1="709.50" x2="53.30" y2="721.50" stroke="#8c8c8c" stroke-width="0.65" />
<line x1="52.40" y1="709.50" x2="54.20" y2="709.50" stroke="#8c8c8c" stroke-width="0.65" />
<line x1="52.40" y1="721.50" x2="54.20" y2="721.50" stroke="#8c8c8c" stroke-width="0.65" />
<line x1="56.30" y1="688.51" x2="56.30" y2="700.51" stroke="#8c8c8c" stroke-width="0.65" />
<line x1="55.40" y1="688.51" x2="57.20" y2="688.51" stroke="#8c8c8c" stroke-width="0.65" />
<line x1="55.40" y1="700.51" x2="57.20" y2="700.51" stroke="#8c8c8c" stroke-width="0.65" />
<line x1="59.50" y1="694.30" x2="59.50" y2="706.30" stroke="#8c8c8c" stroke-width="0.65" />
<line x1="58.60" y1="694.30" x2="60.40" y2="694.30" stroke="#8c8c8c" stroke-width="0.65" />
<line x1="58.60" y1="706.30" x2="60.40" y2="706.30" stroke="#8c8c8c" stroke-width="0.65" />
<line x1="62.90" y1="690.68" x2="62.90" y2="702.68" stroke="#8c8c8c" stroke-width="0.65" />
<line x1="62.00" y1="690.68" x2="63.80" y2="690.68" stroke="#8c8c8c" stroke-width="0.65" />
<line x1="62.00" y1="702.68" x2="63.80" y2="702.68" stroke="#8c8c8c" stroke-width="0.65" />
<line x1="66.60" y1="691.40" x2="66.60" y2="703.40" stroke="#8c8c8c" stroke-width="0.65" />
<line x1="65.70" y1="691.40" x2="67.50" y2="691.40" stroke="#8c8c8c" stroke-width="0.65" />
<line x1="65.70" y1="703.40" x2="67.50" y2="703.40" stroke="#8c8c8c" stroke-width="0.65" />
<line x1="69.80" y1="685.25" x2="69.80" y2="697.25" stroke="#8c8c8c" stroke-width="0.65" />
<line x1="68.90" y1="685.25" x2="70.70" y2="685.25" stroke="#8c8c8c" stroke-width="0.65" />
<line x1="68.90" y1="697.25" x2="70.70" y2="697.25" stroke="#8c8c8c" stroke-width="0.65" />
<line x1="73.70" y1="680.91" x2="73.70" y2="692.91" stroke="#8c8c8c" stroke-width="0.65" />
<line x1="72.80" y1="680.91" x2="74.60" y2="680.91" stroke="#8c8c8c" stroke-width="0.65" />
<line x1="72.80" y1="692.91" x2="74.60" y2="692.91" stroke="#8c8c8c" stroke-width="0.65" />
<line x1="77.30" y1="671.86" x2="77.30" y2="683.86" stroke="#8c8c8c" stroke-width="0.65" />
<line x1="76.40" y1="671.86" x2="78.20" y2="671.86" stroke="#8c8c8c" stroke-width="0.65" />
<line x1="76.40" y1="683.86" x2="78.20" y2="683.86" stroke="#8c8c8c" stroke-width="0.65" />
<line x1="80.60" y1="679.82" x2="80.60" y2="691.82" stroke="#8c8c8c" stroke-width="0.65" />
<line x1="79.70" y1="679.82" x2="81.50" y2="679.82" stroke="#8c8c8c" stroke-width="0.65" />
<line x1="79.70" y1="691.82" x2="81.50" y2="691.82" stroke="#8c8c8c" stroke-width="0.65" />
<line x1="83.40" y1="676.20" x2="83.40" y2="688.20" stroke="#8c8c8c" stroke-width="0.65" />
<line x1="82.50" y1="676.20" x2="84.30" y2="676.20" stroke="#8c8c8c" stroke-width="0.65" />
<line x1="82.50" y1="688.20" x2="84.30" y2="688.20" stroke="#8c8c8c" stroke-width="0.65" />
<line x1="86.40" y1="664.62" x2="86.40" y2="676.62" stroke="#8c8c8c" stroke-width="0.65" />
<line x1="85.50" y1="664.62" x2="87.30" y2="664.62" stroke="#8c8c8c" stroke-width="0.65" />
<line x1="85.50" y1="676.62" x2="87.30" y2="676.62" stroke="#8c8c8c" stroke-width="0.65" />
<line x1="90.20" y1="666.79" x2="90.20" y2="678.79" stroke="#8c8c8c" stroke-width="0.65" />
<line x1="89.30" y1="666.79" x2="91.10" y2="666.79" stroke="#8c8c8c" stroke-width="0.65" />
<line x1="89.30" y1="678.79" x2="91.10" y2="678.79" stroke="#8c8c8c" stroke-width="0.65" />
<line x1="93.50" y1="681.27" x2="93.50" y2="693.27" stroke="#8c8c8c" stroke-width="0.65" />
<line x1="92.60" y1="681.27" x2="94.40" y2="681.27" stroke="#8c8c8c" stroke-width="0.65" />
<line x1="92.60" y1="693.27" x2="94.40" y2="693.27" stroke="#8c8c8c" stroke-width="0.65" />
<line x1="96.90" y1="661.00" x2="96.90" y2="673.00" stroke="#8c8c8c" stroke-width="0.65" />
<line x1="96.00" y1="661.00" x2="97.80" y2="661.00" stroke="#8c8c8c" stroke-width="0.65" />
<line x1="96.00" y1="673.00" x2="97.80" y2="673.00" stroke="#8c8c8c" stroke-width="0.65" />
<line x1="101.10" y1="651.22" x2="101.10" y2="663.22" stroke="#8c8c8c" stroke-width="0.65" />
<line x1="100.20" y1="651.22" x2="102.00" y2="651.22" stroke="#8c8c8c" stroke-width="0.65" />
<line x1="100.20" y1="663.22" x2="102.00" y2="663.22" stroke="#8c8c8c" stroke-width="0.65" />
<line x1="105.70" y1="654.48" x2="105.70" y2="666.48" stroke="#8c8c8c" stroke-width="0.65" />
<line x1="104.80" y1="654.48" x2="106.60" y2="654.48" stroke="#8c8c8c" stroke-width="0.65" />
<line x1="104.80" y1="666.48" x2="106.60" y2="666.48" stroke="#8c8c8c" stroke-width="0.65" />
<line x1="108.00" y1="661.00" x2="108.00" y2="673.00" stroke="#8c8c8c" stroke-width="0.65" />
<line x1="107.10" y1="661.00" x2="108.90" y2="661.00" stroke="#8c8c8c" stroke-width="0.65" />
<line x1="107.10" y1="673.00" x2="108.90" y2="673.00" stroke="#8c8c8c" stroke-width="0.65" />
<line x1="110.80" y1="664.62" x2="110.80" y2="676.62" stroke="#8c8c8c" stroke-width="0.65" />
<line x1="109.90" y1="664.62" x2="111.70" y2="664.62" stroke="#8c8c8c" stroke-width="0.65" />
<line x1="109.90" y1="676.62" x2="111.70" y2="676.62" stroke="#8c8c8c" stroke-width="0.65" />
<line x1="113.50" y1="666.06" x2="113.50" y2="678.06" stroke="#8c8c8c" stroke-width="0.65" />
<line x1="112.60" y1="666.06" x2="114.40" y2="666.06" stroke="#8c8c8c" stroke-width="0.65" />
<line x1="112.60" y1="678.06" x2="114.40" y2="678.06" stroke="#8c8c8c" stroke-width="0.65" />
<line x1="117.20" y1="652.67" x2="117.20" y2="664.67" stroke="#8c8c8c" stroke-width="0.65" />
<line x1="116.30" y1="652.67" x2="118.10" y2="652.67" stroke="#8c8c8c" stroke-width="0.65" />
<line x1="116.30" y1="664.67" x2="118.10" y2="664.67" stroke="#8c8c8c" stroke-width="0.65" />
<line x1="120.70" y1="642.17" x2="120.70" y2="654.17" stroke="#8c8c8c" stroke-width="0.65" />
<line x1="119.80" y1="642.17" x2="121.60" y2="642.17" stroke="#8c8c8c" stroke-width="0.65" />
<line x1="119.80" y1="654.17" x2="121.60" y2="654.17" stroke="#8c8c8c" stroke-width="0.65" />
<line x1="124.60" y1="645.07" x2="124.60" y2="657.07" stroke="#8c8c8c" stroke-width="0.65" />
<line x1="123.70" y1="645.07" x2="125.50" y2="645.07" stroke="#8c8c8c" stroke-width="0.65" />
<line x1="123.70" y1="657.07" x2="125.50" y2="657.07" stroke="#8c8c8c" stroke-width="0.65" />
<line x1="128.10" y1="652.31" x2="128.10" y2="664.31" stroke="#8c8c8c" stroke-width="0.65" />
<line x1="127.20" y1="652.31" x2="129.00" y2="652.31" stroke="#8c8c8c" stroke-width="0.65" />
<line x1="127.20" y1="664.31" x2="129.00" y2="664.31" stroke="#8c8c8c" stroke-width="0.65" />
<line x1="131.10" y1="653.39" x2="131.10" y2="665.39" stroke="#8c8c8c" stroke-width="0.65" />
<line x1="130.20" y1="653.39" x2="132.00" y2="653.39" stroke="#8c8c8c" stroke-width="0.65" />
<line x1="130.20" y1="665.39" x2="132.00" y2="665.39" stroke="#8c8c8c" stroke-width="0.65" />
<line x1="133.80" y1="656.29" x2="133.80" y2="668.29" stroke="#8c8c8c" stroke-width="0.65" />
<line x1="132.90" y1="656.29" x2="134.70" y2="656.29" stroke="#8c8c8c" stroke-width="0.65" />
<line x1="132.90" y1="668.29" x2="134.70" y2="668.29" stroke="#8c8c8c" stroke-width="0.65" />
<line x1="138.50" y1="639.64" x2="138.50" y2="651.64" stroke="#8c8c8c" stroke-width="0.65" />
<line x1="137.60" y1="639.64" x2="139.40" y2="639.64" stroke="#8c8c8c" stroke-width="0.65" />
<line x1="137.60" y1="651.64" x2="139.40" y2="651.64" stroke="#8c8c8c" stroke-width="0.65" />
<line x1="141.90" y1="631.67" x2="141.90" y2="643.67" stroke="#8c8c8c" stroke-width="0.65" />
<line x1="141.00" y1="631.67" x2="142.80" y2="631.67" stroke="#8c8c8c" stroke-width="0.65" />
<line x1="141.00" y1="643.67" x2="142.80" y2="643.67" stroke="#8c8c8c" stroke-width="0.65" />
<line x1="145.40" y1="637.83" x2="145.40" y2="649.83" stroke="#8c8c8c" stroke-width="0.65" />
<line x1="144.50" y1="637.83" x2="146.30" y2="637.83" stroke="#8c8c8c" stroke-width="0.65" />
<line x1="144.50" y1="649.83" x2="146.30" y2="649.83" stroke="#8c8c8c" stroke-width="0.65" />
<line x1="147.70" y1="655.93" x2="147.70" y2="667.93" stroke="#8c8c8c" stroke-width="0.65" />
<line x1="146.80" y1="655.93" x2="148.60" y2="655.93" stroke="#8c8c8c" stroke-width="0.65" />
<line x1="146.80" y1="667.93" x2="148.60" y2="667.93" stroke="#8c8c8c" stroke-width="0.65" />
<line x1="151.20" y1="653.76" x2="151.20" y2="665.76" stroke="#8c8c8c" stroke-width="0.65" />
<line x1="150.30" y1="653.76" x2="152.10" y2="653.76" stroke="#8c8c8c" stroke-width="0.65" />
<line x1="150.30" y1="665.76" x2="152.10" y2="665.76" stroke="#8c8c8c" stroke-width="0.65" />
<line x1="154.20" y1="642.53" x2="154.20" y2="654.53" stroke="#8c8c8c" stroke-width="0.65" />
<line x1="153.30" y1="642.53" x2="155.10" y2="642.53" stroke="#8c8c8c" stroke-width="0.65" />
<line x1="153.30" y1="654.53" x2="155.10" y2="654.53" stroke="#8c8c8c" stroke-width="0.65" />
<line x1="159.20" y1="636.74" x2="159.20" y2="648.74" stroke="#8c8c8c" stroke-width="0.65" />
<line x1="158.30" y1="636.74" x2="160.10" y2="636.74" stroke="#8c8c8c" stroke-width="0.65" />
<line x1="158.30" y1="648.74" x2="160.10" y2="648.74" stroke="#8c8c8c" stroke-width="0.65" />
<line x1="162.70" y1="630.59" x2="162.70" y2="642.59" stroke="#8c8c8c" stroke-width="0.65" />
<line x1="161.80" y1="630.59" x2="163.60" y2="630.59" stroke="#8c8c8c" stroke-width="0.65" />
<line x1="161.80" y1="642.59" x2="163.60" y2="642.59" stroke="#8c8c8c" stroke-width="0.65" />
<line x1="165.00" y1="634.21" x2="165.00" y2="646.21" stroke="#8c8c8c" stroke-width="0.65" />
<line x1="164.10" y1="634.21" x2="165.90" y2="634.21" stroke="#8c8c8c" stroke-width="0.65" />
<line x1="164.10" y1="646.21" x2="165.90" y2="646.21" stroke="#8c8c8c" stroke-width="0.65" />
<line x1="167.30" y1="642.53" x2="167.30" y2="654.53" stroke="#8c8c8c" stroke-width="0.65" />
<line x1="166.40" y1="642.53" x2="168.20" y2="642.53" stroke="#8c8c8c" stroke-width="0.65" />
<line x1="166.40" y1="654.53" x2="168.20" y2="654.53" stroke="#8c8c8c" stroke-width="0.65" />
<line x1="171.90" y1="655.93" x2="171.90" y2="667.93" stroke="#8c8c8c" stroke-width="0.65" />
<line x1="171.00" y1="655.93" x2="172.80" y2="655.93" stroke="#8c8c8c" stroke-width="0.65" />
<line x1="171.00" y1="667.93" x2="172.80" y2="667.93" stroke="#8c8c8c" stroke-width="0.65" />
<line x1="174.90" y1="641.45" x2="174.90" y2="653.45" stroke="#8c8c8c" stroke-width="0.65" />
<line x1="174.00" y1="641.45" x2="175.80" y2="641.45" stroke="#8c8c8c" stroke-width="0.65" />
<line x1="174.00" y1="653.45" x2="175.80" y2="653.45" stroke="#8c8c8c" stroke-width="0.65" />
<line x1="178.80" y1="625.88" x2="178.80" y2="637.88" stroke="#8c8c8c" stroke-width="0.65" />
<line x1="177.90" y1="625.88" x2="179.70" y2="625.88" stroke="#8c8c8c" stroke-width="0.65" />
<line x1="177.90" y1="637.88" x2="179.70" y2="637.88" stroke="#8c8c8c" stroke-width="0.65" />
<line x1="182.30" y1="629.86" x2="182.30" y2="641.86" stroke="#8c8c8c" stroke-width="0.65" />
<line x1="181.40" y1="629.86" x2="183.20" y2="629.86" stroke="#8c8c8c" stroke-width="0.65" />
<line x1="181.40" y1="641.86" x2="183.20" y2="641.86" stroke="#8c8c8c" stroke-width="0.65" />
<line x1="186.50" y1="637.83" x2="186.50" y2="649.83" stroke="#8c8c8c" stroke-width="0.65" />
<line x1="185.60" y1="637.83" x2="187.40" y2="637.83" stroke="#8c8c8c" stroke-width="0.65" />
<line x1="185.60" y1="649.83" x2="187.40" y2="649.83" stroke="#8c8c8c" stroke-width="0.65" />
<line x1="188.80" y1="641.45" x2="188.80" y2="653.45" stroke="#8c8c8c" stroke-width="0.65" />
<line x1="187.90" y1="641.45" x2="189.70" y2="641.45" stroke="#8c8c8c" stroke-width="0.65" />
<line x1="187.90" y1="653.45" x2="189.70" y2="653.45" stroke="#8c8c8c" stroke-width="0.65" />
<line x1="191.50" y1="637.47" x2="191.50" y2="649.47" stroke="#8c8c8c" stroke-width="0.65" />
<line x1="190.60" y1="637.47" x2="192.40" y2="637.47" stroke="#8c8c8c" stroke-width="0.65" />
<line x1="190.60" y1="649.47" x2="192.40" y2="649.47" stroke="#8c8c8c" stroke-width="0.65" />
<line x1="195.00" y1="639.28" x2="195.00" y2="651.28" stroke="#8c8c8c" stroke-width="0.65" />
<line x1="194.10" y1="639.28" x2="195.90" y2="639.28" stroke="#8c8c8c" stroke-width="0.65" />
<line x1="194.10" y1="651.28" x2="195.90" y2="651.28" stroke="#8c8c8c" stroke-width="0.65" />
<line x1="198.90" y1="622.26" x2="198.90" y2="634.26" stroke="#8c8c8c" stroke-width="0.65" />
<line x1="198.00" y1="622.26" x2="199.80" y2="622.26" stroke="#8c8c8c" stroke-width="0.65" />
<line x1="198.00" y1="634.26" x2="199.80" y2="634.26" stroke="#8c8c8c" stroke-width="0.65" />
<line x1="201.90" y1="625.16" x2="201.90" y2="637.16" stroke="#8c8c8c" stroke-width="0.65" />
<line x1="201.00" y1="625.16" x2="202.80" y2="625.16" stroke="#8c8c8c" stroke-width="0.65" />
<line x1="201.00" y1="637.16" x2="202.80" y2="637.16" stroke="#8c8c8c" stroke-width="0.65" />
<line x1="205.50" y1="641.45" x2="205.50" y2="653.45" stroke="#8c8c8c" stroke-width="0.65" />
<line x1="204.60" y1="641.45" x2="206.40" y2="641.45" stroke="#8c8c8c" stroke-width="0.65" />
<line x1="204.60" y1="653.45" x2="206.40" y2="653.45" stroke="#8c8c8c" stroke-width="0.65" />
<line x1="208.75" y1="640.36" x2="208.75" y2="652.36" stroke="#8c8c8c" stroke-width="0.65" />
<line x1="207.85" y1="640.36" x2="209.65" y2="640.36" stroke="#8c8c8c" stroke-width="0.65" />
<line x1="207.85" y1="652.36" x2="209.65" y2="652.36" stroke="#8c8c8c" stroke-width="0.65" />
<line x1="212.00" y1="637.83" x2="212.00" y2="649.83" stroke="#8c8c8c" stroke-width="0.65" />
<line x1="211.10" y1="637.83" x2="212.90" y2="637.83" stroke="#8c8c8c" stroke-width="0.65" />
<line x1="211.10" y1="649.83" x2="212.90" y2="649.83" stroke="#8c8c8c" stroke-width="0.65" />
<line x1="215.50" y1="631.67" x2="215.50" y2="643.67" stroke="#8c8c8c" stroke-width="0.65" />
<line x1="214.60" y1="631.67" x2="216.40" y2="631.67" stroke="#8c8c8c" stroke-width="0.65" />
<line x1="214.60" y1="643.67" x2="216.40" y2="643.67" stroke="#8c8c8c" stroke-width="0.65" />
<line x1="218.75" y1="633.48" x2="218.75" y2="645.48" stroke="#8c8c8c" stroke-width="0.65" />
<line x1="217.85" y1="633.48" x2="219.65" y2="633.48" stroke="#8c8c8c" stroke-width="0.65" />
<line x1="217.85" y1="645.48" x2="219.65" y2="645.48" stroke="#8c8c8c" stroke-width="0.65" />
<line x1="222.50" y1="627.69" x2="222.50" y2="639.69" stroke="#8c8c8c" stroke-width="0.65" />
<line x1="221.60" y1="627.69" x2="223.40" y2="627.69" stroke="#8c8c8c" stroke-width="0.65" />
<line x1="221.60" y1="639.69" x2="223.40" y2="639.69" stroke="#8c8c8c" stroke-width="0.65" />
<line x1="225.50" y1="630.95" x2="225.50" y2="642.95" stroke="#8c8c8c" stroke-width="0.65" />
<line x1="224.60" y1="630.95" x2="226.40" y2="630.95" stroke="#8c8c8c" stroke-width="0.65" />
<line x1="224.60" y1="642.95" x2="226.40" y2="642.95" stroke="#8c8c8c" stroke-width="0.65" />
<line x1="227.50" y1="637.10" x2="227.50" y2="649.10" stroke="#8c8c8c" stroke-width="0.65" />
<line x1="226.60" y1="637.10" x2="228.40" y2="637.10" stroke="#8c8c8c" stroke-width="0.65" />
<line x1="226.60" y1="649.10" x2="228.40" y2="649.10" stroke="#8c8c8c" stroke-width="0.65" />
<line x1="230.00" y1="662.08" x2="230.00" y2="674.08" stroke="#8c8c8c" stroke-width="0.65" />
<line x1="229.10" y1="662.08" x2="230.90" y2="662.08" stroke="#8c8c8c" stroke-width="0.65" />
<line x1="229.10" y1="674.08" x2="230.90" y2="674.08" stroke="#8c8c8c" stroke-width="0.65" />
<line x1="233.75" y1="650.14" x2="233.75" y2="662.14" stroke="#8c8c8c" stroke-width="0.65" />
<line x1="232.85" y1="650.14" x2="234.65" y2="650.14" stroke="#8c8c8c" stroke-width="0.65" />
<line x1="232.85" y1="662.14" x2="234.65" y2="662.14" stroke="#8c8c8c" stroke-width="0.65" />
<line x1="237.00" y1="646.88" x2="237.00" y2="658.88" stroke="#8c8c8c" stroke-width="0.65" />
<line x1="236.10" y1="646.88" x2="237.90" y2="646.88" stroke="#8c8c8c" stroke-width="0.65" />
<line x1="236.10" y1="658.88" x2="237.90" y2="658.88" stroke="#8c8c8c" stroke-width="0.65" />
<line x1="247.00" y1="613.57" x2="247.00" y2="625.57" stroke="#8c8c8c" stroke-width="0.65" />
<line x1="246.10" y1="613.57" x2="247.90" y2="613.57" stroke="#8c8c8c" stroke-width="0.65" />
<line x1="246.10" y1="625.57" x2="247.90" y2="625.57" stroke="#8c8c8c" stroke-width="0.65" />
<line x1="247.00" y1="613.07" x2="247.00" y2="626.07" stroke="#8c8c8c" stroke-width="0.65" />
<line x1="246.10" y1="613.07" x2="247.90" y2="613.07" stroke="#8c8c8c" stroke-width="0.65" />
<line x1="246.10" y1="626.07" x2="247.90" y2="626.07" stroke="#8c8c8c" stroke-width="0.65" />
<line x1="250.00" y1="633.35" x2="250.00" y2="646.35" stroke="#8c8c8c" stroke-width="0.65" />
<line x1="249.10" y1="633.35" x2="250.90" y2="633.35" stroke="#8c8c8c" stroke-width="0.65" />
<line x1="249.10" y1="646.35" x2="250.90" y2="646.35" stroke="#8c8c8c" stroke-width="0.65" />
<line x1="253.75" y1="627.92" x2="253.75" y2="640.92" stroke="#8c8c8c" stroke-width="0.65" />
<line x1="252.85" y1="627.92" x2="254.65" y2="627.92" stroke="#8c8c8c" stroke-width="0.65" />
<line x1="252.85" y1="640.92" x2="254.65" y2="640.92" stroke="#8c8c8c" stroke-width="0.65" />
<line x1="256.25" y1="640.59" x2="256.25" y2="653.59" stroke="#8c8c8c" stroke-width="0.65" />
<line x1="255.35" y1="640.59" x2="257.15" y2="640.59" stroke="#8c8c8c" stroke-width="0.65" />
<line x1="255.35" y1="653.59" x2="257.15" y2="653.59" stroke="#8c8c8c" stroke-width="0.65" />
<line x1="259.50" y1="638.41" x2="259.50" y2="651.41" stroke="#8c8c8c" stroke-width="0.65" />
<line x1="258.60" y1="638.41" x2="260.40" y2="638.41" stroke="#8c8c8c" stroke-width="0.65" />
<line x1="258.60" y1="651.41" x2="260.40" y2="651.41" stroke="#8c8c8c" stroke-width="0.65" />
<line x1="263.00" y1="626.47" x2="263.00" y2="639.47" stroke="#8c8c8c" stroke-width="0.65" />
<line x1="262.10" y1="626.47" x2="263.90" y2="626.47" stroke="#8c8c8c" stroke-width="0.65" />
<line x1="262.10" y1="639.47" x2="263.90" y2="639.47" stroke="#8c8c8c" stroke-width="0.65" />
<line x1="267.00" y1="631.90" x2="267.00" y2="644.90" stroke="#8c8c8c" stroke-width="0.65" />
<line x1="266.10" y1="631.90" x2="267.90" y2="631.90" stroke="#8c8c8c" stroke-width="0.65" />
<line x1="266.10" y1="644.90" x2="267.90" y2="644.90" stroke="#8c8c8c" stroke-width="0.65" />
<line x1="270.50" y1="636.60" x2="270.50" y2="649.60" stroke="#8c8c8c" stroke-width="0.65" />
<line x1="269.60" y1="636.60" x2="271.40" y2="636.60" stroke="#8c8c8c" stroke-width="0.65" />
<line x1="269.60" y1="649.60" x2="271.40" y2="649.60" stroke="#8c8c8c" stroke-width="0.65" />
<line x1="273.75" y1="637.33" x2="273.75" y2="650.33" stroke="#8c8c8c" stroke-width="0.65" />
<line x1="272.85" y1="637.33" x2="274.65" y2="637.33" stroke="#8c8c8c" stroke-width="0.65" />
<line x1="272.85" y1="650.33" x2="274.65" y2="650.33" stroke="#8c8c8c" stroke-width="0.65" />
<line x1="276.25" y1="633.71" x2="276.25" y2="646.71" stroke="#8c8c8c" stroke-width="0.65" />
<line x1="275.35" y1="633.71" x2="277.15" y2="633.71" stroke="#8c8c8c" stroke-width="0.65" />
<line x1="275.35" y1="646.71" x2="277.15" y2="646.71" stroke="#8c8c8c" stroke-width="0.65" />
<line x1="281.25" y1="626.11" x2="281.25" y2="639.11" stroke="#8c8c8c" stroke-width="0.65" />
<line x1="280.35" y1="626.11" x2="282.15" y2="626.11" stroke="#8c8c8c" stroke-width="0.65" />
<line x1="280.35" y1="639.11" x2="282.15" y2="639.11" stroke="#8c8c8c" stroke-width="0.65" />
<line x1="284.50" y1="628.64" x2="284.50" y2="641.64" stroke="#8c8c8c" stroke-width="0.65" />
<line x1="283.60" y1="628.64" x2="285.40" y2="628.64" stroke="#8c8c8c" stroke-width="0.65" />
<line x1="283.60" y1="641.64" x2="285.40" y2="641.64" stroke="#8c8c8c" stroke-width="0.65" />
<line x1="288.00" y1="639.86" x2="288.00" y2="652.86" stroke="#8c8c8c" stroke-width="0.65" />
<line x1="287.10" y1="639.86" x2="288.90" y2="639.86" stroke="#8c8c8c" stroke-width="0.65" />
<line x1="287.10" y1="652.86" x2="288.90" y2="652.86" stroke="#8c8c8c" stroke-width="0.65" />
<line x1="291.25" y1="639.86" x2="291.25" y2="652.86" stroke="#8c8c8c" stroke-width="0.65" />
<line x1="290.35" y1="639.86" x2="292.15" y2="639.86" stroke="#8c8c8c" stroke-width="0.65" />
<line x1="290.35" y1="652.86" x2="292.15" y2="652.86" stroke="#8c8c8c" stroke-width="0.65" />
<line x1="294.50" y1="634.07" x2="294.50" y2="647.07" stroke="#8c8c8c" stroke-width="0.65" />
<line x1="293.60" y1="634.07" x2="295.40" y2="634.07" stroke="#8c8c8c" stroke-width="0.65" />
<line x1="293.60" y1="647.07" x2="295.40" y2="647.07" stroke="#8c8c8c" stroke-width="0.65" />
<line x1="297.50" y1="631.17" x2="297.50" y2="644.17" stroke="#8c8c8c" stroke-width="0.65" />
<line x1="296.60" y1="631.17" x2="298.40" y2="631.17" stroke="#8c8c8c" stroke-width="0.65" />
<line x1="296.60" y1="644.17" x2="298.40" y2="644.17" stroke="#8c8c8c" stroke-width="0.65" />
<line x1="300.50" y1="638.78" x2="300.50" y2="651.78" stroke="#8c8c8c" stroke-width="0.65" />
<line x1="299.60" y1="638.78" x2="301.40" y2="638.78" stroke="#8c8c8c" stroke-width="0.65" />
<line x1="299.60" y1="651.78" x2="301.40" y2="651.78" stroke="#8c8c8c" stroke-width="0.65" />
<line x1="303.75" y1="628.64" x2="303.75" y2="641.64" stroke="#8c8c8c" stroke-width="0.65" />
<line x1="302.85" y1="628.64" x2="304.65" y2="628.64" stroke="#8c8c8c" stroke-width="0.65" />
<line x1="302.85" y1="641.64" x2="304.65" y2="641.64" stroke="#8c8c8c" stroke-width="0.65" />
<line x1="308.00" y1="629.73" x2="308.00" y2="642.73" stroke="#8c8c8c" stroke-width="0.65" />
<line x1="307.10" y1="629.73" x2="308.90" y2="629.73" stroke="#8c8c8c" stroke-width="0.65" />
<line x1="307.10" y1="642.73" x2="308.90" y2="642.73" stroke="#8c8c8c" stroke-width="0.65" />
<line x1="46.80" y1="694.71" x2="46.80" y2="703.71" stroke="#8c8c8c" stroke-width="0.65" />
<line x1="45.90" y1="694.71" x2="47.70" y2="694.71" stroke="#8c8c8c" stroke-width="0.65" />
<line x1="45.90" y1="703.71" x2="47.70" y2="703.71" stroke="#8c8c8c" stroke-width="0.65" />
<line x1="49.80" y1="692.18" x2="49.80" y2="701.18" stroke="#8c8c8c" stroke-width="0.65" />
<line x1="48.90" y1="692.18" x2="50.70" y2="692.18" stroke="#8c8c8c" stroke-width="0.65" />
<line x1="48.90" y1="701.18" x2="50.70" y2="701.18" stroke="#8c8c8c" stroke-width="0.65" />
<line x1="53.30" y1="703.04" x2="53.30" y2="712.04" stroke="#8c8c8c" stroke-width="0.65" />
<line x1="52.40" y1="703.04" x2="54.20" y2="703.04" stroke="#8c8c8c" stroke-width="0.65" />
<line x1="52.40" y1="712.04" x2="54.20" y2="712.04" stroke="#8c8c8c" stroke-width="0.65" />
<line x1="56.30" y1="686.75" x2="56.30" y2="695.75" stroke="#8c8c8c" stroke-width="0.65" />
<line x1="55.40" y1="686.75" x2="57.20" y2="686.75" stroke="#8c8c8c" stroke-width="0.65" />
<line x1="55.40" y1="695.75" x2="57.20" y2="695.75" stroke="#8c8c8c" stroke-width="0.65" />
<line x1="59.50" y1="686.75" x2="59.50" y2="695.75" stroke="#8c8c8c" stroke-width="0.65" />
<line x1="58.60" y1="686.75" x2="60.40" y2="686.75" stroke="#8c8c8c" stroke-width="0.65" />
<line x1="58.60" y1="695.75" x2="60.40" y2="695.75" stroke="#8c8c8c" stroke-width="0.65" />
<line x1="62.90" y1="671.91" x2="62.90" y2="680.91" stroke="#8c8c8c" stroke-width="0.65" />
<line x1="62.00" y1="671.91" x2="63.80" y2="671.91" stroke="#8c8c8c" stroke-width="0.65" />
<line x1="62.00" y1="680.91" x2="63.80" y2="680.91" stroke="#8c8c8c" stroke-width="0.65" />
<polyline points="43.60,700.30 46.80,707.54 49.80,706.45 53.30,715.50 56.30,694.51 59.50,700.30 62.90,696.68 66.60,697.40 69.80,691.25 73.70,686.91 77.30,677.86 80.60,685.82 83.40,682.20 86.40,670.62 90.20,672.79 93.50,687.27 96.90,667.00 101.10,657.22 105.70,660.48 108.00,667.00 110.80,670.62 113.50,672.06 117.20,658.67 120.70,648.17 124.60,651.07 128.10,658.31 131.10,659.39 133.80,662.29 138.50,645.64 141.90,637.67 145.40,643.83 147.70,661.93 151.20,659.76 154.20,648.53 159.20,642.74 162.70,636.59 165.00,640.21 167.30,648.53 171.90,661.93 174.90,647.45 178.80,631.88 182.30,635.86 186.50,643.83 188.80,647.45 191.50,643.47 195.00,645.28 198.90,628.26 201.90,631.16 205.50,647.45 208.75,646.36 212.00,643.83 215.50,637.67 218.75,639.48 222.50,633.69 225.50,636.95 227.50,643.10 230.00,668.08 233.75,656.14 237.00,652.88 247.00,619.57" fill="none" stroke="#d9434f" stroke-width="1.3" stroke-linejoin="round" />
<polyline points="247.00,619.57 250.00,639.85 253.75,634.42 256.25,647.09 259.50,644.91 263.00,632.97 267.00,638.40 270.50,643.10 273.75,643.83 276.25,640.21 281.25,632.61 284.50,635.14 288.00,646.36 291.25,646.36 294.50,640.57 297.50,637.67 300.50,645.28 303.75,635.14 308.00,636.23" fill="none" stroke="#62a8d4" stroke-width="1.3" stroke-linejoin="round" />
<polyline points="43.60,700.30 46.80,699.21 49.80,696.68 53.30,707.54 56.30,691.25 59.50,691.25 62.90,676.41" fill="none" stroke="#222" stroke-width="1.0" stroke-linejoin="round" />
<circle cx="43.60" cy="700.30" r="1.45" fill="#701420"/>
<circle cx="46.80" cy="707.54" r="1.45" fill="#701420"/>
<circle cx="49.80" cy="706.45" r="1.45" fill="#701420"/>
<circle cx="53.30" cy="715.50" r="1.45" fill="#701420"/>
<circle cx="56.30" cy="694.51" r="1.45" fill="#701420"/>
<circle cx="59.50" cy="700.30" r="1.45" fill="#701420"/>
<circle cx="62.90" cy="696.68" r="1.45" fill="#701420"/>
<circle cx="66.60" cy="697.40" r="1.45" fill="#701420"/>
<circle cx="69.80" cy="691.25" r="1.45" fill="#701420"/>
<circle cx="73.70" cy="686.91" r="1.45" fill="#701420"/>
<circle cx="77.30" cy="677.86" r="1.45" fill="#701420"/>
<circle cx="80.60" cy="685.82" r="1.45" fill="#701420"/>
<circle cx="83.40" cy="682.20" r="1.45" fill="#701420"/>
<circle cx="86.40" cy="670.62" r="1.45" fill="#701420"/>
<circle cx="90.20" cy="672.79" r="1.45" fill="#701420"/>
<circle cx="93.50" cy="687.27" r="1.45" fill="#701420"/>
<circle cx="96.90" cy="667.00" r="1.45" fill="#701420"/>
<circle cx="101.10" cy="657.22" r="1.45" fill="#701420"/>
<circle cx="105.70" cy="660.48" r="1.45" fill="#701420"/>
<circle cx="108.00" cy="667.00" r="1.45" fill="#701420"/>
<circle cx="110.80" cy="670.62" r="1.45" fill="#701420"/>
<circle cx="113.50" cy="672.06" r="1.45" fill="#701420"/>
<circle cx="117.20" cy="658.67" r="1.45" fill="#701420"/>
<circle cx="120.70" cy="648.17" r="1.45" fill="#701420"/>
<circle cx="124.60" cy="651.07" r="1.45" fill="#701420"/>
<circle cx="128.10" cy="658.31" r="1.45" fill="#701420"/>
<circle cx="131.10" cy="659.39" r="1.45" fill="#701420"/>
<circle cx="133.80" cy="662.29" r="1.45" fill="#701420"/>
<circle cx="138.50" cy="645.64" r="1.45" fill="#701420"/>
<circle cx="141.90" cy="637.67" r="1.45" fill="#701420"/>
<circle cx="145.40" cy="643.83" r="1.45" fill="#701420"/>
<circle cx="147.70" cy="661.93" r="1.45" fill="#701420"/>
<circle cx="151.20" cy="659.76" r="1.45" fill="#701420"/>
<circle cx="154.20" cy="648.53" r="1.45" fill="#701420"/>
<circle cx="159.20" cy="642.74" r="1.45" fill="#701420"/>
<circle cx="162.70" cy="636.59" r="1.45" fill="#701420"/>
<circle cx="165.00" cy="640.21" r="1.45" fill="#701420"/>
<circle cx="167.30" cy="648.53" r="1.45" fill="#701420"/>
<circle cx="171.90" cy="661.93" r="1.45" fill="#701420"/>
<circle cx="174.90" cy="647.45" r="1.45" fill="#701420"/>
<circle cx="178.80" cy="631.88" r="1.45" fill="#701420"/>
<circle cx="182.30" cy="635.86" r="1.45" fill="#701420"/>
<circle cx="186.50" cy="643.83" r="1.45" fill="#701420"/>
<circle cx="188.80" cy="647.45" r="1.45" fill="#701420"/>
<circle cx="191.50" cy="643.47" r="1.45" fill="#701420"/>
<circle cx="195.00" cy="645.28" r="1.45" fill="#701420"/>
<circle cx="198.90" cy="628.26" r="1.45" fill="#701420"/>
<circle cx="201.90" cy="631.16" r="1.45" fill="#701420"/>
<circle cx="205.50" cy="647.45" r="1.45" fill="#701420"/>
<circle cx="208.75" cy="646.36" r="1.45" fill="#701420"/>
<circle cx="212.00" cy="643.83" r="1.45" fill="#701420"/>
<circle cx="215.50" cy="637.67" r="1.45" fill="#701420"/>
<circle cx="218.75" cy="639.48" r="1.45" fill="#701420"/>
<circle cx="222.50" cy="633.69" r="1.45" fill="#701420"/>
<circle cx="225.50" cy="636.95" r="1.45" fill="#701420"/>
<circle cx="227.50" cy="643.10" r="1.45" fill="#701420"/>
<circle cx="230.00" cy="668.08" r="1.45" fill="#701420"/>
<circle cx="233.75" cy="656.14" r="1.45" fill="#701420"/>
<circle cx="237.00" cy="652.88" r="1.45" fill="#701420"/>
<circle cx="247.00" cy="619.57" r="1.45" fill="#1f6f8c"/>
<circle cx="250.00" cy="639.85" r="1.45" fill="#1f6f8c"/>
<circle cx="253.75" cy="634.42" r="1.45" fill="#1f6f8c"/>
<circle cx="256.25" cy="647.09" r="1.45" fill="#1f6f8c"/>
<circle cx="259.50" cy="644.91" r="1.45" fill="#1f6f8c"/>
<circle cx="263.00" cy="632.97" r="1.45" fill="#1f6f8c"/>
<circle cx="267.00" cy="638.40" r="1.45" fill="#1f6f8c"/>
<circle cx="270.50" cy="643.10" r="1.45" fill="#1f6f8c"/>
<circle cx="273.75" cy="643.83" r="1.45" fill="#1f6f8c"/>
<circle cx="276.25" cy="640.21" r="1.45" fill="#1f6f8c"/>
<circle cx="281.25" cy="632.61" r="1.45" fill="#1f6f8c"/>
<circle cx="284.50" cy="635.14" r="1.45" fill="#1f6f8c"/>
<circle cx="288.00" cy="646.36" r="1.45" fill="#1f6f8c"/>
<circle cx="291.25" cy="646.36" r="1.45" fill="#1f6f8c"/>
<circle cx="294.50" cy="640.57" r="1.45" fill="#1f6f8c"/>
<circle cx="297.50" cy="637.67" r="1.45" fill="#1f6f8c"/>
<circle cx="300.50" cy="645.28" r="1.45" fill="#1f6f8c"/>
<circle cx="303.75" cy="635.14" r="1.45" fill="#1f6f8c"/>
<circle cx="308.00" cy="636.23" r="1.45" fill="#1f6f8c"/>
<circle cx="43.60" cy="700.30" r="1.3" fill="#111"/>
<circle cx="46.80" cy="699.21" r="1.3" fill="#111"/>
<circle cx="49.80" cy="696.68" r="1.3" fill="#111"/>
<circle cx="53.30" cy="707.54" r="1.3" fill="#111"/>
<circle cx="56.30" cy="691.25" r="1.3" fill="#111"/>
<circle cx="59.50" cy="691.25" r="1.3" fill="#111"/>
<circle cx="62.90" cy="676.41" r="1.3" fill="#111"/>
<polygon points="44.60,734.90 46.30,737.90 42.90,737.90" fill="#e4584a"/>
<polygon points="86.05,734.90 87.75,737.90 84.35,737.90" fill="#e4584a"/>
<polygon points="107.26,734.90 108.96,737.90 105.56,737.90" fill="#e4584a"/>
<polygon points="127.99,734.90 129.69,737.90 126.29,737.90" fill="#e4584a"/>
<polygon points="146.78,734.90 148.48,737.90 145.08,737.90" fill="#e4584a"/>
<polygon points="167.03,734.90 168.73,737.90 165.33,737.90" fill="#e4584a"/>
<polygon points="187.27,734.90 188.97,737.90 185.57,737.90" fill="#e4584a"/>
<polygon points="208.48,734.90 210.18,737.90 206.78,737.90" fill="#e4584a"/>
<polygon points="227.76,734.90 229.46,737.90 226.06,737.90" fill="#e4584a"/>
<polygon points="247.04,734.90 248.74,737.90 245.34,737.90" fill="#6fb0dc"/>
<polygon points="266.32,734.90 268.02,737.90 264.62,737.90" fill="#6fb0dc"/>
<polygon points="286.56,734.90 288.26,737.90 284.86,737.90" fill="#6fb0dc"/>
<line x1="163.80" y1="681.90" x2="172.00" y2="681.90" stroke="#222" stroke-width="0.9" />
<circle cx="167.90" cy="681.90" r="1.2" fill="#222"/>
<text x="173.10" y="684.50" font-size="7.6" stroke="#333333" stroke-width="0.14" fill="#333333" textLength="23.0" lengthAdjust="spacingAndGlyphs">Vehicle</text>
<line x1="163.80" y1="692.75" x2="172.00" y2="692.75" stroke="#e0504c" stroke-width="0.9" />
<circle cx="167.90" cy="692.75" r="1.2" fill="#c0302c"/>
<text x="173.10" y="695.35" font-size="7.6" stroke="#333333" stroke-width="0.14" fill="#333333" textLength="143.0" lengthAdjust="spacingAndGlyphs">Carboplatin 50 mg/kg and paclitaxel 30 mg/kg</text>
<line x1="163.80" y1="703.60" x2="172.00" y2="703.60" stroke="#6fb0d8" stroke-width="0.9" />
<circle cx="167.90" cy="703.60" r="1.2" fill="#2f7f9a"/>
<text x="173.10" y="706.20" font-size="7.6" stroke="#333333" stroke-width="0.14" fill="#333333" textLength="50.0" lengthAdjust="spacingAndGlyphs">R-DXd 10 mg/kg</text>
<polygon points="167.60,712.55 169.20,715.45 166.00,715.45" fill="#e8604c"/>
<text x="173.10" y="717.05" font-size="7.6" stroke="#333333" stroke-width="0.14" fill="#333333" textLength="130.8" lengthAdjust="spacingAndGlyphs">Administration: Carboplatin and paclitaxel</text>
<polygon points="167.60,723.40 169.20,726.30 166.00,726.30" fill="#7fb6e0"/>
<text x="173.10" y="727.90" font-size="7.6" stroke="#333333" stroke-width="0.14" fill="#333333" textLength="69.0" lengthAdjust="spacingAndGlyphs">Administration: R-DXd</text></svg></body></html>
